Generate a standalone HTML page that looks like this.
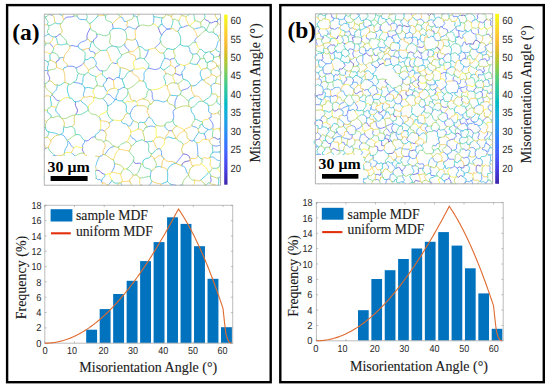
<!DOCTYPE html>
    <html><head><meta charset="utf-8"><style>
    html,body{margin:0;padding:0;background:#fff;width:550px;height:388px;overflow:hidden}
    svg{display:block}
    </style></head><body>
    <svg width="550" height="388" viewBox="0 0 550 388">
    <defs><linearGradient id="par" x1="0" y1="1" x2="0" y2="0"><stop offset="0.000" stop-color="#3e26a8"/><stop offset="0.048" stop-color="#4332cb"/><stop offset="0.095" stop-color="#4741e5"/><stop offset="0.143" stop-color="#4852f4"/><stop offset="0.190" stop-color="#4563fd"/><stop offset="0.238" stop-color="#3875fe"/><stop offset="0.286" stop-color="#2e87f7"/><stop offset="0.333" stop-color="#2797eb"/><stop offset="0.381" stop-color="#20a5e3"/><stop offset="0.429" stop-color="#12b1d6"/><stop offset="0.476" stop-color="#02bac3"/><stop offset="0.524" stop-color="#24c1ae"/><stop offset="0.571" stop-color="#37c897"/><stop offset="0.619" stop-color="#57cc7a"/><stop offset="0.667" stop-color="#81cc59"/><stop offset="0.714" stop-color="#abc739"/><stop offset="0.762" stop-color="#d1bf27"/><stop offset="0.810" stop-color="#f0ba36"/><stop offset="0.857" stop-color="#fec338"/><stop offset="0.905" stop-color="#fad62d"/><stop offset="0.952" stop-color="#f5e924"/><stop offset="1.000" stop-color="#f9fb15"/><stop offset="1" stop-color="#f9fb15"/></linearGradient></defs>
    <rect width="550" height="388" fill="#fff"/>
    <rect x="7.10" y="5.1" width="263.60" height="377.1" fill="none" stroke="#000" stroke-width="2.4"/>
<text x="12.30" y="39.80" font-family="Liberation Serif" font-weight="bold" font-size="23.5" fill="#000">(a)</text>
<g id="mapa"><g fill="none" stroke-width="0.95" stroke-linejoin="round" stroke-linecap="round"><path d="M86.7 162.4L85.8 164.4L83.7 165.3L82.5 167.0M69.6 172.9L67.6 173.2L66.2 174.5L64.8 175.9L63.1 176.7M181.5 165.7L182.4 163.9L183.5 162.6L184.9 161.8L186.6 161.3L188.3 161.0L190.0 160.5M220.5 52.8L219.7 54.6L219.2 56.3M58.9 174.6L58.9 172.6L60.0 170.7L59.8 168.6M220.5 127.7L220.3 127.7" stroke="#7463c1"/><path d="M106.7 78.9L108.7 77.8L110.4 78.2L112.0 79.4L113.6 80.2M161.6 35.1L160.7 33.6L159.9 32.1L159.3 30.5L158.7 28.8L158.0 27.2M75.6 114.5L76.9 112.6L77.5 110.8L77.2 109.0L76.3 107.3L75.5 105.5L75.3 103.7L75.5 101.9M55.0 155.5L55.8 156.0L56.7 156.2M96.1 170.3L97.9 170.3L99.4 170.9L100.7 172.0L102.0 173.2L103.5 174.0L105.1 174.4M183.2 153.9L185.1 154.2L186.9 154.7L188.4 155.5L189.5 157.0L190.3 158.9M70.9 182.5L72.9 183.6L75.1 183.9M52.5 52.5L51.6 52.7L51.0 53.4M219.6 138.7L217.8 139.4L216.3 138.5L214.7 137.5L213.0 137.7" stroke="#786cd9"/><path d="M87.2 39.0L87.0 37.2L87.0 35.4L87.4 33.8L88.1 32.2L88.9 30.7L89.7 29.1L90.5 27.6M48.4 70.6L47.7 72.3L47.9 74.1L48.9 75.8L49.7 77.5L49.6 79.3L48.6 81.1M139.0 26.1L137.1 27.2L136.1 29.1M206.5 30.2L205.6 30.3M82.7 147.6L82.3 149.7L83.2 151.5L84.1 153.3M116.4 99.2L115.2 99.5M133.4 161.1L134.5 162.9L136.1 163.5L138.1 163.2L139.8 163.2L141.3 164.2M147.4 142.2L145.8 141.7L144.4 140.8M102.4 183.0L101.8 182.0L101.6 181.0M204.5 18.6L205.6 19.9L207.2 20.6L208.8 21.3L209.8 22.7M209.8 22.7L211.7 22.9L213.4 22.1L215.2 21.3L217.1 21.6M60.3 34.0L58.5 34.7L57.2 36.3L55.4 36.9M168.8 130.7L170.6 130.7L172.3 130.7M181.9 74.4L179.9 75.3L178.1 74.7L176.3 73.7L174.4 73.6M56.0 62.9L56.9 61.1L58.8 60.1L59.3 58.1M48.5 14.6L50.3 14.7L52.0 15.2" stroke="#7a76ec"/><path d="M74.3 15.9L72.8 16.5L71.3 16.9L69.6 17.0L67.9 17.0L66.3 17.4L64.9 18.3L63.7 19.7M96.7 34.3L97.0 36.2L96.3 37.7L94.8 38.7L93.6 40.0L93.2 41.6M76.1 68.1L77.8 67.2L79.4 66.3L81.1 65.4L82.6 64.2L83.9 62.9M52.1 95.0L53.3 96.1L54.3 97.4L55.3 98.8L56.5 99.9L58.0 100.6L59.8 101.0M84.7 140.5L86.8 140.9L88.5 140.4L90.0 139.0L91.5 137.6L93.2 136.9L95.1 136.9M44.3 149.8L45.4 149.0L46.2 147.9M220.5 96.5L220.1 96.4M53.6 47.8L52.3 46.3L51.1 44.6L49.6 43.3M210.0 182.8L211.1 181.2L211.0 179.5L210.5 177.7L211.0 176.1M93.2 41.6L92.5 41.8L91.7 41.8" stroke="#7b83f7"/><path d="M70.0 46.0L72.0 45.5L74.0 45.9L75.9 46.4L77.9 46.2M113.0 28.7L113.2 27.0L112.5 25.4L112.5 23.8M67.3 66.1L69.2 66.2L71.0 66.2L72.9 66.3L74.6 67.0L76.1 68.1M95.6 65.6L96.7 66.9L97.8 68.4L98.9 69.9L100.4 70.7L102.4 71.0M112.8 62.6L115.0 63.5L117.3 63.3M130.4 71.2L131.1 70.9L131.9 70.9M170.5 28.8L168.5 29.1L166.6 29.6L165.1 30.7L163.9 32.1L162.7 33.6L161.6 35.1M188.4 25.5L186.7 25.8L185.0 26.4L183.4 27.1L181.8 27.4M148.2 68.1L150.0 68.4L151.7 68.9L153.5 69.3L155.3 69.5L157.0 69.3L158.7 68.6L160.4 67.6M150.6 89.9L151.5 91.3L152.1 92.8L152.3 94.5L152.2 96.2L152.4 97.8L153.0 99.3L154.1 100.7M203.0 101.4L203.6 101.4M176.2 163.1L177.2 161.8L178.2 160.5L179.2 159.2L180.3 157.9L181.3 156.6L182.3 155.2L183.2 153.9M171.3 184.4L173.6 184.8L175.9 185.2M209.0 118.2L210.1 119.7L211.3 121.3L212.3 122.8L213.0 124.5L213.0 126.4L212.7 128.5M219.2 128.6L220.3 127.7M190.7 85.6L189.4 86.9L188.0 88.1L186.4 88.9L184.7 89.5L183.0 90.0L181.3 90.6M56.7 156.2L56.5 158.1L56.5 159.9L56.5 161.7L56.5 163.6L56.3 165.4M217.1 21.6L217.4 20.7L217.6 19.8M124.8 43.7L124.8 45.7L125.6 47.3L127.2 48.5L128.4 49.8L129.1 51.4M127.9 26.9L126.2 28.6L124.6 30.3M217.8 23.2L217.5 22.4L217.1 21.6M181.0 14.2L181.4 15.0L182.0 15.6M208.6 172.2L208.4 172.2M170.0 60.3L171.1 58.9L172.8 58.7L174.3 58.2M205.8 139.6L205.7 137.5L205.0 135.7L204.2 133.9M180.1 64.5L178.4 65.7L176.3 66.4L175.0 68.2M104.5 131.1L102.5 130.1L100.2 129.9" stroke="#798ffd"/><path d="M77.9 46.2L78.8 44.5L79.8 43.1L81.3 42.2L82.9 41.6L84.5 41.0L86.0 40.1L87.2 39.0M81.8 84.3L80.3 83.6L78.6 83.1L77.0 82.9L75.3 82.6L73.7 82.3M155.1 47.9L156.1 46.5L157.4 45.4L158.8 44.3L159.9 43.0L160.7 41.4M195.9 42.6L194.5 40.2L196.1 38.7L197.4 37.0M148.6 49.8L148.1 51.4L147.5 53.0L146.9 54.5L146.2 56.0L145.3 57.4L144.3 58.7M99.5 156.6L101.5 155.8L103.2 154.4M173.0 119.7L173.6 118.2L173.8 116.6L173.5 114.8L173.1 113.0L173.2 111.4L174.1 109.9L175.7 108.6M209.0 118.2L211.2 117.4L210.9 115.2L211.6 113.6M193.8 140.5L191.8 141.1L189.9 140.2M220.3 127.7L220.5 127.3M157.7 148.9L159.0 148.7L160.3 149.2M59.8 168.6L61.5 168.1L63.3 168.1L65.0 168.5L66.7 168.9L68.4 168.8M45.7 179.9L45.0 179.4L44.3 178.7M80.9 167.3L79.5 165.8L77.9 165.0L75.9 164.7L74.1 164.2L72.5 163.2M162.2 24.4L163.5 25.9L164.9 27.4L166.4 28.5L168.3 29.0L170.5 28.8M175.1 107.5L174.9 105.8L174.9 104.0L175.0 102.4L175.4 100.7L176.0 99.1L176.7 97.6L177.5 96.0M107.2 94.0L108.9 94.4L110.3 95.2L111.4 96.4L112.5 97.7L113.8 98.7L115.2 99.5M219.6 138.7L220.3 140.4L219.6 142.2L220.5 143.8M122.2 79.1L120.5 78.6L119.0 77.6M200.1 59.1L199.1 60.8L197.8 62.5L197.0 64.4M164.9 58.2L166.7 58.7L168.5 59.2L170.0 60.3M67.3 140.3L68.6 141.4L69.6 142.7L70.3 144.2L71.1 145.7L72.3 146.8L73.8 147.6M95.2 54.2L94.5 52.5L92.9 51.7L90.9 51.4L89.6 50.4L89.2 48.4M212.4 145.3L214.0 145.8L215.7 146.0L217.3 146.0L218.9 145.6L220.5 145.0" stroke="#709cff"/><path d="M113.6 80.2L115.1 78.8L116.7 77.5L119.0 77.6M134.9 38.9L136.3 40.1L137.1 41.6L137.6 43.3L138.0 45.0L138.7 46.6M148.2 68.1L147.3 69.0L146.5 69.9M84.7 140.5L84.5 142.4L83.3 144.0L82.4 145.6L82.7 147.6M111.5 172.3L112.5 170.7L113.4 169.1L114.1 167.4L114.5 165.5L114.7 163.6M137.3 105.5L135.3 106.1L133.6 107.1L132.5 108.5L131.6 110.3L130.9 112.0L130.0 113.7M160.3 149.2L161.2 150.6L161.5 152.2L161.4 154.0L161.7 155.6L162.6 157.0M197.9 155.9L197.8 154.3L197.8 152.6L197.7 150.9L197.6 149.2L197.5 147.6L197.3 145.9L197.0 144.3L196.7 142.6M180.3 185.2L181.4 184.9L182.4 184.3M80.5 178.8L79.5 177.6L78.1 176.5L77.0 175.3L76.7 173.5M48.1 70.4L46.2 70.5L44.3 70.6M48.3 25.4L47.6 24.9L46.9 24.6M155.3 127.2L153.7 126.5L152.0 126.1L150.3 126.1L148.6 126.5L146.9 127.0M88.6 182.1L88.4 183.5L88.9 184.8M60.8 185.2L60.8 184.7M114.4 146.3L112.5 146.9L110.7 147.6L109.3 148.7L108.0 150.0L106.9 151.5L105.9 153.1L105.0 154.7M88.6 185.2L88.9 184.8M197.8 128.7L196.5 127.5L194.9 126.9L193.2 126.5L191.8 125.6M117.9 89.8L119.6 89.4L121.2 88.5L122.8 87.6L124.6 87.4M130.5 134.3L130.9 136.4L132.1 137.9L133.9 138.8L135.5 140.0L136.3 141.7M54.5 177.0L55.9 176.0L57.3 175.2L58.9 174.6M86.6 156.0L86.8 158.2L86.8 160.3L86.7 162.4M55.0 155.5L53.3 155.8L51.8 156.6L50.5 157.8L49.1 158.8L47.5 159.4L45.7 159.4" stroke="#68a9f9"/><path d="M86.3 20.0L84.6 19.6L82.9 19.5L81.0 19.5L79.4 19.1L78.0 17.9L77.0 16.0M59.3 58.1L61.6 57.5L63.8 57.9M75.5 101.9L77.4 101.7L79.1 101.0L80.8 100.5M131.9 70.9L132.9 69.9L133.9 68.8M181.8 27.4L179.5 27.8L179.0 29.9L177.7 31.2M152.9 23.9L153.6 22.2L153.8 20.4L153.8 18.5L154.0 16.8M192.6 54.2L191.0 53.0L190.1 51.5L189.7 49.6L189.2 47.9L188.3 46.3M184.2 65.5L185.0 67.6L184.3 69.3L182.7 70.8L181.8 72.4L181.9 74.4M181.9 74.4L182.4 76.0L182.6 77.8L183.4 79.3M100.2 120.1L100.2 118.3L99.0 117.0M107.7 106.0L107.2 104.2L106.4 102.6L105.2 101.1L104.0 99.8L102.8 98.4M67.3 140.4L66.2 138.9L65.2 137.3L64.0 135.9L62.5 135.0L60.6 134.4M144.8 122.3L146.1 121.2L146.8 119.7L147.6 118.2L149.1 117.3M188.5 174.6L187.5 173.4L186.7 172.0L186.1 170.3L185.6 168.7L184.8 167.3L183.4 166.3L181.5 165.7M151.3 170.6L150.9 172.5L150.5 174.3L150.3 176.3M45.7 159.4L45.4 157.8L44.3 156.7M95.8 170.7L96.1 170.3M218.2 178.2L219.7 177.5L220.5 176.0M44.3 127.5L45.5 127.2M215.5 83.1L213.7 83.5L212.3 84.5L211.0 85.7M103.4 86.1L103.6 84.1L105.0 82.5L106.4 81.0L106.7 78.9M88.9 184.8L89.3 185.2M101.6 181.0L100.0 179.6L97.6 179.7L96.1 178.1M140.8 184.9L142.0 185.2M107.4 91.5L105.9 90.5L105.3 88.9L104.7 87.2L103.4 86.1M171.3 184.4L171.0 185.2M220.5 160.3L218.5 160.5L216.8 159.9L215.3 158.6L213.8 157.3L212.1 156.9L210.0 157.3M177.4 83.8L176.2 83.1L174.8 82.9M120.5 16.8L122.4 17.6L123.3 19.7L124.4 21.5L126.9 21.4M136.1 29.1L134.3 29.0L132.7 28.4L131.2 27.5L129.6 26.9L127.9 26.9M137.1 17.0L135.5 16.1L133.6 16.0M108.7 185.2L108.4 184.6M128.9 52.2L129.1 51.4M135.7 59.6L138.0 58.9L140.0 57.8M71.2 152.6L72.6 153.7L73.9 155.0L75.2 156.2M128.2 126.4L130.3 125.7L131.4 124.1L132.2 122.2L133.4 120.7M212.4 152.8L214.2 152.0L216.0 152.1L217.9 152.2L219.7 151.7M212.7 128.5L211.1 129.0L209.6 129.8L207.9 129.3" stroke="#64b4f1"/><path d="M112.2 45.8L114.1 46.3L116.1 46.7M93.6 57.7L94.4 59.2L95.3 60.6L96.2 62.1L96.3 63.8L95.6 65.6M67.3 66.1L66.0 67.3L64.0 67.9L63.1 69.8M57.1 85.0L57.1 86.9L56.8 88.6L56.0 90.2L54.9 91.5L53.6 92.7L52.2 93.8M83.9 96.9L83.3 95.1L83.5 93.3L84.3 91.6L84.8 89.8L84.7 88.1M215.5 48.7L216.5 47.1L217.1 45.3L217.4 43.4L218.1 41.7L219.4 40.3M219.4 40.3L219.4 40.2M160.4 67.6L161.0 66.0L161.6 64.3L162.2 62.7L162.9 61.1L163.8 59.6L164.9 58.2M146.5 69.9L145.1 71.2L144.2 72.7L143.9 74.4L144.1 76.1L144.2 77.9L143.9 79.6L143.3 81.1M154.1 100.7L155.7 100.3L157.3 100.3L159.0 100.7L160.6 101.3L162.3 101.9L163.9 101.9L165.6 101.3L167.2 100.3M191.9 85.8L193.9 85.8L195.7 85.3L197.1 84.3L198.3 83.0L199.4 81.6L200.8 80.5L202.2 79.6M128.2 126.4L127.3 124.6L125.6 123.8L123.4 123.5L121.9 122.4L121.3 120.3M113.1 120.3L111.6 121.0L110.3 121.9L109.1 123.1M56.6 106.9L55.7 109.1L55.8 111.0L56.9 112.5L58.5 113.9L59.6 115.4L60.2 117.1M115.2 99.5L114.3 100.9L113.2 102.2L112.0 103.4L110.7 104.4L109.2 105.2L107.7 106.0M64.5 153.4L64.5 151.7L64.9 150.1L65.6 148.5L66.6 147.0L67.4 145.5L67.8 143.9L67.7 142.2L67.3 140.4M99.5 156.6L98.7 158.0L98.0 159.4L97.4 160.9L96.8 162.4L96.4 163.9L95.8 165.5L95.2 166.9M211.6 113.6L209.4 112.6L208.5 111.0L208.7 109.0L208.8 107.0L208.3 105.3M130.0 113.7L130.4 115.6L131.0 117.5L132.0 119.2L133.4 120.7M162.6 157.0L163.3 157.8L164.0 158.7M161.6 167.1L159.5 166.4L157.4 166.7L155.4 167.5M152.2 181.3L151.3 182.7L150.4 184.0L149.3 185.2M207.9 129.3L206.1 128.3L204.4 127.4L203.1 126.0L202.2 124.1M204.2 133.9L205.2 132.2L206.9 131.0L207.9 129.3M44.3 36.2L46.0 35.8L47.2 34.4L48.9 34.2M213.6 57.2L213.3 55.1L211.2 54.0L210.5 52.1M88.6 182.1L87.5 179.9L85.4 178.7M165.0 125.0L164.9 127.1L165.9 128.5L167.4 129.6L168.8 130.7M193.8 140.5L194.4 139.0L195.2 137.5L196.1 136.2L197.1 134.9L197.9 133.5L198.8 132.1M122.2 185.2L121.1 184.2L120.8 182.8M217.6 19.8L219.3 19.1L220.5 17.8M53.3 14.2L52.8 14.9L52.0 15.2M116.4 99.2L115.9 97.2L116.5 95.4L117.7 93.6L118.3 91.8L117.9 89.8M48.9 34.2L50.2 35.4L51.6 36.2L53.2 36.9M53.2 36.9L54.3 36.9L55.4 36.9M216.9 66.0L218.0 66.1M196.8 53.7L194.7 54.0L192.6 54.2M108.4 184.6L109.9 183.4L111.1 181.9L112.1 180.3M194.1 29.3L195.8 28.5L197.7 28.1L199.6 27.7L201.3 26.8" stroke="#5ebeea"/><path d="M124.6 30.3L123.0 29.5L121.4 28.8L119.8 28.4L118.1 28.3L116.4 28.4L114.7 28.5L113.0 28.7M83.9 62.9L84.2 61.2L85.1 59.7M82.3 50.1L80.5 49.1L79.0 47.9L77.9 46.2M119.0 77.6L119.4 76.0L119.7 74.4L120.0 72.7L120.1 71.0L120.2 69.4L120.2 67.7M102.4 71.0L102.7 72.4L102.2 73.7M84.7 88.1L83.6 85.9L81.8 84.3M84.6 74.7L83.5 76.2L83.0 77.7L82.9 79.4L82.9 81.2L82.6 82.8L81.8 84.3M84.7 88.1L86.6 87.6L88.5 87.5L90.3 87.8L92.1 88.2L94.0 88.7M199.6 49.3L201.6 49.5L203.1 51.0L204.6 52.4L206.8 52.4M218.2 36.8L217.1 34.9L214.9 34.1L213.6 32.4M149.3 89.5L150.6 89.9M202.2 79.6L201.6 78.0L200.9 76.3L200.3 74.7L200.2 73.0L200.7 71.3L201.7 69.6M211.5 93.6L211.7 91.6L211.5 89.6L211.1 87.7L211.0 85.7M204.1 80.1L203.1 80.0L202.2 79.6M95.1 136.9L95.4 135.0L96.6 133.7L98.2 132.7L99.5 131.5L100.2 129.9M48.8 131.9L50.5 132.3L52.2 132.6L53.9 132.9L55.6 133.3L57.2 133.9L58.8 134.8M60.6 134.4L62.4 133.3L63.3 131.9L63.5 130.1L63.6 128.3L64.0 126.6M88.1 108.7L88.2 109.5L88.2 110.3M122.6 101.0L121.0 100.8L119.3 100.8L117.7 100.4L116.4 99.2M149.1 117.3L150.8 118.2L152.1 119.5L153.0 121.1L153.8 122.8L155.0 124.3L156.5 125.4M194.9 119.2L194.8 117.4L194.3 115.7L193.4 114.2L192.2 112.8L191.3 111.2L191.0 109.5L191.1 107.7M175.6 138.3L173.8 138.5L171.9 138.1L170.0 137.3L168.2 136.9L166.4 137.7L164.8 139.5M175.8 163.2L173.8 163.8L172.0 164.5L170.5 165.6L169.3 167.0L168.2 168.6L167.3 170.4M167.3 170.4L167.6 172.2L167.7 174.0L167.7 175.9L167.6 177.7L167.5 179.5L167.3 181.3M161.2 184.3L162.6 183.4L164.3 182.9L166.0 182.4L167.3 181.3M215.5 48.7L216.4 50.2L217.7 51.1L219.2 51.8L220.5 52.7M63.1 176.7L63.5 178.4L63.3 180.2L63.0 182.0L63.1 183.8M48.1 70.4L47.5 68.7L47.6 66.9L48.2 65.2L48.4 63.5L47.8 61.8M47.8 61.8L46.0 60.9L44.3 59.9M208.2 62.3L210.0 61.1L212.2 61.1M170.2 94.9L172.0 95.4L173.8 95.5L175.7 95.6L177.5 96.0M85.4 178.7L83.8 179.0L82.2 179.2L80.5 178.8M162.3 17.8L161.6 19.5L161.5 21.1L161.7 22.8L162.2 24.4M93.6 57.7L91.7 57.3L90.0 57.8L88.5 59.0L86.9 59.8L85.1 59.7M62.7 16.2L61.1 15.0L59.3 14.2M55.6 22.8L57.2 23.7L58.9 23.8L60.6 23.8M80.8 100.5L81.9 102.0L83.3 103.2L84.9 104.3L86.3 105.4L87.4 106.9L88.1 108.7M105.1 174.4L104.8 176.3L103.5 177.8L102.1 179.1L101.6 181.0" stroke="#54c7e2"/><path d="M98.2 15.9L97.0 17.0L95.9 18.2L94.8 19.4L93.7 20.6L92.5 21.7L91.2 22.7L89.9 23.6M102.2 73.7L103.0 75.3L104.2 76.5L105.6 77.6L106.7 78.9M69.6 98.0L69.0 96.3L68.5 94.6L67.9 92.9L67.5 91.2L67.3 89.4L67.4 87.7L67.9 85.9L68.6 84.1M69.6 98.0L71.6 98.1L72.8 99.5L73.9 101.2L75.5 101.9M122.2 79.1L122.6 80.8L123.2 82.4L123.8 84.0L124.3 85.7L124.6 87.4M138.7 46.6L140.5 46.6L142.1 47.3L143.5 48.8L144.9 50.1L146.6 50.4L148.6 49.8M167.2 48.9L169.0 48.6L170.8 49.2L172.6 49.6L174.5 49.1M180.3 44.4L181.7 45.3L183.3 45.9L184.9 46.2L186.6 46.2L188.3 46.3M154.0 16.8L153.4 15.4L152.6 14.2M163.7 70.1L162.0 68.9L160.4 67.6M143.3 81.1L144.8 82.1L145.8 83.6L146.1 85.5L146.5 87.3L147.6 88.6L149.3 89.5M134.6 100.7L135.6 101.1L136.6 101.7M197.0 64.4L195.1 64.3L193.3 64.2L191.5 63.7L189.8 62.9M183.4 79.3L185.1 79.8L186.7 80.4L188.1 81.2L189.2 82.4L190.0 83.9L190.7 85.6M45.5 127.2L45.9 129.2L46.7 131.0L48.8 131.9M127.7 113.4L126.6 111.9L126.1 110.1L126.3 108.2L126.5 106.3L125.9 104.6L124.7 103.1M208.3 105.3L207.2 103.4L205.1 102.8L203.6 101.4M138.4 123.5L139.9 122.3L141.5 122.3L143.2 122.7L144.8 122.3M142.7 163.9L142.9 161.7L143.6 160.0L144.9 159.1L146.7 158.5L148.5 158.0L149.9 157.1L151.0 155.9M196.7 142.6L195.1 141.7L193.8 140.5M167.3 181.3L168.5 182.5L169.7 183.7L171.3 184.4M200.6 180.3L201.7 179.1L202.9 178.1L204.2 177.0L205.4 176.0L206.6 174.9L207.6 173.6L208.4 172.2M188.7 101.5L189.4 99.4L191.1 98.4L193.1 97.6L194.5 96.2M219.7 151.7L220.1 153.1L220.5 154.6M51.3 106.4L51.3 104.8L51.2 103.1L50.9 101.5L50.7 99.9L50.5 98.2L50.5 96.6M216.8 100.9L217.1 102.6L218.3 103.7L220.1 104.6L220.9 106.0L220.5 108.0M44.3 16.7L45.6 17.0M51.1 117.3L51.1 115.5L50.1 114.2L48.4 113.2L47.4 111.8L47.4 110.0M217.9 167.8L218.8 166.7L219.9 165.8M133.6 16.0L133.3 15.1L133.1 14.2M218.2 178.2L218.8 180.0L218.8 181.7L218.6 183.4L218.3 185.2M46.0 185.2L46.8 184.6M51.0 53.4L49.8 55.0L49.9 56.8L50.2 58.6L49.9 60.3M105.8 140.5L104.5 141.1L103.4 141.9M89.2 48.4L90.3 46.9L90.6 45.2L90.9 43.4L91.7 41.8M220.5 137.4L220.2 138.1L219.6 138.7M52.1 95.0L51.5 95.9L50.5 96.6" stroke="#49ced4"/><path d="M109.7 33.5L109.8 31.3L111.2 29.9L113.0 28.7M100.4 50.4L102.5 50.5L104.5 50.2L106.6 50.3M106.6 50.3L107.4 48.4L108.8 47.3L110.6 46.6L112.2 45.8M66.9 43.8L65.1 44.1L63.3 44.6L61.5 44.9L59.7 44.8L57.8 44.1M117.3 63.3L117.0 61.0L117.9 59.3L119.7 58.1L121.2 56.7L121.7 54.8M121.7 54.8L120.5 53.7L119.5 52.3L118.9 50.7L118.3 49.2L117.3 47.8L116.1 46.7M57.1 85.0L59.0 85.4L60.6 85.0L62.0 84.0L63.4 83.0L65.0 82.4M73.7 82.3L75.3 81.3L76.4 80.0L76.9 78.3L77.3 76.6L77.7 74.9L78.5 73.4M96.3 76.6L94.5 76.2L92.8 75.6L91.1 74.9L89.7 73.8L88.4 72.4M130.4 71.2L128.8 71.8L127.5 72.8L126.5 74.2L125.8 75.8L124.9 77.2L123.7 78.3L122.2 79.1M160.7 41.4L159.9 39.1L160.8 37.1L161.6 35.1M174.5 49.1L176.1 48.1L177.4 46.8L178.7 45.4L180.3 44.4M180.3 44.4L180.5 42.6L180.7 40.9L180.7 39.2L180.6 37.5L180.1 35.9L179.5 34.3L178.7 32.8L177.7 31.2M206.8 52.4L208.6 51.7L210.5 52.1M164.9 58.2L164.7 56.5L164.1 54.7L163.7 53.0M174.3 58.2L175.5 59.4L176.3 61.1L176.9 62.8L178.1 63.9L180.1 64.5M165.3 84.7L165.7 82.9L165.3 81.1L164.4 79.2L163.8 77.4L164.3 75.6L165.9 73.9M203.6 101.4L205.0 100.2L206.6 99.1L208.2 98.2L209.7 97.0L210.7 95.5L211.5 93.6M75.5 134.7L77.8 134.5L79.7 134.9L81.0 136.3L82.0 137.9L83.2 139.4L84.7 140.5M58.8 134.8L59.8 134.8L60.6 134.4M124.7 103.1L123.3 102.4L122.6 101.0M113.4 159.9L114.1 161.8L114.7 163.6M194.9 119.2L196.8 119.6L198.6 120.5L200.4 121.4L202.3 121.8M175.8 163.2L176.2 163.1M210.0 157.3L210.5 155.6L211.3 154.1L212.4 152.8M212.4 152.8L212.9 150.9L212.7 149.1L212.3 147.2L212.4 145.3M44.6 162.8L45.2 161.1L45.7 159.4M103.8 14.2L103.8 15.3M198.8 132.1L200.4 133.3L202.3 133.3L204.2 133.9M76.7 173.5L74.9 174.0L73.2 173.7L71.4 173.2L69.7 173.0M44.3 83.4L45.2 83.7M147.4 142.2L149.0 141.3L150.9 141.5L152.6 141.0M112.1 180.3L113.4 182.3L115.2 183.1L117.3 183.1L119.3 183.1M204.3 14.2L205.0 16.3L204.5 18.6M55.4 36.9L56.5 38.6L57.0 40.4L57.4 42.3L57.8 44.1M178.7 20.5L179.0 22.5L179.6 24.2L180.6 25.9L181.8 27.4M173.0 19.6L172.9 21.5L172.6 23.4L172.0 25.2L171.3 27.0L170.7 28.8M170.2 65.5L168.5 66.6L167.0 67.8L165.4 69.0L163.7 70.1M63.1 183.8L61.9 184.1L60.8 184.7M96.1 178.1L96.1 176.2L95.6 174.4L95.3 172.6L95.8 170.7M167.2 48.9L165.9 50.2L164.8 51.6L163.7 53.0M157.7 148.9L156.2 149.6L155.0 150.8L154.1 152.2L152.9 153.3L151.3 153.8M154.0 16.8L155.7 16.9L157.3 17.2L159.0 17.6L160.6 17.8L162.3 17.8M201.3 26.8L203.5 27.1L205.0 28.1L205.6 30.3M158.0 27.2L159.7 26.8L160.3 24.6L162.2 24.4" stroke="#61d3c5"/><path d="M105.6 15.9L104.7 15.7L103.8 15.3M93.2 41.6L93.7 43.3L94.4 44.8L95.3 46.2L96.4 47.4L97.7 48.4L99.0 49.4L100.4 50.4M116.1 46.7L118.2 47.1L120.1 47.0L121.8 46.2L123.3 45.0L124.8 43.7M85.1 59.7L84.9 58.1L85.0 56.3L85.2 54.5L85.0 52.8L84.0 51.3L82.3 50.1M78.5 73.4L77.1 71.9L76.8 69.9L76.1 68.1M88.4 72.4L86.3 73.3L84.6 74.7M189.8 25.8L188.4 25.5M213.6 32.4L211.8 32.0L209.7 32.3L207.9 32.0L206.5 30.2M137.1 17.0L137.5 18.8L137.9 20.7L138.4 22.5L138.7 24.3L139.0 26.1M144.3 58.7L145.1 60.3L146.3 61.6L147.7 62.8L148.8 64.2L148.9 65.9L148.2 68.1M127.3 89.1L128.0 90.8L128.0 92.7M88.2 110.3L86.7 111.2L85.3 112.1L83.8 113.0L82.4 113.8L80.8 114.4L79.2 114.7L77.4 114.7L75.6 114.5M72.3 126.6L73.8 127.9L74.7 129.5L75.0 131.2L75.2 133.0L75.5 134.7M106.8 111.3L107.5 109.6L107.7 107.8L107.7 106.0M106.8 111.3L107.5 113.1L108.1 114.8L108.9 116.5L110.0 118.0L111.4 119.3L113.1 120.3M48.4 147.7L49.0 149.4L49.9 150.9L51.0 152.2L52.3 153.3L53.7 154.4L55.0 155.5M175.7 108.6L175.1 107.5M173.0 119.7L173.2 121.8L173.8 123.6L175.0 125.1L176.9 126.1M203.0 101.4L201.0 101.2L199.3 101.5L197.8 102.3L196.6 103.7L195.5 105.1L194.2 106.4L192.7 107.2L191.1 107.7M144.4 140.8L142.7 140.0L141.1 139.9L139.5 140.5L137.9 141.2L136.3 141.7M151.3 153.8L149.6 152.5L148.7 151.0L148.5 149.2L148.7 147.3L148.8 145.4L148.3 143.7L147.4 142.2M197.9 155.9L199.3 157.0L200.5 158.4L202.2 158.9M150.3 176.3L150.4 178.2L151.1 179.8L152.2 181.3M181.3 90.6L180.9 92.6L180.2 94.5M220.5 149.9L220.3 150.8L219.7 151.7M44.3 46.5L45.7 45.2L46.0 43.4M95.2 166.9L94.2 165.5L92.8 164.7L91.0 164.6L89.2 164.5L87.8 163.8L86.7 162.4M202.2 124.1L200.0 124.9L199.8 127.6L197.8 128.7M56.3 165.4L57.5 167.6L59.8 168.6M68.4 168.8L68.6 166.8L70.4 165.6L71.0 163.8M217.9 167.8L216.1 168.4L214.2 168.2L212.4 168.3M208.6 172.2L210.2 173.9L211.0 176.1M50.8 168.2L49.5 167.2L48.3 166.1L47.1 164.9L45.9 163.8L44.6 162.8M45.2 83.7L47.1 82.7L48.6 81.1M66.6 184.6L67.8 183.4L69.5 183.3L70.9 182.5M72.3 126.6L70.7 126.5L69.0 126.9L67.3 127.6L65.7 127.5L64.0 126.6M194.0 14.2L194.0 15.9L194.3 17.5L194.8 19.1L195.0 20.7M206.8 52.4L205.5 53.7L204.1 54.9L203.4 56.4L204.0 58.5M204.0 58.5L205.4 59.8L205.8 62.2L208.2 62.3M212.2 61.1L213.4 59.4L213.6 57.2M219.9 165.8L219.9 163.6L220.5 161.5M56.1 182.8L54.9 183.9L53.4 184.5L52.0 185.2M46.8 184.6L47.2 182.9L46.4 181.4L45.7 179.9M210.0 182.8L208.2 183.2L206.7 184.4L204.9 184.9M86.5 14.2L87.2 16.2L87.0 18.1L86.3 20.0M98.2 15.9L97.8 15.0L97.2 14.2M66.7 185.2L66.6 184.6M55.6 22.8L53.8 23.6L52.1 24.6L50.3 25.4L48.3 25.4M211.5 74.1L210.9 72.3L210.9 70.4M210.9 70.4L209.3 70.0L208.3 68.5L206.8 67.9M127.7 113.4L128.8 113.7L130.0 113.7M200.1 59.1L199.7 56.9L198.3 55.3L196.8 53.7M56.3 165.4L54.5 166.5L52.7 167.4L50.8 168.2M151.3 170.6L150.0 169.4L148.3 168.6L146.3 168.2L144.6 167.5L143.4 166.1L142.7 163.9M46.9 24.6L48.2 22.4L47.4 20.6L46.0 18.9L45.6 17.0M80.9 167.3L81.7 166.9L82.5 167.0M122.6 101.0L123.4 99.6L124.5 98.3L125.7 97.1L126.9 95.9L127.6 94.4L128.0 92.7M120.5 16.8L120.3 16.8M144.3 58.7L142.2 58.3L140.0 57.8M46.6 137.2L47.8 135.6L48.6 133.9L48.8 131.9M138.4 123.5L138.6 125.4L138.6 127.3L137.8 129.1" stroke="#6fd7b4"/><path d="M77.0 16.0L75.7 16.0L74.3 15.9M63.7 19.7L62.8 21.2L62.1 22.8L60.6 23.8M60.3 34.0L61.2 35.4L62.3 36.7L63.6 37.8L64.9 39.0L66.0 40.3L66.6 42.0L66.9 43.8M66.9 43.8L68.5 44.7L70.0 46.0M89.9 23.6L88.2 22.9L87.5 21.2L86.3 20.0M90.5 27.6L91.0 29.6L92.5 30.7L94.6 31.2L96.1 32.3L96.7 34.3M96.7 34.3L98.3 34.2L99.9 34.4L101.6 34.9L103.3 35.5L104.9 35.8L106.5 35.6L108.1 34.8L109.7 33.5M112.5 23.8L111.4 22.4L109.8 21.5L107.8 20.9L106.2 20.0L105.5 18.3L105.6 15.9M127.0 39.6L126.8 38.0L126.6 36.4L126.5 34.8L126.1 33.3L125.4 31.8L124.6 30.3M53.6 47.8L53.6 49.4L52.8 50.9L52.5 52.5M52.5 52.5L54.5 52.9L56.2 53.6L57.4 54.9L58.4 56.5L59.3 58.1M102.4 71.0L104.4 70.9L106.1 70.4L107.4 69.3L108.4 67.8L109.2 66.2L110.2 64.7L111.4 63.6L112.8 62.6M68.6 84.1L70.6 84.4L72.1 83.3L73.7 82.3M96.7 85.8L97.3 83.9L96.9 82.1L95.8 80.3L95.5 78.5L96.3 76.6M124.6 87.4L126.0 88.2L127.3 89.1M188.3 46.3L189.9 45.6L191.1 44.4L192.3 42.9L193.8 42.3L195.9 42.6M219.4 40.2L218.9 38.5L218.2 36.8M189.8 62.9L190.6 61.3L191.5 59.7L192.4 58.0L192.8 56.2L192.6 54.2M142.9 98.8L144.8 98.1L146.1 97.1L146.7 95.5L146.9 93.7L147.3 92.0L148.1 90.6L149.3 89.5M118.3 147.2L119.3 145.9L120.5 144.8L121.9 143.9L123.4 143.2L124.9 142.5L126.3 141.7M59.8 101.0L58.7 102.3L57.9 103.8L57.3 105.4L56.6 106.9M126.5 168.9L128.0 167.9L129.3 166.7L130.4 165.3L131.4 163.9L132.4 162.5L133.4 161.1M133.4 161.1L133.9 158.9L133.7 157.0L132.7 155.5L131.2 154.1L130.0 152.6L129.2 151.0M165.0 125.0L166.0 123.0L167.8 122.2L170.0 122.2L171.9 121.5L173.0 119.7M150.2 104.4L148.5 105.4L148.1 107.1L148.0 109.0M136.3 141.7L135.2 142.9L134.0 144.1L132.7 145.2L131.2 146.0M183.3 144.7L182.4 143.0L181.0 141.9L179.2 141.2L177.7 140.2L176.7 138.7M47.4 110.0L48.2 108.3L49.9 107.6L51.3 106.4M133.3 175.3L132.4 173.5L131.3 172.0L129.9 170.8L128.3 169.8L126.5 168.9M135.8 174.9L137.1 173.6L138.2 172.3L139.0 170.7L139.6 169.1L140.1 167.4L140.7 165.8L141.3 164.2M71.0 163.8L70.5 162.0L69.7 160.5L68.2 159.4L66.6 158.5L65.2 157.3L64.3 155.8L63.9 154.0M48.9 34.2L47.5 32.5L47.5 30.7L48.6 28.9L49.0 27.1L48.3 25.4M146.9 127.0L145.0 127.9L144.2 129.9L142.8 131.3M217.6 97.4L216.8 99.1L216.8 100.9M45.6 17.0L47.3 16.2L48.5 14.6M182.4 184.3L183.4 185.2M150.3 176.3L148.6 176.5L146.8 176.8L145.1 177.3L143.4 177.7L141.6 177.9L139.8 177.8M102.8 98.4L104.6 97.3L105.7 95.4L107.2 94.0M215.5 83.1L215.9 81.1L216.1 79.1L216.5 77.2M119.2 149.1L118.5 148.3L118.3 147.2M174.4 73.6L173.5 74.5M209.8 22.7L209.1 24.2L208.5 25.7L207.8 27.2L207.2 28.7L206.5 30.2M186.3 16.6L187.9 15.2L189.8 14.2M49.6 43.3L47.8 43.2L46.0 43.4M206.8 67.9L207.4 66.0L207.1 64.0L208.2 62.3M219.2 56.3L217.3 56.6L215.5 57.2L213.6 57.2M84.6 74.7L82.5 74.4L80.5 74.1L78.5 73.4M218.0 66.1L218.5 67.9L219.6 69.5L220.8 71.1L221.1 73.0L220.4 75.1M220.4 75.1L220.5 75.2M54.5 177.0L53.5 176.5M47.8 61.8L49.1 61.4L49.9 60.3M117.6 14.2L119.2 15.3L120.3 16.8M213.0 128.7L213.1 130.5L212.8 132.3L212.5 134.1L212.5 135.9L213.0 137.7M44.3 178.6L44.3 176.6L44.9 174.7L45.0 172.7" stroke="#86da9f"/><path d="M112.2 45.8L110.6 44.3L109.7 42.7L109.7 40.9L110.1 38.9L110.5 37.0L110.3 35.2L109.7 33.5M56.6 67.2L55.3 68.7L53.7 69.4L51.8 69.6L50.0 69.9L48.4 70.6M94.0 88.7L95.1 87.0L96.7 85.8M128.9 52.2L127.0 52.6L125.2 53.3L123.5 54.2L121.7 54.8M127.3 89.1L128.8 88.5L130.3 87.8L131.8 87.0L133.1 86.0L134.4 85.0L135.6 84.0L136.8 82.9L138.1 81.8L139.3 80.7M152.9 23.9L151.3 25.1L149.6 25.8L147.9 25.9L146.0 25.5L144.2 25.1L142.4 25.0L140.6 25.4L139.0 26.1M160.7 41.4L161.2 43.1L162.0 44.7L163.1 45.9L164.4 46.9L165.8 47.9L167.2 48.9M194.1 29.3L192.8 27.9L191.1 27.0L189.8 25.8M205.6 30.3L204.1 31.3L202.7 32.4L201.5 33.6L200.2 34.9L198.9 36.0L197.4 37.0M99.0 117.0L97.6 115.8L96.0 114.9L94.2 114.4L92.3 114.0L90.6 113.2L89.3 112.0L88.2 110.3M75.6 114.5L75.0 115.1M105.8 140.5L107.7 140.8L109.2 141.6L110.4 142.9L111.5 144.4L112.8 145.5L114.4 146.3M103.4 141.9L102.4 140.5L100.9 139.9L99.0 139.9L97.2 139.7L95.9 138.7L95.1 136.9M61.9 118.3L61.0 117.8L60.2 117.1M60.2 117.1L58.3 116.1L56.5 116.2L54.7 117.1L52.9 117.7L51.1 117.3M51.1 117.3L49.5 118.6L47.8 119.9L46.5 121.5M46.5 121.5L45.9 123.3L45.3 125.2L45.5 127.2M61.9 118.3L63.7 118.6L65.4 118.5L67.0 118.0L68.6 117.2L70.1 116.3L71.6 115.6L73.3 115.2L75.0 115.1M102.8 98.4L101.1 98.8L99.4 98.8L97.8 98.4L96.2 97.8L94.6 97.2M191.8 125.6L192.2 123.8L193.1 122.3L194.2 120.8L194.9 119.2M164.8 139.5L164.6 139.6M182.4 184.3L182.9 182.5L183.6 180.7L184.5 179.1L185.7 177.6L187.1 176.4L188.6 175.2M220.5 115.6L219.2 114.4L218.2 112.9M188.6 175.2L189.4 176.8L190.2 178.3L191.4 179.5L193.0 180.1L194.9 180.2M180.2 94.5L181.8 95.4L183.3 96.4L184.8 97.5L186.2 98.8L187.4 100.1L188.7 101.5M44.3 109.3L45.3 110.1M123.9 169.3L122.4 170.5L121.5 172.2L120.7 173.9M105.6 15.9L106.7 14.9L108.1 14.2M86.6 174.9L88.3 174.6L89.9 173.9L91.2 172.8L92.5 171.6L94.1 170.9L95.8 170.7M212.4 168.3L211.3 169.7L210.5 171.5L208.6 172.2M120.8 182.8L121.5 181.9M45.2 83.7L44.9 84.9L45.2 86.0M96.7 85.8L98.4 85.7L100.0 86.0L101.7 86.4L103.4 86.1M45.3 110.1L44.8 110.7L44.3 111.4M67.3 140.3L68.7 139.5L70.1 138.6L71.4 137.5L72.7 136.5L74.1 135.6L75.5 134.7M218.2 112.9L218.9 111.0L220.5 109.9M216.8 100.9L215.4 102.5L214.0 103.9L212.5 105.0L210.5 105.4L208.3 105.3M195.0 20.7L197.0 21.1L198.8 21.9L200.7 22.4M200.7 22.4L201.8 20.9L203.2 19.8L204.5 18.6M74.3 15.9L73.9 15.1L73.7 14.2M177.5 96.0L178.9 95.3L180.2 94.5M126.9 21.4L128.4 20.5L130.1 19.9L131.8 19.3L133.0 18.0L133.6 16.0M178.7 20.5L176.8 20.3L175.0 19.0L173.0 19.6M177.4 83.8L179.1 83.0L180.7 82.0L182.1 80.7L183.4 79.3M173.5 74.5L171.5 75.4L169.7 74.6L167.8 73.6L165.9 73.9M213.6 32.4L213.3 30.4L213.8 28.8L215.1 27.5L216.6 26.4L217.5 24.9L217.8 23.2M88.5 70.9L89.6 69.4L91.1 68.4L92.8 67.8L94.4 66.9L95.6 65.6M204.0 58.5L202.0 58.5L200.1 59.1M202.2 158.9L201.9 160.5L202.3 162.4L200.9 163.7M188.9 106.2L188.7 103.9L188.7 101.5M154.1 158.4L154.7 160.2L155.6 161.9L156.4 163.7L156.3 165.5L155.4 167.5M140.0 57.8L140.0 56.0L140.0 54.1L140.0 52.3L139.8 50.4L139.3 48.7L138.5 46.9M77.0 16.0L77.4 15.0L78.1 14.2M75.2 156.2L76.8 155.2L78.4 154.1L80.2 153.4L82.1 153.1L84.1 153.3M45.2 86.0L44.3 86.9M48.4 147.7L47.3 147.7L46.2 147.9M202.2 124.1L202.7 123.0L202.3 121.8" stroke="#a4da87"/><path d="M100.4 50.4L99.3 51.7L98.1 52.7L96.7 53.5L95.2 54.2M95.2 54.2L95.1 56.3L93.6 57.7M65.0 82.4L66.8 83.1L68.6 84.1M52.2 93.8L52.1 95.0M210.5 52.1L212.2 51.0L214.2 50.3L215.5 48.7M139.8 14.2L138.5 15.6L137.1 17.0M174.5 49.1L173.5 50.9L173.8 52.8L174.9 54.6L175.2 56.4L174.3 58.2M167.2 100.3L167.9 98.4L169.1 96.7L170.2 94.9M190.7 85.6L191.9 85.8M114.4 146.3L116.2 147.1L118.3 147.2M94.6 97.2L93.9 97.7M114.7 163.6L116.5 164.1L118.4 164.5L120.1 165.1L121.7 166.0L122.9 167.4L123.9 169.3M105.0 154.7L104.1 154.6L103.2 154.4M156.5 125.4L158.2 125.7L159.9 126.0L161.7 126.2L163.4 125.8L165.0 125.0M175.1 107.5L174.0 106.0L172.5 105.0L170.7 104.4L169.0 103.6L167.9 102.2L167.2 100.3M154.1 100.7L152.8 102.0L152.0 103.6L150.2 104.4M188.9 106.2L187.2 106.0L185.4 105.9L183.7 106.0L182.1 106.3L180.5 106.8L178.9 107.4L177.3 108.0L175.7 108.6M133.4 120.7L135.1 121.6L137.0 122.2L138.4 123.5M151.0 155.9L151.0 154.8L151.3 153.8M212.4 145.3L211.1 144.0L210.1 142.6L209.5 140.8M155.4 167.5L154.1 168.6L153.1 170.1L151.3 170.6M193.6 166.0L191.9 167.0L190.6 168.1L189.9 169.6L189.4 171.3L189.0 173.0L188.5 174.6M133.3 175.3L134.6 175.3L135.8 174.9M211.0 176.1L212.8 176.6L214.6 177.2L216.3 177.8L218.2 178.2M45.0 172.7L46.7 171.8L48.0 170.2L50.2 170.4M48.4 70.6L48.1 70.4M142.8 131.3L143.1 133.2L143.7 135.1L144.2 136.9L144.5 138.8L144.4 140.8M211.5 93.6L213.3 94.0L215.4 94.1L216.9 95.1L217.6 97.4M45.2 86.0L45.8 87.7L46.8 89.2L48.1 90.4L49.6 91.5L50.9 92.6L52.2 93.8M140.4 185.2L140.8 184.9M139.8 177.8L138.4 176.9L137.5 175.4L135.8 174.9M96.1 178.1L94.5 178.7L93.0 179.5L91.6 180.6L90.1 181.5L88.6 182.1M174.8 82.9L173.0 82.7L171.3 82.9L169.8 83.5L168.5 84.6L167.3 85.9M60.8 184.7L59.3 184.1L58.0 182.6L56.1 182.8M186.3 16.6L184.2 16.0L182.0 15.6M184.3 129.8L184.3 130.8M131.2 146.0L130.3 144.5L129.4 143.1L128.1 142.2L126.3 141.7M119.3 183.1L118.2 184.0L117.3 185.2M171.2 16.3L169.6 15.7L168.0 15.1L166.4 14.5M166.4 14.5L165.2 15.9L164.3 17.6L162.3 17.8M166.3 14.2L166.4 14.5M204.9 184.9L203.9 183.0L202.3 181.5L200.6 180.3M220.5 166.0L219.9 165.8M155.3 127.2L155.8 126.2L156.5 125.4M144.8 122.3L144.8 124.2L146.6 125.3L146.9 127.0M56.1 182.8L55.9 180.8L54.1 179.2L54.5 177.0M53.5 176.5L52.1 177.6L50.3 177.8L48.4 177.5L46.8 178.2L45.7 179.9M201.3 26.8L200.8 24.6L200.7 22.4M196.8 53.7L197.8 52.3L198.6 50.7L199.6 49.3M44.3 138.1L45.5 137.7L46.6 137.2" stroke="#c3d670"/><path d="M60.6 23.8L60.2 25.5L60.6 27.2L61.6 28.9L62.2 30.7L61.8 32.3L60.3 34.0M90.5 27.6L90.3 25.6L89.9 23.6M48.6 81.1L50.8 80.9L52.3 81.9L53.5 83.8L55.1 84.9L57.1 85.0M120.2 67.7L122.0 67.9L123.8 68.2L125.5 68.7L127.2 69.5L128.8 70.3L130.4 71.2M177.7 31.2L175.8 31.1L174.3 29.7L172.8 28.4L170.7 28.8M163.7 53.0L161.7 53.1L159.9 52.8L158.6 51.8L157.4 50.5L156.3 49.1L155.1 47.9M143.3 81.1L141.3 80.9L139.3 80.7M128.0 92.7L129.3 93.9L130.0 95.5L130.2 97.5L130.8 99.3L132.3 100.3L134.6 100.7M167.3 85.9L166.2 85.5L165.3 84.7M211.0 85.7L209.6 84.6L208.0 83.8L206.3 83.0L205.0 81.8L204.1 80.1M75.0 115.1L74.4 116.7L74.2 118.4L74.2 120.1L74.4 121.9L74.3 123.6L73.5 125.2L72.3 126.6M104.5 131.1L105.9 132.9L106.3 134.7L105.9 136.7L105.6 138.6L105.8 140.5M86.6 156.0L88.2 156.9L89.8 157.4L91.4 157.4L93.1 157.0L94.7 156.5L96.3 156.2L97.9 156.3L99.5 156.6M64.0 126.6L64.3 124.8L64.3 123.0L63.8 121.4L62.9 119.8L61.9 118.3M121.3 120.3L123.0 119.3L124.0 117.7L124.6 115.7L125.8 114.2L127.7 113.4M58.8 134.8L57.2 135.3L55.6 135.9L54.3 136.8L53.1 138.0L52.0 139.2L50.9 140.4M56.7 156.2L58.4 155.4L60.4 155.5L62.3 155.3L63.9 154.0M113.4 159.9L111.9 159.3L110.4 158.5L109.1 157.5L107.8 156.5L106.4 155.5L105.0 154.7M95.2 166.9L96.0 168.6L96.1 170.3M148.0 109.0L146.8 107.5L145.5 106.4L144.0 105.8L142.3 105.7L140.6 105.8L139.0 105.7L137.3 105.5M131.2 146.0L130.8 147.7L130.0 149.4L129.2 151.0M183.2 153.9L182.1 152.0L181.6 150.2L181.9 148.3L182.6 146.5L183.3 144.7M188.6 175.2L188.5 174.6M181.5 165.7L179.7 164.9L177.8 164.3L176.2 163.1M46.0 43.4L45.3 41.8L44.3 40.3M164.6 139.6L163.3 138.4L161.8 137.5L160.3 137.0L158.6 137.0L156.8 137.3M220.5 41.6L220.1 40.8L219.4 40.3M44.3 172.1L45.0 172.7M69.7 173.0L69.6 172.9M220.5 84.8L218.9 84.0L217.1 83.6L215.5 83.1M129.7 181.2L130.8 183.1L131.6 185.2M217.6 19.8L216.6 18.0L215.4 16.3L215.2 14.2M48.5 14.6L48.4 14.2M190.0 160.5L189.8 159.6L190.3 158.9M181.3 90.6L179.5 89.4L179.0 87.4L178.7 85.3L177.4 83.8M107.4 91.5L108.9 90.0L110.6 89.0L112.5 88.5L114.4 88.0M172.3 130.7L173.1 129.2L174.1 128.0L175.4 126.9L176.9 126.1M72.5 163.2L71.8 163.6L71.0 163.8M184.3 130.8L185.9 132.0L186.8 133.6L186.9 135.6L187.2 137.6L188.2 139.1L189.9 140.2M134.9 38.9L133.1 40.1L131.1 40.1L129.0 39.6L127.0 39.6M138.5 46.9L138.7 46.6M215.9 185.2L213.9 184.5L211.7 184.2L210.0 182.8M49.9 60.3L51.6 60.6L53.1 61.3L54.6 62.1L56.0 62.9M142.9 98.8L144.7 99.4L146.6 100.0L148.3 100.7L149.5 102.2L150.2 104.4M172.3 130.7L172.9 132.3L173.7 133.7L174.6 135.1L175.2 136.7L175.6 138.3M219.2 56.3L219.5 58.1L220.5 59.6M91.7 41.8L89.8 41.5L88.9 39.7L87.2 39.0M174.4 73.6L175.5 71.9L175.7 70.1L175.0 68.2M171.2 16.3L172.2 14.9L173.8 14.2M52.0 15.2L53.6 16.3L54.3 17.9L54.4 19.7L54.7 21.4L55.6 22.8M201.7 69.6L203.3 68.8L205.2 68.7L206.8 67.9M212.2 61.1L213.9 61.8L215.4 62.7L216.4 64.1L216.9 66.0M50.2 170.4L50.8 172.0L51.7 173.5L52.7 175.0L53.5 176.5M216.5 77.2L218.5 76.2L220.4 75.1M56.0 62.9L56.5 65.0L56.6 67.2M219.2 128.6L219.8 130.5L220.5 132.4" stroke="#ded164"/><path d="M124.8 43.7L125.5 41.4L127.0 39.6M63.8 57.9L64.3 56.2L64.9 54.7L65.9 53.3L67.1 52.0L68.2 50.8L69.1 49.3L69.7 47.7L70.0 46.0M63.8 57.9L63.3 60.1L64.2 61.6L65.9 62.8L67.2 64.2L67.3 66.1M65.0 82.4L64.9 80.5L64.9 78.7L64.9 76.9L64.8 75.1L64.4 73.3L63.9 71.5L63.1 69.8M135.7 59.6L135.6 57.4L134.8 55.8L133.2 55.0L131.4 54.4L129.9 53.5L128.9 52.2M139.3 80.7L139.0 78.7L138.2 77.1L136.8 76.0L135.1 75.1L133.5 74.1L132.5 72.7L131.9 70.9M165.9 73.9L165.0 71.8L163.7 70.1M191.9 85.8L191.4 87.8L191.4 89.6L191.9 91.3L192.9 92.9L193.7 94.5L194.5 96.2M194.5 96.2L196.5 96.0L198.3 96.4L199.6 97.4L200.7 98.9L201.8 100.2L203.0 101.4M109.1 123.1L109.6 125.5L109.0 127.3L107.3 128.5L105.7 129.7L104.5 131.1M103.2 154.4L103.0 152.6L103.2 150.8L104.0 149.1L104.9 147.3L105.3 145.5L104.7 143.7L103.4 141.9M50.9 140.4L50.7 142.4L49.7 144.1L48.7 145.8L48.4 147.7M148.0 109.0L147.2 110.8L147.3 112.4L148.2 114.0L148.9 115.6L149.1 117.3M191.1 107.7L190.1 106.8L188.9 106.2M164.0 158.7L165.4 160.1L167.0 161.1L168.7 161.5L170.6 161.5L172.5 161.7L174.2 162.3L175.8 163.2M176.7 138.7L175.6 138.3M209.6 157.7L210.0 157.3M218.2 112.9L216.6 113.2L215.0 113.8L213.3 114.0L211.6 113.6M212.7 128.5L213.0 128.7M152.2 181.3L153.9 182.1L155.7 182.8L157.5 183.3L159.4 183.7L161.2 184.3M194.9 180.2L196.8 180.4L198.7 181.1L200.6 180.3M44.3 163.0L44.6 162.8M161.2 185.2L161.2 184.3M50.5 96.6L48.5 95.9L46.4 95.8L44.3 96.4M129.7 181.2L129.9 179.3L131.2 178.0L132.7 176.9L133.3 175.3M152.6 141.0L154.1 142.3L154.9 144.0L155.4 145.9L156.3 147.6L157.7 148.9M100.2 120.1L101.9 120.9L103.8 121.2L105.7 121.3L107.5 121.9L109.1 123.1M197.8 128.7L198.5 130.3L198.8 132.1M50.2 170.4L50.3 169.2L50.8 168.2M63.1 183.8L64.9 184.1L66.6 184.6M46.2 147.9L45.1 146.3L44.3 144.5M46.5 121.5L45.2 121.0L44.3 120.0M216.5 77.2L215.0 75.9L213.1 75.2L211.5 74.1M211.5 74.1L210.5 76.0L209.1 77.2L207.2 77.9L205.5 78.8L204.1 80.1M220.5 34.2L219.2 35.4L218.2 36.8M75.1 183.9L75.3 185.2M173.0 19.6L171.9 18.1L171.2 16.3M126.9 21.4L127.5 23.2L126.6 25.2L127.9 26.9M108.4 184.6L106.3 184.7L104.5 183.1L102.4 183.0M82.3 50.1L84.0 49.5L85.7 49.0L87.4 48.6L89.2 48.4M86.6 174.9L86.4 176.9L85.4 178.7M220.5 24.9L219.1 24.2L217.8 23.2M93.9 97.7L92.3 96.7L90.6 96.3L88.9 96.6L87.2 97.1L85.5 97.2L83.9 96.9M193.6 166.0L191.9 165.2L191.3 163.6L191.0 161.8L190.0 160.5M161.6 167.1L161.9 165.3L162.0 163.6L162.2 161.8L162.9 160.2L164.0 158.7M46.8 184.6L47.9 185.2M216.9 66.0L215.7 67.5L214.0 68.4L212.3 69.1L210.9 70.4M120.3 16.8L118.9 17.8L117.5 18.9L116.1 20.0L114.9 21.2L113.6 22.5L112.5 23.8" stroke="#f4cd6e"/><path d="M103.8 15.3L101.9 15.4L100.0 15.0L98.2 15.9M57.8 44.1L55.9 44.8L54.4 45.9L53.6 47.8M112.8 62.6L111.7 61.3L110.7 59.9L109.9 58.3L109.4 56.6L108.9 54.9L108.3 53.3L107.5 51.7L106.6 50.3M63.1 69.8L61.5 69.1L59.8 68.6L58.2 68.0L56.6 67.2M136.1 29.1L135.3 30.7L135.1 32.3L135.4 34.0L135.7 35.7L135.6 37.3L134.9 38.9M170.7 28.8L170.5 28.8M197.4 37.0L196.9 35.4L196.3 33.8L195.6 32.3L194.9 30.8L194.1 29.3M136.6 101.7L137.9 100.4L139.5 99.7L141.3 99.3L142.9 98.8M170.2 94.9L169.6 93.1L168.8 91.4L168.0 89.7L167.5 87.9L167.3 85.9M130.8 132.0L130.6 129.8L129.1 128.2L128.2 126.4M84.1 153.3L85.0 155.0L86.6 156.0M129.2 151.0L127.5 150.7L125.9 150.4L124.2 150.0L122.5 149.7L120.9 149.4L119.2 149.1M110.0 173.7L110.7 172.9L111.5 172.3M184.3 129.8L185.6 128.7L187.3 128.1L189.0 127.6L190.5 126.9L191.8 125.6M189.9 140.2L188.8 141.3L187.6 142.4L186.2 143.2L184.8 144.0L183.3 144.7M190.3 158.9L191.9 158.5L193.7 158.5L195.4 158.5L196.9 157.7L197.9 155.9M209.5 140.8L207.9 139.3L205.8 139.6M202.2 158.9L203.9 157.6L205.8 157.9L207.8 158.4L209.6 157.7M167.3 170.4L166.3 168.8L164.9 168.0L163.2 167.6L161.6 167.1M121.5 181.9L123.1 181.6L124.7 181.4L126.4 181.3L128.0 181.2L129.7 181.2M46.9 24.6L45.6 24.8L44.3 25.2M220.1 96.4L220.5 95.7M62.7 16.2L63.0 18.0L63.7 19.7M114.4 88.0L114.1 86.1L113.7 84.2L113.5 82.2L113.6 80.2M219.4 40.2L220.5 40.1M76.7 173.5L77.7 171.9L79.3 170.7L80.7 169.4L80.9 167.3M129.1 51.4L131.2 51.8L133.0 51.6L134.5 50.6L135.8 49.3L137.1 48.0L138.5 46.9M176.7 138.7L177.3 136.7L178.2 135.0L179.3 133.6L180.8 132.5L182.5 131.7L184.3 130.8M83.9 62.9L84.4 64.8L85.5 66.2L87.0 67.5L88.1 69.0L88.5 70.9M175.0 68.2L173.5 67.2L172.1 65.8L170.2 65.5M142.8 131.3L141.5 129.7L139.9 129.0L137.8 129.1M164.8 139.5L165.1 137.8L165.9 136.4L166.9 135.1L167.9 133.8L168.6 132.4L168.8 130.7M162.6 157.0L160.6 155.6L158.9 155.6L157.3 156.8L155.8 158.0L154.1 158.4M71.2 152.6L72.2 151.0L73.1 149.3L73.8 147.6M213.0 137.7L210.7 138.6L209.5 140.8M151.0 155.9L152.9 156.8L154.1 158.4M75.2 156.2L73.6 157.6L73.3 159.5L73.4 161.5L72.5 163.2M170.2 65.5L170.9 63.7L170.7 62.0L170.0 60.3M46.6 137.2L48.3 137.9L49.5 139.3L50.9 140.4" stroke="#fed470"/><path d="M120.2 67.7L119.0 66.3L117.9 65.0L117.3 63.3M80.8 100.5L82.0 98.4L83.9 96.9M148.6 49.8L150.1 49.1L151.8 48.7L153.5 48.4L155.1 47.9M184.2 65.5L186.2 65.0L188.1 64.0L189.8 62.9M130.5 134.3L131.0 133.2L130.8 132.0M119.2 149.1L118.0 150.4L116.9 151.8L115.9 153.3L115.2 154.9L114.6 156.6L114.0 158.3L113.4 159.9M176.9 126.1L178.3 126.9L179.8 127.7L181.3 128.3L182.8 129.0L184.3 129.8M202.3 121.8L203.5 120.1L205.5 119.6L207.5 119.4L209.0 118.2M205.8 139.6L203.7 139.2L201.9 140.1L200.5 141.7L198.8 142.7L196.7 142.6M213.0 128.7L215.1 129.3L217.1 128.5L219.2 128.6M200.9 163.7L199.3 165.1L197.3 165.1L195.3 164.9L193.6 166.0M120.7 173.9L120.7 175.5L121.3 177.1L122.1 178.6L122.3 180.2L121.5 181.9M156.8 137.3L155.1 138.1L154.3 140.1L152.6 141.0M217.6 97.4L218.8 96.8L220.1 96.4M119.3 183.1L120.8 182.8M120.7 173.9L118.9 173.6L117.0 173.1L115.2 172.6L113.4 172.3L111.5 172.3M140.8 184.9L139.7 183.3L139.6 181.5L139.9 179.6L139.8 177.8M102.2 73.7L100.5 74.0L99.1 74.9L97.8 75.9L96.3 76.6M101.4 185.2L102.3 184.3L102.4 183.0M193.2 185.2L194.3 183.7L194.7 182.0L194.9 180.2M63.4 14.2L63.0 15.2L62.7 16.2M209.6 157.7L210.3 159.4L210.5 161.2L210.2 163.2L210.2 165.1L211.0 166.8L212.4 168.3M182.0 15.6L180.3 16.9L179.9 18.9L178.7 20.5M188.4 25.5L188.3 23.7L187.5 22.0L186.4 20.4L185.9 18.6L186.3 16.6M121.8 14.2L121.4 15.7L120.5 16.8M173.5 74.5L172.8 76.3L173.0 78.0L173.9 79.6L174.6 81.2L174.8 82.9M204.9 184.9L204.9 185.2M56.6 106.9L54.8 106.9L53.1 106.8L51.3 106.4M44.3 52.2L46.1 51.9L47.7 52.7L49.2 53.6L51.0 53.4M218.0 66.1L219.7 65.6L220.5 64.0M88.4 72.4L88.2 71.6L88.5 70.9M49.6 43.3L50.9 42.0L52.0 40.5L52.6 38.7L53.2 36.9M58.9 174.6L61.0 175.7L63.1 176.7" stroke="#fbe168"/><path d="M59.8 101.0L61.3 100.1L62.8 99.1L64.3 98.2L65.9 97.7L67.7 97.7L69.6 98.0M133.9 68.8L134.2 67.0L133.8 65.0L133.2 62.9L133.8 61.1L135.7 59.6M158.0 27.2L156.4 26.0L155.1 24.3L152.9 23.9M195.9 42.6L196.7 44.4L197.4 46.2L198.3 47.9L199.6 49.3M180.1 64.5L182.2 65.0L184.2 65.5M150.6 89.9L152.4 89.8L154.2 89.7L155.9 89.5L157.6 89.1L159.3 88.5L160.8 87.8L162.4 86.9L163.8 85.8L165.3 84.7M201.7 69.6L200.4 68.3L199.7 66.6L198.8 65.1L197.0 64.4M100.2 129.9L100.6 128.2L100.9 126.6L100.8 125.0L100.5 123.3L100.3 121.7L100.2 120.1M126.3 141.7L127.7 140.5L128.6 139.1L129.1 137.4L129.7 135.8L130.5 134.3M121.3 120.3L119.7 120.7L118.0 120.6L116.4 120.3L114.7 120.1L113.1 120.3M93.9 97.7L93.8 99.7L93.3 101.4L92.0 102.8L90.4 104.0L89.1 105.2L88.3 106.9L88.1 108.7M63.9 154.0L64.5 153.4M123.9 169.3L125.2 168.9L126.5 168.9M164.6 139.6L164.7 141.6L164.4 143.3L163.6 144.9L162.5 146.3L161.3 147.7L160.3 149.2M45.3 110.1L46.4 110.6L47.4 110.0M82.5 167.0L82.7 168.9L83.3 170.6L84.3 172.0L85.5 173.4L86.6 174.9M75.1 183.9L75.6 181.7L77.5 181.1L79.7 180.6L80.5 178.8M67.3 140.4L67.3 140.3M107.2 94.0L107.3 92.7L107.4 91.5M94.0 88.7L93.1 90.5L93.1 92.2L93.9 93.9L94.5 95.5L94.6 97.2M68.4 168.8L69.4 170.8L69.6 172.9M117.9 89.8L116.4 88.5L114.4 88.0M136.6 101.7L137.5 103.5L137.3 105.5M137.8 129.1L136.2 130.0L134.4 130.8L132.6 131.5L130.8 132.0M134.6 100.7L133.1 101.7L131.4 102.0L129.5 101.6L127.7 101.2L126.1 101.7L124.7 103.1M146.5 69.9L144.8 68.6L143.1 67.9L141.2 68.0L139.4 68.6L137.5 69.1L135.7 69.2L133.9 68.8M64.5 153.4L66.1 152.5L67.8 152.4L69.5 152.7L71.2 152.6M195.0 20.7L193.9 22.1L192.4 23.3L191.0 24.4L189.8 25.8" stroke="#f8ef62"/><path d="M99.0 117.0L99.8 115.4L100.9 114.2L102.4 113.5L104.0 112.9L105.5 112.2L106.8 111.3M105.1 174.4L106.8 174.6L108.4 173.7L110.0 173.7M141.3 164.2L142.7 163.9M208.4 172.2L207.8 170.6L207.0 169.1L206.1 167.8L205.0 166.6L203.7 165.5L202.4 164.6L200.9 163.7M220.5 174.4L220.5 172.5L219.3 171.0L218.1 169.6L217.9 167.8M69.7 173.0L69.3 175.0L69.4 176.9L70.0 178.8L70.6 180.6L70.9 182.5M156.8 137.3L156.3 135.6L156.1 133.9L156.2 132.2L156.3 130.5L156.0 128.8L155.3 127.2M110.0 173.7L109.7 175.6L110.4 177.2L111.4 178.7L112.1 180.3M73.8 147.6L75.6 146.8L77.4 146.7L79.1 147.3L80.9 147.7L82.7 147.6" stroke="#fbfc56"/></g><rect x="44.3" y="156" width="51" height="29.2" fill="#fff"/></g>
<rect x="44.30" y="14.20" width="176.20" height="171.00" fill="none" stroke="#b4b4b4" stroke-width="1"/>
<text x="47.50" y="171.60" font-family="Liberation Serif" font-weight="bold" font-size="14" fill="#000" textLength="42.20" lengthAdjust="spacingAndGlyphs">30 μm</text>
<rect x="50.60" y="176.00" width="37.00" height="5.00" fill="#000"/>
<rect x="224.20" y="14.60" width="3.30" height="170.10" fill="url(#par)"/>
<text x="230.50" y="171.65" font-family="Liberation Sans" font-size="10.4" text-rendering="geometricPrecision" fill="#262626" textLength="10.5" lengthAdjust="spacingAndGlyphs">20</text>
<text x="230.50" y="153.20" font-family="Liberation Sans" font-size="10.4" text-rendering="geometricPrecision" fill="#262626" textLength="10.5" lengthAdjust="spacingAndGlyphs">25</text>
<text x="230.50" y="134.75" font-family="Liberation Sans" font-size="10.4" text-rendering="geometricPrecision" fill="#262626" textLength="10.5" lengthAdjust="spacingAndGlyphs">30</text>
<text x="230.50" y="116.30" font-family="Liberation Sans" font-size="10.4" text-rendering="geometricPrecision" fill="#262626" textLength="10.5" lengthAdjust="spacingAndGlyphs">35</text>
<text x="230.50" y="97.85" font-family="Liberation Sans" font-size="10.4" text-rendering="geometricPrecision" fill="#262626" textLength="10.5" lengthAdjust="spacingAndGlyphs">40</text>
<text x="230.50" y="79.40" font-family="Liberation Sans" font-size="10.4" text-rendering="geometricPrecision" fill="#262626" textLength="10.5" lengthAdjust="spacingAndGlyphs">45</text>
<text x="230.50" y="60.95" font-family="Liberation Sans" font-size="10.4" text-rendering="geometricPrecision" fill="#262626" textLength="10.5" lengthAdjust="spacingAndGlyphs">50</text>
<text x="230.50" y="42.50" font-family="Liberation Sans" font-size="10.4" text-rendering="geometricPrecision" fill="#262626" textLength="10.5" lengthAdjust="spacingAndGlyphs">55</text>
<text x="230.50" y="24.05" font-family="Liberation Sans" font-size="10.4" text-rendering="geometricPrecision" fill="#262626" textLength="10.5" lengthAdjust="spacingAndGlyphs">60</text>
<text transform="translate(260.00,162.50) rotate(-90)" font-family="Liberation Serif" font-size="14" fill="#1a1a1a" stroke="#1a1a1a" stroke-width="0.12" textLength="139.20" lengthAdjust="spacingAndGlyphs">Misorientation Angle (°)</text>
<rect x="86.20" y="329.70" width="10.90" height="13.50" fill="#0072be"/>
<rect x="99.68" y="309.10" width="10.90" height="34.10" fill="#0072be"/>
<rect x="113.16" y="294.00" width="10.90" height="49.20" fill="#0072be"/>
<rect x="126.64" y="280.80" width="10.90" height="62.40" fill="#0072be"/>
<rect x="140.12" y="261.10" width="10.90" height="82.10" fill="#0072be"/>
<rect x="153.60" y="242.10" width="10.90" height="101.10" fill="#0072be"/>
<rect x="167.08" y="217.30" width="10.90" height="125.90" fill="#0072be"/>
<rect x="180.56" y="223.90" width="10.90" height="119.30" fill="#0072be"/>
<rect x="194.04" y="246.20" width="10.90" height="97.00" fill="#0072be"/>
<rect x="207.52" y="278.80" width="10.90" height="64.40" fill="#0072be"/>
<rect x="221.00" y="327.20" width="10.90" height="16.00" fill="#0072be"/>
<rect x="44.80" y="205.30" width="187.90" height="137.90" fill="none" stroke="#bdbdbd" stroke-width="1"/>
<path d="M44.80 343.20h1.8M232.70 343.20h-1.8" stroke="#808080" stroke-width="0.5"/>
<text x="41.40" y="346.80" text-anchor="end" font-family="Liberation Sans" font-size="10.1" text-rendering="geometricPrecision" fill="#262626" textLength="5.2" lengthAdjust="spacingAndGlyphs">0</text>
<path d="M44.80 327.88h1.8M232.70 327.88h-1.8" stroke="#808080" stroke-width="0.5"/>
<text x="41.40" y="331.48" text-anchor="end" font-family="Liberation Sans" font-size="10.1" text-rendering="geometricPrecision" fill="#262626" textLength="5.2" lengthAdjust="spacingAndGlyphs">2</text>
<path d="M44.80 312.56h1.8M232.70 312.56h-1.8" stroke="#808080" stroke-width="0.5"/>
<text x="41.40" y="316.16" text-anchor="end" font-family="Liberation Sans" font-size="10.1" text-rendering="geometricPrecision" fill="#262626" textLength="5.2" lengthAdjust="spacingAndGlyphs">4</text>
<path d="M44.80 297.23h1.8M232.70 297.23h-1.8" stroke="#808080" stroke-width="0.5"/>
<text x="41.40" y="300.83" text-anchor="end" font-family="Liberation Sans" font-size="10.1" text-rendering="geometricPrecision" fill="#262626" textLength="5.2" lengthAdjust="spacingAndGlyphs">6</text>
<path d="M44.80 281.91h1.8M232.70 281.91h-1.8" stroke="#808080" stroke-width="0.5"/>
<text x="41.40" y="285.51" text-anchor="end" font-family="Liberation Sans" font-size="10.1" text-rendering="geometricPrecision" fill="#262626" textLength="5.2" lengthAdjust="spacingAndGlyphs">8</text>
<path d="M44.80 266.59h1.8M232.70 266.59h-1.8" stroke="#808080" stroke-width="0.5"/>
<text x="41.40" y="270.19" text-anchor="end" font-family="Liberation Sans" font-size="10.1" text-rendering="geometricPrecision" fill="#262626" textLength="10.0" lengthAdjust="spacingAndGlyphs">10</text>
<path d="M44.80 251.27h1.8M232.70 251.27h-1.8" stroke="#808080" stroke-width="0.5"/>
<text x="41.40" y="254.87" text-anchor="end" font-family="Liberation Sans" font-size="10.1" text-rendering="geometricPrecision" fill="#262626" textLength="10.0" lengthAdjust="spacingAndGlyphs">12</text>
<path d="M44.80 235.94h1.8M232.70 235.94h-1.8" stroke="#808080" stroke-width="0.5"/>
<text x="41.40" y="239.54" text-anchor="end" font-family="Liberation Sans" font-size="10.1" text-rendering="geometricPrecision" fill="#262626" textLength="10.0" lengthAdjust="spacingAndGlyphs">14</text>
<path d="M44.80 220.62h1.8M232.70 220.62h-1.8" stroke="#808080" stroke-width="0.5"/>
<text x="41.40" y="224.22" text-anchor="end" font-family="Liberation Sans" font-size="10.1" text-rendering="geometricPrecision" fill="#262626" textLength="10.0" lengthAdjust="spacingAndGlyphs">16</text>
<path d="M44.80 205.30h1.8M232.70 205.30h-1.8" stroke="#808080" stroke-width="0.5"/>
<text x="41.40" y="208.90" text-anchor="end" font-family="Liberation Sans" font-size="10.1" text-rendering="geometricPrecision" fill="#262626" textLength="10.0" lengthAdjust="spacingAndGlyphs">18</text>
<path d="M44.80 343.20v-1.8M44.80 205.30v1.8" stroke="#808080" stroke-width="0.5"/>
<text x="45.10" y="353.50" text-anchor="middle" font-family="Liberation Sans" font-size="10.1" text-rendering="geometricPrecision" fill="#262626" textLength="5.2" lengthAdjust="spacingAndGlyphs">0</text>
<path d="M74.50 343.20v-1.8M74.50 205.30v1.8" stroke="#808080" stroke-width="0.5"/>
<text x="72.00" y="353.50" text-anchor="middle" font-family="Liberation Sans" font-size="10.1" text-rendering="geometricPrecision" fill="#262626" textLength="10.0" lengthAdjust="spacingAndGlyphs">10</text>
<path d="M104.20 343.20v-1.8M104.20 205.30v1.8" stroke="#808080" stroke-width="0.5"/>
<text x="103.60" y="353.50" text-anchor="middle" font-family="Liberation Sans" font-size="10.1" text-rendering="geometricPrecision" fill="#262626" textLength="10.0" lengthAdjust="spacingAndGlyphs">20</text>
<path d="M133.89 343.20v-1.8M133.89 205.30v1.8" stroke="#808080" stroke-width="0.5"/>
<text x="133.10" y="353.50" text-anchor="middle" font-family="Liberation Sans" font-size="10.1" text-rendering="geometricPrecision" fill="#262626" textLength="10.0" lengthAdjust="spacingAndGlyphs">30</text>
<path d="M163.59 343.20v-1.8M163.59 205.30v1.8" stroke="#808080" stroke-width="0.5"/>
<text x="163.20" y="353.50" text-anchor="middle" font-family="Liberation Sans" font-size="10.1" text-rendering="geometricPrecision" fill="#262626" textLength="10.0" lengthAdjust="spacingAndGlyphs">40</text>
<path d="M193.29 343.20v-1.8M193.29 205.30v1.8" stroke="#808080" stroke-width="0.5"/>
<text x="193.10" y="353.50" text-anchor="middle" font-family="Liberation Sans" font-size="10.1" text-rendering="geometricPrecision" fill="#262626" textLength="10.0" lengthAdjust="spacingAndGlyphs">50</text>
<path d="M222.99 343.20v-1.8M222.99 205.30v1.8" stroke="#808080" stroke-width="0.5"/>
<text x="222.50" y="353.50" text-anchor="middle" font-family="Liberation Sans" font-size="10.1" text-rendering="geometricPrecision" fill="#262626" textLength="10.0" lengthAdjust="spacingAndGlyphs">60</text>
<polyline points="44.80,343.20 45.54,343.20 46.28,343.18 47.03,343.16 47.77,343.13 48.51,343.09 49.25,343.04 50.00,342.99 50.74,342.92 51.48,342.85 52.22,342.76 52.97,342.67 53.71,342.57 54.45,342.46 55.19,342.35 55.94,342.22 56.68,342.08 57.42,341.94 58.16,341.79 58.91,341.63 59.65,341.46 60.39,341.28 61.13,341.09 61.88,340.89 62.62,340.69 63.36,340.48 64.10,340.25 64.85,340.02 65.59,339.78 66.33,339.54 67.07,339.28 67.82,339.01 68.56,338.74 69.30,338.46 70.04,338.17 70.79,337.87 71.53,337.56 72.27,337.24 73.01,336.92 73.76,336.58 74.50,336.24 75.24,335.89 75.98,335.53 76.73,335.16 77.47,334.78 78.21,334.40 78.95,334.00 79.70,333.60 80.44,333.19 81.18,332.77 81.92,332.34 82.67,331.90 83.41,331.46 84.15,331.00 84.89,330.54 85.63,330.07 86.38,329.59 87.12,329.10 87.86,328.60 88.60,328.10 89.35,327.59 90.09,327.06 90.83,326.53 91.57,326.00 92.32,325.45 93.06,324.89 93.80,324.33 94.54,323.76 95.29,323.18 96.03,322.59 96.77,321.99 97.51,321.39 98.26,320.77 99.00,320.15 99.74,319.52 100.48,318.88 101.23,318.23 101.97,317.58 102.71,316.92 103.45,316.24 104.20,315.56 104.94,314.88 105.68,314.18 106.42,313.48 107.17,312.76 107.91,312.04 108.65,311.31 109.39,310.58 110.14,309.83 110.88,309.08 111.62,308.32 112.36,307.55 113.11,306.77 113.85,305.99 114.59,305.19 115.33,304.39 116.08,303.58 116.82,302.77 117.56,301.94 118.30,301.11 119.05,300.27 119.79,299.42 120.53,298.56 121.27,297.70 122.02,296.82 122.76,295.94 123.50,295.06 124.24,294.16 124.98,293.26 125.73,292.34 126.47,291.42 127.21,290.50 127.95,289.56 128.70,288.62 129.44,287.67 130.18,286.71 130.92,285.75 131.67,284.77 132.41,283.79 133.15,282.80 133.89,281.81 134.64,280.80 135.38,279.79 136.12,278.77 136.86,277.75 137.61,276.72 138.35,275.67 139.09,274.63 139.83,273.57 140.58,272.51 141.32,271.44 142.06,270.36 142.80,269.27 143.55,268.18 144.29,267.08 145.03,265.97 145.77,264.86 146.52,263.74 147.26,262.61 148.00,261.47 148.74,260.33 149.49,259.18 150.23,258.02 150.97,256.86 151.71,255.68 152.46,254.51 153.20,253.32 153.94,252.13 154.68,250.93 155.43,249.72 156.17,248.51 156.91,247.29 157.65,246.06 158.40,244.82 159.14,243.58 159.88,242.34 160.62,241.08 161.37,239.82 162.11,238.55 162.85,237.27 163.59,235.99 164.33,234.70 165.08,233.41 165.82,232.11 166.56,230.80 167.30,229.48 168.05,228.16 168.79,226.83 169.53,225.50 170.27,224.16 171.02,222.81 171.76,221.46 172.50,220.10 173.24,218.73 173.99,217.36 174.73,215.98 175.47,214.59 176.21,213.20 176.96,211.80 177.70,210.40 178.44,208.99 179.18,210.07 179.93,211.17 180.67,212.29 181.41,213.43 182.15,214.59 182.90,215.77 183.64,216.97 184.38,218.19 185.12,219.43 185.87,220.69 186.61,221.97 187.35,223.27 188.09,224.59 188.84,225.93 189.58,227.29 190.32,228.66 191.06,230.06 191.81,231.48 192.55,232.92 193.29,234.37 194.03,235.85 194.78,237.34 195.52,238.86 196.26,240.39 197.00,241.95 197.75,243.52 198.49,245.11 199.23,246.72 199.97,248.36 200.72,250.01 201.46,251.68 202.20,253.36 202.94,255.07 203.68,256.80 204.43,258.55 205.17,260.31 205.91,262.09 206.65,263.90 207.40,265.72 208.14,267.56 208.88,269.42 209.62,271.30 210.37,273.20 211.11,275.11 211.85,277.05 212.59,279.00 213.34,280.98 214.08,282.97 214.82,284.98 215.56,287.01 216.31,289.05 217.05,291.12 217.79,293.20 218.53,295.30 219.28,297.42 220.02,299.56 220.76,301.72 221.50,303.90 222.25,306.09 222.99,308.30 223.73,315.17 224.47,322.08 225.22,328.41 225.96,333.88 226.70,336.41 227.44,339.07 228.19,340.37 228.93,341.81 229.67,342.44 230.41,343.01 231.16,343.16" fill="none" stroke="#e06a2e" stroke-width="1.1"/>
<rect x="50.60" y="209.20" width="21.80" height="12.30" fill="#0072be"/>
<path d="M51.00 233.30H70.80" stroke="#e2300c" stroke-width="2.1"/>
<text x="76.00" y="220.10" font-family="Liberation Serif" font-size="14" fill="#1a1a1a" stroke="#1a1a1a" stroke-width="0.12" textLength="72.00" lengthAdjust="spacingAndGlyphs">sample MDF</text>
<text x="76.00" y="235.60" font-family="Liberation Serif" font-size="14" fill="#1a1a1a" stroke="#1a1a1a" stroke-width="0.12" textLength="76.70" lengthAdjust="spacingAndGlyphs">uniform MDF</text>
<text x="79.30" y="372.40" font-family="Liberation Serif" font-size="14" fill="#1a1a1a" stroke="#1a1a1a" stroke-width="0.12" textLength="138.00" lengthAdjust="spacingAndGlyphs">Misorientation Angle (°)</text>
<text transform="translate(26.20,319.30) rotate(-90)" font-family="Liberation Serif" font-size="14" fill="#1a1a1a" stroke="#1a1a1a" stroke-width="0.12" textLength="83.50" lengthAdjust="spacingAndGlyphs">Frequency (%)</text>
    <rect x="280.30" y="5.1" width="263.50" height="377.1" fill="none" stroke="#000" stroke-width="2.4"/>
<text x="287.40" y="37.90" font-family="Liberation Serif" font-weight="bold" font-size="23.5" fill="#000">(b)</text>
<g id="mapb"><g fill="none" stroke-width="0.95" stroke-linejoin="round" stroke-linecap="round"><path d="M384.8 65.0L383.3 62.9L381.6 64.0L379.8 64.7M470.7 43.9L473.4 44.2L474.1 41.6L475.7 40.4M431.0 183.8L431.3 182.4L429.9 181.9M436.2 47.3L438.5 48.0L439.5 50.2M439.5 50.2L440.3 50.1M331.9 110.5L332.7 109.4M389.9 48.0L389.3 47.2L388.5 47.8M491.5 133.1L492.1 132.8M483.5 110.2L483.2 111.1M327.0 82.4L326.0 81.7M484.3 21.9L485.2 20.2L487.0 19.4M480.4 42.9L478.9 42.1L477.6 40.7L475.7 40.4M357.8 180.2L356.5 179.0L354.8 178.5L353.3 177.4M410.2 150.5L411.9 150.7L413.6 150.1L415.4 150.2M395.9 132.3L394.5 132.5L393.2 131.8M409.9 127.2L409.9 127.2M378.1 111.5L380.3 112.5L381.9 111.6L383.3 109.9M353.2 66.2L353.7 64.0L352.4 62.7L350.7 61.6L349.9 60.0M392.6 142.0L390.4 140.6L388.6 142.4M388.3 153.8L390.4 153.5L392.6 153.3L394.1 151.5M455.4 134.3L457.6 133.1L459.3 133.9L460.9 135.4M402.4 26.6L404.1 25.6L406.0 26.2L407.9 26.8L409.6 25.8M396.5 117.0L394.1 116.2L393.4 113.8M460.3 15.2L462.0 15.5L463.8 15.0L465.3 16.0M332.7 109.4L334.7 111.2L336.5 110.5L338.3 109.0L340.1 108.9M361.2 170.5L360.7 172.6L359.8 174.4M476.4 165.8L478.1 165.0L480.4 166.2L481.9 164.4M408.3 95.7L406.2 94.8L405.9 93.2L406.4 91.2M398.2 94.5L400.8 95.0L401.7 97.0L402.2 99.4M419.3 81.6L417.5 83.8L418.9 86.2M321.9 39.3L323.2 38.4L323.2 36.9M429.4 15.7L431.3 13.6L433.9 14.6M368.6 79.9L367.8 79.6L366.9 79.6M402.0 26.2L400.2 25.0L398.6 25.2L397.1 26.8M322.7 123.0L322.0 120.9L319.9 120.0M464.2 165.5L465.8 165.6L467.4 165.1M329.7 127.7L328.8 128.2L327.9 128.8M384.8 138.1L386.7 138.9L388.8 139.7L388.6 142.4" stroke="#7c6cc4"/><path d="M386.0 79.6L384.8 81.7L386.9 82.7L387.5 84.2M465.3 41.9L466.3 44.7L468.7 43.7L470.7 43.9M338.9 71.2L339.5 68.9L342.1 69.1L343.4 67.6M373.0 155.4L373.0 156.5L373.2 157.6M408.0 117.9L408.9 117.2L409.9 117.6M371.1 55.7L369.3 56.0L367.9 54.5L366.5 53.2L364.5 54.0M364.5 54.0L363.3 54.7M352.9 42.2L353.1 40.2L352.1 37.8L354.9 36.8M429.4 15.7L428.3 15.0L427.9 13.8M402.3 170.9L400.9 170.2L400.0 168.2L398.7 167.1L396.4 168.4M381.1 25.0L380.0 26.9L380.3 28.8L381.3 30.6M418.7 80.9L418.2 78.7L418.6 76.7L420.7 75.4M462.7 101.9L461.5 100.5L462.1 98.6L461.3 97.1M473.9 108.4L474.0 108.4M320.8 13.9L320.8 13.8M330.7 143.5L330.5 145.6L329.6 147.5M331.3 150.1L333.3 148.3L335.2 149.0L337.2 150.4L339.1 150.3M414.0 182.7L415.6 180.2L417.9 181.1L420.1 181.3M417.1 173.5L415.4 174.1L413.7 174.5L411.9 174.3M334.9 38.3L337.2 38.6L337.8 36.2L339.5 35.6M330.6 44.4L332.1 45.3L334.3 44.8L335.4 46.6M417.1 50.5L418.8 51.1L419.9 53.0L422.0 52.9M455.4 134.3L455.2 133.9M364.9 122.9L366.9 122.8L367.9 124.3L368.8 125.9L370.4 126.3M361.3 41.2L361.8 39.4L361.5 37.5M333.8 18.3L331.9 17.4L331.7 15.3L330.7 13.8M408.2 53.0L410.4 51.8L412.4 52.6L414.5 53.5M461.5 168.0L463.8 167.8L464.2 165.5M437.8 53.1L437.4 55.5L437.9 57.6L440.1 59.0M425.5 75.7L426.3 74.9L426.6 73.8M434.3 33.5L434.0 31.2L431.8 30.8M400.1 103.5L401.4 101.6L402.2 99.4M323.9 165.0L322.9 162.3L324.2 160.9L326.4 159.9L327.4 158.2M413.5 91.6L412.6 93.2L412.2 95.0M436.5 88.1L435.7 88.9L434.8 89.3M359.8 174.4L357.9 174.2L356.0 174.2" stroke="#7f74db"/><path d="M379.8 64.7L378.7 66.4L377.3 67.7L375.0 67.0M402.7 82.5L402.9 80.9L402.7 79.2M343.4 67.6L345.2 65.4L343.9 62.9M383.7 149.6L381.8 150.7L379.9 150.9L377.9 150.2M426.3 141.8L426.3 141.8M418.0 153.6L416.2 155.1L416.4 157.4M439.1 143.2L439.2 143.0M354.0 92.2L356.2 93.8L358.1 92.9L360.0 91.4L362.0 91.3M317.0 96.5L315.3 95.9L315.4 97.8M316.0 40.1L315.4 39.6M467.2 129.4L469.4 129.2L471.2 129.9L472.4 131.4L473.5 133.1M349.6 179.2L349.7 177.8L351.2 177.7M457.3 168.2L455.8 167.4L454.5 166.1M459.0 30.6L458.6 32.1L459.0 33.9L459.0 35.6L457.7 36.9M457.7 36.9L459.6 36.8L461.3 38.4L463.3 37.5M405.2 165.7L404.9 167.8L403.4 169.3L402.3 170.9M386.5 179.6L388.1 179.1L389.8 179.1M419.4 96.4L420.6 97.9L422.0 99.2M478.9 13.8L477.1 15.3L477.9 17.9L476.5 19.6M462.7 176.4L460.7 175.4L458.7 177.2L456.6 176.5M461.1 60.6L460.2 60.8L459.6 60.2M477.3 172.1L476.0 170.2L476.3 168.0L476.4 165.8M418.5 174.6L418.3 173.5L417.1 173.5M331.1 73.1L328.8 73.9L326.4 73.9M334.4 132.1L335.9 133.4L336.9 131.6M330.7 143.5L328.6 143.5L327.3 142.0L326.0 140.6M432.8 71.6L432.7 72.4L432.0 72.9M454.0 139.4L451.6 139.3L449.5 140.2M446.9 145.4L448.3 146.4L449.8 147.3L451.0 148.6L451.6 150.4M410.6 143.5L412.2 142.8L413.9 143.6L415.5 143.1M490.2 36.8L491.6 37.4L492.6 38.5M352.3 78.2L353.6 80.1L352.9 82.3M482.5 121.3L483.6 120.0L484.8 118.7L486.1 117.7L487.7 116.9M443.6 98.8L442.2 99.7L440.8 100.5M441.1 105.4L442.7 106.7L444.4 107.4L446.2 107.3L448.1 106.4M424.3 45.3L422.8 47.2L421.0 47.5L419.0 47.0L417.1 46.6M442.0 112.4L441.4 110.8L440.1 109.7M379.1 128.1L380.9 128.4L382.5 128.0L384.1 127.3L385.8 126.8M450.6 67.2L448.7 68.5L446.8 69.6M342.4 42.4L343.8 43.3L345.4 43.8M397.1 33.6L397.0 33.5M377.8 22.8L377.8 22.7M482.7 59.3L485.4 58.7L486.9 61.0M412.4 15.7L411.7 14.8L411.3 13.8M322.5 54.4L322.6 56.5L323.1 58.5L321.6 60.3M384.4 146.0L381.5 145.4L381.8 142.8L381.3 140.7M374.8 146.0L377.1 146.5L377.8 148.1L377.9 150.2M388.6 36.7L388.0 34.6L387.5 32.6M322.9 69.7L322.9 68.7L322.9 67.8M394.8 87.8L394.0 88.6L394.7 89.7M467.3 14.0L467.2 13.8M369.3 139.0L367.9 137.7L366.3 136.7L365.0 135.3L364.6 133.2M339.2 150.5L339.1 150.3M385.1 97.0L386.6 95.8L387.6 94.0L389.6 93.8M466.4 110.9L466.4 109.4L465.6 108.2M357.2 13.8L358.0 14.2L358.6 14.9M483.4 73.4L482.8 72.2M467.2 137.3L466.8 136.9M492.1 26.1L490.5 24.9L490.8 23.0L491.1 21.1L489.7 19.9M434.9 93.9L436.3 91.6L434.8 89.3M485.9 143.0L488.0 144.3L489.8 145.9M469.7 117.1L468.6 119.3L466.2 119.6M457.3 168.2L459.3 166.9L461.5 168.0M352.3 134.5L352.2 135.9L352.1 137.4M315.4 93.5L315.0 95.6L317.1 95.7M317.1 95.7L318.8 94.8L321.1 94.9L322.8 94.2L323.2 91.5M347.9 139.2L350.4 139.2L352.1 137.4M375.7 174.6L377.8 174.4L380.2 175.4L381.3 172.6M482.2 96.7L482.4 95.0L482.4 93.2L481.1 91.8M475.1 84.5L476.8 86.6L475.9 88.2L474.1 89.7L473.8 91.4M321.4 155.5L320.2 154.2L318.4 154.2M315.4 27.0L315.7 27.1M381.6 172.7L381.3 172.6M449.7 176.1L449.0 177.1L449.0 178.2M449.0 178.2L450.0 179.8L450.9 181.4L451.1 183.3M490.7 84.7L491.8 84.5L492.6 83.7M418.2 169.8L419.5 168.3L421.3 168.3L423.1 168.3M346.1 77.6L346.8 79.8L345.5 81.3L343.9 82.6L344.0 84.6M353.3 177.4L354.9 175.9L356.0 174.2M438.9 128.9L437.6 130.1L436.7 131.6M329.3 52.0L331.3 53.7L332.9 53.0L334.3 51.5L336.0 50.9M315.5 140.0L317.6 139.6L319.6 139.0M343.4 126.1L343.3 125.0L344.0 124.0" stroke="#827eee"/><path d="M354.4 35.8L352.5 35.6L350.9 34.6M315.5 104.7L317.7 104.7L319.9 104.7M403.2 174.9L403.5 174.3M317.0 45.7L317.0 43.7L316.0 42.0L316.0 40.1M440.6 39.9L439.3 40.6L437.9 40.8M409.0 156.1L407.2 156.4L405.4 156.6L403.6 156.2M409.7 156.8L409.0 156.1M489.0 43.7L487.5 44.9L485.8 45.8M492.5 51.7L492.6 51.6M478.2 132.1L479.0 131.3M467.4 126.3L468.0 127.9L467.2 129.4M412.5 34.3L412.7 35.8L412.4 37.3M411.8 37.7L412.8 39.7L412.5 41.2L411.3 42.5L410.1 43.9M315.4 171.0L316.6 171.2L317.8 171.4M319.5 33.2L318.4 30.6L320.3 28.5M456.6 176.6L456.6 176.5M454.5 166.1L452.5 167.6L450.1 168.0M315.4 125.2L314.9 123.1L315.4 121.4L317.4 120.4M377.5 55.3L374.9 55.6L373.8 53.3M444.3 112.7L446.4 113.4L447.3 114.9L447.3 116.7L447.5 118.6M392.7 121.3L393.0 122.4L392.7 123.4M486.8 154.2L487.3 152.4L486.1 151.0M479.4 22.0L481.0 22.0L482.7 22.9L484.3 21.9M354.4 50.7L353.0 52.4L352.7 54.1L353.4 55.8L354.2 57.6M346.6 115.2L347.7 113.4L347.7 110.7L350.5 110.4M463.7 183.8L464.2 183.1L465.1 183.0M462.3 157.4L464.1 158.1L465.8 157.3L467.6 157.3M336.7 18.2L337.7 18.5L338.4 19.1M353.7 49.9L351.7 49.2L349.7 48.7L348.1 50.7M372.4 96.6L373.6 94.9L375.5 94.0M421.5 58.5L419.5 58.0L417.4 56.5L415.4 58.7M329.9 26.0L330.4 28.3L332.8 28.5M384.8 138.1L385.2 136.7M333.8 139.1L332.6 138.4L332.8 137.0M407.8 137.0L406.6 139.5L408.6 141.5M485.8 28.4L484.8 27.6M445.4 86.4L444.1 87.8L442.5 88.8L440.9 89.9M492.6 172.5L491.8 172.5M337.9 97.1L337.4 97.3M446.8 126.6L445.4 124.8L444.4 122.8L445.6 120.4M393.0 131.6L390.5 132.8L389.1 131.6L388.0 129.5L386.4 128.6M453.1 80.7L453.2 79.0L453.4 77.3L454.7 76.0M439.9 27.6L440.7 26.3L442.1 26.9M446.3 72.7L446.4 72.9M397.0 33.5L396.0 34.9L393.9 35.2L392.2 35.8L392.2 38.2M412.1 166.0L413.7 166.0L415.2 165.5M445.3 55.0L444.3 56.9L442.8 58.4M398.7 58.9L397.2 57.7L395.4 56.9L393.6 56.2M367.3 27.5L368.6 25.8L370.8 25.4M435.7 69.8L436.0 68.4M331.2 95.7L332.6 96.5L334.5 95.7L336.2 95.4L337.4 97.3M340.2 183.8L340.8 183.1M440.5 73.8L442.4 73.2L444.2 72.4L446.3 72.7M326.8 13.8L325.8 14.0L325.6 15.0M408.7 89.1L410.4 86.8L408.9 84.3M440.4 178.5L440.2 178.1M486.5 34.5L488.7 34.1L489.9 36.0M341.1 109.6L340.1 108.9M464.9 58.3L462.7 59.0L461.1 60.6M483.8 67.2L483.6 68.9L484.9 70.9L482.8 72.2M473.9 122.1L471.8 121.3L470.9 119.7L471.2 117.4M466.2 119.6L466.1 121.4L467.8 123.2L466.4 125.1M423.9 107.1L425.2 108.8L424.2 110.6M425.8 105.5L424.4 105.7L423.9 107.1M325.4 178.5L327.3 177.6L329.3 177.7L331.3 178.2L333.2 178.3M478.6 27.3L479.5 28.3M368.1 89.7L366.4 89.5L364.6 90.4L363.1 89.1M481.1 91.8L482.6 90.9L482.9 89.3M459.7 119.9L460.4 121.9L461.0 124.0M395.6 31.8L395.4 30.0L396.9 28.5L397.1 26.8M375.2 166.3L376.3 164.7L377.2 162.9M478.2 132.1L479.4 133.9L478.6 135.8L477.8 137.7L478.9 139.4M428.9 56.8L427.8 55.2L428.1 53.3L428.4 51.4L427.4 49.8M315.4 133.5L316.6 133.4L317.4 132.5M444.7 180.9L445.8 179.5L447.7 179.2L449.0 178.2M413.5 67.0L411.1 67.0L410.0 64.8M321.4 52.5L321.5 53.3" stroke="#828af8"/><path d="M442.1 26.9L443.3 28.5L445.6 28.9L447.5 29.8L447.7 32.4M447.7 32.4L447.8 32.4M476.5 34.4L474.5 33.9L472.7 33.2L471.6 31.8L471.2 29.6M457.9 84.2L457.2 81.8L455.4 80.9L453.1 80.7M382.8 164.0L384.2 163.2L385.9 163.1M417.8 162.7L419.1 164.1L421.2 163.9L423.2 163.9L424.1 166.0M436.7 131.6L435.0 130.7L433.0 130.8M430.5 173.1L431.1 171.1L429.9 168.9L430.9 166.8M315.4 158.2L317.3 156.9L317.0 154.7M462.6 92.1L461.1 91.1L460.9 88.6L458.6 88.4M363.3 54.7L362.7 55.7M315.4 47.7L315.8 47.8M366.4 36.5L366.8 38.5L369.0 39.1L369.7 40.8M397.2 50.8L395.4 49.9L393.2 50.5L391.2 50.4L390.0 48.1M387.5 32.6L388.3 31.3L389.7 30.8M478.3 125.7L476.9 124.4L474.4 124.6L473.9 122.2M486.7 131.6L487.3 132.1M416.0 133.2L418.2 133.9L418.6 136.2M340.6 181.5L341.9 180.0L343.2 178.5M445.3 55.0L446.9 54.1L448.5 53.5L450.3 54.6M490.8 111.5L489.8 109.9L488.3 108.8M487.8 92.9L489.7 93.8L490.8 91.9M447.5 118.6L449.0 119.2L450.5 118.4M372.9 85.6L374.1 85.3L375.3 85.7M344.8 17.0L344.2 19.3L345.6 20.7L346.9 22.2M448.3 157.5L449.4 159.3L451.3 159.2L453.4 159.1L454.5 160.6M475.8 150.7L475.0 152.3L475.4 154.1L475.3 155.7M466.4 125.1L464.9 122.9L463.0 123.4L461.0 124.0M457.5 127.2L457.8 128.4M416.9 20.4L418.6 19.5L420.4 18.9M465.1 183.0L465.5 181.8M472.2 49.0L474.4 49.4L476.6 49.3M468.0 149.5L466.0 150.9L464.4 148.9L462.6 148.9M339.3 28.4L337.7 27.6L336.0 28.7L334.4 29.6L332.8 28.5M324.0 98.5L322.5 99.9L320.7 99.1M355.4 103.2L356.1 104.8L357.2 106.3L357.6 108.0L356.6 109.9M443.8 162.2L445.1 161.2L446.7 160.4L447.9 159.3L448.3 157.5M447.7 154.3L445.9 154.2L444.8 152.7L443.3 152.0M479.5 28.3L477.9 29.9L478.8 32.0L478.3 33.9M422.8 89.8L421.2 89.0L418.7 89.0L418.9 86.2M349.3 30.6L350.0 32.6L350.9 34.6M352.6 27.7L351.4 28.1L350.2 28.5M385.2 136.7L386.8 134.5L388.7 135.6L390.5 136.1M320.9 136.5L319.8 137.5L319.6 139.0M426.1 82.4L427.6 83.3L428.7 84.8L430.5 85.1M444.7 80.7L445.5 81.6L446.1 82.5M392.2 38.2L390.7 36.6L388.6 36.7M434.3 20.4L432.6 22.3L434.0 23.8L435.0 25.4M468.8 91.5L468.3 90.7L467.4 90.3M466.4 85.6L464.7 86.8L462.9 87.6L460.9 87.5L458.9 86.6M355.9 130.3L357.3 129.1L359.0 128.2L360.6 127.3L361.8 125.8M375.6 121.5L376.2 123.2L376.5 125.2L377.2 126.9L379.1 128.1M427.0 132.9L427.0 131.3L425.7 129.5L425.2 127.9L427.4 126.3M366.4 27.2L367.3 27.5M379.5 180.7L377.7 179.5L375.6 179.7M452.5 14.4L453.5 16.9L456.0 16.2L457.8 17.0M393.4 124.3L392.2 126.1L391.6 127.9L392.0 129.7L393.0 131.6M444.0 129.5L445.6 131.0L446.5 132.8L445.4 135.0M492.0 56.6L492.6 57.8M421.5 58.5L421.8 56.7L420.7 54.7L422.0 52.9M482.7 97.0L483.0 98.7L483.2 100.3L483.7 101.9M392.7 123.4L391.1 124.1L389.4 124.7L387.7 125.3L386.1 126.0M316.3 55.2L315.4 54.4M389.6 93.8L389.8 92.4M374.0 135.1L372.4 133.8L373.0 132.0L373.0 130.3M326.3 183.0L326.4 180.6L325.4 178.5M482.8 72.2L481.5 70.4L479.8 69.6L477.6 70.4M430.6 114.3L430.9 114.3M459.0 30.6L456.3 30.1L455.8 27.3M365.0 72.2L364.4 71.1M412.7 70.1L411.1 70.5L409.9 72.2L408.0 71.4M352.3 134.5L350.1 134.9L349.0 133.7L348.1 132.0L346.7 131.2M463.6 52.4L465.2 54.1L466.0 56.0L464.9 58.3M417.1 173.5L418.9 172.0L418.2 169.8M346.0 145.2L344.5 144.5L343.9 142.2L341.7 142.7M355.1 163.1L355.8 160.6L353.9 158.9M393.9 23.0L391.7 23.2L390.5 25.1M485.1 140.0L484.5 138.1L485.3 136.6L486.9 135.4L487.7 133.9L487.3 132.1M430.5 173.1L431.0 175.5L433.0 175.5L434.8 175.8M394.7 89.7L393.0 90.5L391.4 91.4L389.8 92.4M315.4 85.3L315.7 85.8M406.6 130.9L405.0 130.4L403.5 130.9M322.3 126.7L322.1 124.8L322.7 123.0M454.1 124.8L455.1 127.0L457.5 127.2M400.0 73.4L400.8 72.6M461.9 136.9L461.2 136.3L460.9 135.4M333.8 76.2L335.2 74.5L337.8 75.3L339.3 73.8M327.4 34.4L329.0 33.9L330.7 34.0" stroke="#8095fd"/><path d="M443.6 21.2L444.9 23.6L443.4 25.2L442.1 26.9M455.1 92.6L457.5 92.2L457.6 89.9L458.6 88.4M432.5 157.3L432.5 157.1M433.3 145.3L435.8 146.0L437.1 143.7L439.1 143.2M354.9 36.8L354.4 35.8M403.5 174.3L401.9 173.0L402.3 170.9M361.2 170.5L362.6 169.6L364.2 169.1M382.3 118.1L382.5 115.7L380.7 114.5L378.6 113.5L378.1 111.5M318.6 78.9L320.6 79.3L321.3 81.0L321.7 82.7M319.9 75.9L319.3 77.4L318.6 78.9M375.7 38.1L376.5 36.0L376.6 34.1L374.8 32.4M491.3 120.0L492.6 119.6M390.5 25.1L388.4 24.6L387.7 22.4L386.0 21.5M485.8 45.8L484.6 46.9L485.9 48.0M479.0 131.3L480.6 129.2L479.4 127.5L478.3 125.7M491.8 172.5L489.9 171.3L489.9 169.3L490.2 167.1L489.1 165.6M481.2 173.0L481.8 174.0M417.7 40.0L418.9 39.7L419.9 39.1M344.3 171.2L344.3 173.1L342.6 173.8M416.3 45.5L418.3 44.1L417.5 41.9L417.7 40.0M315.4 147.3L316.6 147.4L317.1 146.3M466.0 30.6L465.2 30.1M450.3 54.6L450.7 54.1M385.9 163.1L387.1 164.5L388.3 166.0L388.5 167.6L387.5 169.6M395.4 168.6L394.8 167.1L393.5 166.0L392.4 164.8L392.4 162.9M321.7 82.7L320.8 84.2L319.7 85.6M323.4 90.8L325.2 89.1L327.7 88.9M486.1 151.0L485.1 149.8L482.7 150.0L482.5 147.8M475.3 155.7L475.9 156.4L476.4 157.2M476.4 157.2L478.1 158.7L480.3 158.5M342.5 114.9L344.5 116.0L346.6 115.2M347.8 105.8L346.0 106.6L344.2 107.4L342.5 108.3L341.1 109.6M319.9 120.0L321.2 118.6L321.9 116.7L323.8 115.8M336.9 131.6L337.8 133.3L339.2 134.5L340.8 135.4L342.2 136.5M488.3 108.8L488.1 106.3L490.2 104.7M475.8 150.7L474.9 148.8L473.6 147.8L471.8 147.6L469.9 147.7M376.6 87.5L376.3 86.4L375.3 85.7M375.5 94.0L377.9 92.7L377.6 91.0L376.5 89.1L376.6 87.5M423.0 59.8L422.4 58.9L421.5 58.5M478.5 62.0L479.6 60.6L480.9 59.6L482.7 59.3M454.5 150.1L456.4 148.9L456.6 146.8L456.6 144.6L458.3 143.3M412.2 83.1L413.5 81.5L415.3 80.7M482.9 82.1L484.2 80.7L485.8 79.6M440.9 89.9L441.2 90.8L441.2 91.7M339.8 104.8L341.0 103.2L343.0 102.8L344.5 101.5M454.0 139.4L454.4 137.7L456.5 136.4L455.4 134.3M410.2 150.5L409.3 152.3L408.7 154.1L409.0 156.1M397.8 139.5L397.6 137.9L396.6 136.3L395.9 134.7L396.5 132.9M467.4 90.3L466.3 88.9L467.3 87.0L466.4 85.6M317.4 132.5L319.0 133.5L320.1 134.9L320.9 136.5M351.4 125.4L353.2 125.9L354.8 126.7L355.7 128.2L355.9 130.3M484.6 13.8L484.6 13.9M351.2 121.4L348.3 121.1L347.6 119.2L347.7 116.8L346.6 115.2M465.5 80.3L465.0 82.2L466.8 83.6L466.5 85.5M486.9 61.0L489.4 59.7L489.1 56.9M321.6 60.3L323.2 61.3L324.5 62.8L326.2 63.7M326.2 63.7L328.0 63.7L329.7 63.6L331.4 62.9M369.3 117.6L368.0 117.8L366.8 118.1M390.0 58.8L390.3 60.7L390.8 62.6L391.5 64.4M365.9 19.0L364.9 19.8L363.7 20.3M385.2 61.2L385.9 58.7L388.2 59.2L390.0 58.8M315.4 70.9L315.4 71.0M397.0 33.5L396.6 32.4L395.6 31.8M334.4 87.8L332.7 89.5L330.3 90.2M322.9 69.7L323.4 71.7L324.1 73.5L326.4 73.9M460.5 79.7L460.7 81.8L460.1 83.4L457.9 84.2M492.6 55.5L492.0 56.6M319.5 33.2L320.6 34.6L321.0 36.6L323.2 36.9M472.5 183.8L472.3 182.0L471.1 180.6M361.2 134.7L360.3 136.5L359.8 138.4L359.5 140.3M374.1 121.7L375.6 121.5M460.2 46.2L462.2 46.0L462.9 44.2L463.5 42.3L465.3 41.9M405.6 33.7L407.7 33.2L409.4 31.9M490.8 91.9L491.3 93.2L492.6 93.8M385.8 111.1L384.6 110.4L383.3 109.9M328.0 49.3L327.6 47.0L329.7 46.0L330.6 44.4M385.6 183.8L386.2 181.7L386.5 179.6M437.7 162.3L435.6 161.8L434.1 160.8L433.2 159.1L432.5 157.3M358.7 71.0L357.5 71.6L356.9 72.8M407.3 72.6L408.8 74.3L408.6 76.5M360.1 149.2L359.4 147.3L359.5 145.7L360.5 144.3L362.0 143.0M418.7 80.9L419.3 81.6M363.6 114.7L365.5 116.0L366.8 118.1M349.7 159.2L348.6 160.2L348.0 161.6M318.4 154.2L317.0 154.7M355.4 103.2L354.7 102.5L353.8 102.5M485.4 183.1L487.0 182.0L488.1 180.4M426.4 30.8L426.7 31.3" stroke="#78a1ff"/><path d="M400.3 85.7L402.0 84.5L402.7 82.5M395.6 72.2L395.6 72.2M437.9 40.8L435.5 40.4L434.7 38.1L433.1 36.7M450.6 31.7L452.0 30.7L453.3 29.7L454.6 28.5L455.8 27.3M422.6 150.4L422.6 150.4M424.1 166.0L423.5 167.1L423.1 168.3M371.7 167.0L370.5 165.7L371.1 163.6L369.6 162.5M362.7 55.7L363.0 57.7L362.7 59.7L362.7 61.7L363.5 63.6M420.4 18.9L422.0 19.7L423.3 20.8L424.1 22.3M395.4 168.6L393.9 169.8L392.8 171.4M392.8 171.4L393.0 172.6L393.0 173.8M399.0 50.3L398.8 52.0L398.8 53.7L399.5 55.2L400.6 56.7M357.9 168.5L358.7 170.9L361.2 170.5M390.0 55.7L390.8 56.7M390.8 56.7L392.1 56.1L393.6 56.2M473.9 122.2L472.4 123.4L470.2 123.5L468.3 124.1L467.4 126.3M340.1 158.6L339.3 156.6L337.4 155.7M342.6 173.8L343.1 176.1L343.2 178.5M351.2 177.7L349.9 176.4L348.8 175.0L348.5 173.4L348.8 171.5M400.1 103.5L397.8 104.0L395.6 103.3M393.3 107.1L394.0 108.5L394.7 109.9M395.6 103.3L394.7 101.8L394.0 100.3L393.5 98.7M373.7 99.5L373.7 100.9L373.1 102.2M448.7 174.6L449.6 175.1L449.7 176.1M465.2 30.1L463.2 31.5L461.2 31.2L459.0 30.6M347.0 70.7L345.4 71.9L345.5 74.1L344.3 75.5M482.9 88.3L482.9 89.3M389.8 179.1L390.0 176.9L390.4 174.7L393.0 173.8M361.9 156.8L361.2 154.8L362.6 152.7L361.5 150.8M368.6 79.9L369.9 81.2L372.0 81.9L373.3 83.1L372.9 85.6M364.0 178.9L363.2 180.8L364.1 182.8M400.7 125.9L401.8 124.7L402.7 123.4M451.6 150.4L451.1 152.5L449.3 153.2L447.7 154.3M469.0 102.1L469.1 102.8M474.0 108.4L475.3 106.6L477.1 105.5L479.1 104.7M363.3 54.7L361.5 53.5L359.5 52.5L359.2 50.0M471.6 22.9L472.5 20.7L474.8 19.8M329.7 127.7L330.5 127.8M467.6 157.3L468.5 156.7L469.0 155.8M368.1 89.7L368.7 91.7L370.9 93.3L369.8 95.7M449.5 140.2L447.2 141.3L446.9 143.3L446.9 145.4M386.3 86.8L386.5 85.3L387.5 84.2M483.1 74.4L481.2 75.0L478.6 74.5L478.2 77.5M476.6 49.3L477.1 52.0L479.7 52.8M480.1 52.9L482.0 52.2L484.0 51.7L485.5 50.4L485.9 48.0M401.2 20.3L402.8 19.7L403.6 18.3M368.5 175.0L368.0 175.8L367.8 176.8M469.7 65.4L467.9 66.6L465.9 67.2L463.8 66.2M340.8 89.6L341.0 90.9M409.7 156.8L411.2 158.0L412.9 158.7L414.6 158.5L416.4 157.4M430.5 85.1L432.5 84.8L434.6 84.7L435.1 82.1M446.4 72.9L445.5 74.3L445.6 76.0L446.3 77.8L446.2 79.4L444.7 80.7M400.7 140.1L399.3 139.4L397.8 139.5M396.5 132.9L395.9 132.3M432.9 110.1L432.2 112.3L430.9 114.3M394.4 42.4L393.8 41.0L393.8 39.1L392.2 38.2M435.0 25.4L435.9 27.7L438.2 26.9L439.9 27.6M400.9 39.4L399.5 40.3L399.3 42.2L397.6 42.9M439.8 150.8L440.3 151.6L441.1 152.3M394.1 151.5L395.0 150.7L395.3 149.5M446.8 69.6L446.4 71.2L446.3 72.7M435.1 82.1L435.7 84.0L437.6 85.7L436.5 88.1M441.0 37.1L442.5 36.5L444.1 35.8L445.5 35.0L446.7 33.8L447.7 32.4M442.8 58.4L443.7 59.9L444.7 61.3L445.9 62.6M331.9 170.6L334.3 172.0L336.5 170.3M345.1 32.1L347.4 31.9L349.3 30.6M441.9 14.7L443.1 13.8L444.6 13.8M359.5 140.3L360.5 141.9L362.0 143.0M457.7 36.9L457.3 37.2M330.8 96.1L331.2 95.7M455.3 113.1L457.4 112.4L459.0 113.8L460.6 115.2L462.6 114.8M376.4 109.7L374.3 110.1L372.4 109.9L370.9 108.1M370.9 108.1L370.4 110.0L369.0 111.3M402.1 148.6L403.9 148.9L405.7 149.2L407.5 149.3L409.4 149.2M382.9 118.2L383.7 116.7L384.8 115.3L385.7 113.9L386.1 112.2M479.7 181.3L481.6 179.9L481.9 178.0L481.5 175.9L481.8 174.0M467.6 157.3L468.9 158.9L469.5 160.7L469.1 162.5L468.2 164.4M467.3 58.8L466.0 59.1L464.9 58.3M472.0 137.6L472.7 135.3L473.5 133.1M451.1 183.3L450.5 183.8M371.5 48.2L372.1 49.2L373.3 49.3M342.3 136.5L343.8 138.2L346.1 138.2L347.9 139.2M371.5 48.2L369.5 48.7L368.2 51.0L365.8 50.5M365.8 50.5L366.1 52.6L364.5 54.0M370.9 108.1L371.8 106.0L369.7 104.9M454.1 122.8L452.7 121.5L451.8 119.8L450.5 118.4M351.6 146.1L349.5 147.6L348.2 146.0L346.8 144.8M381.5 51.0L379.6 49.8L380.0 47.5M459.6 60.2L459.0 58.3L459.9 55.9L457.6 54.7M318.6 61.9L319.4 59.7L321.6 60.3M461.2 51.2L462.4 51.9L463.6 52.4M487.3 79.8L489.0 80.9L488.7 83.1L489.9 84.4M375.0 67.0L373.8 65.8L372.0 65.3L371.7 63.4M471.1 180.6L472.9 180.0L472.9 178.2M395.1 159.8L396.0 158.6L396.8 157.1M489.9 147.7L488.8 149.0L488.7 151.4L486.1 151.0M358.9 63.5L357.7 62.0L356.5 60.5L356.5 58.4M368.6 149.9L368.9 148.5M427.2 59.6L428.8 61.2L430.0 63.1M379.8 64.7L378.7 63.0L377.5 61.3L378.4 59.1M485.9 143.0L484.8 144.6L484.6 146.8L482.5 147.8M485.7 140.7L485.1 140.0M363.8 47.1L365.4 48.5L365.8 50.5M318.8 147.0L318.1 146.2L317.1 146.3M444.7 180.9L444.5 182.4L445.1 183.8" stroke="#71adf9"/><path d="M385.7 65.7L384.8 65.0M475.7 40.4L476.6 38.5L475.7 36.4L476.5 34.4M458.6 88.4L458.7 87.5L458.9 86.6M446.1 82.5L446.9 84.7L445.4 86.4M373.2 157.6L373.0 159.8L374.7 160.7L376.6 161.3L377.2 162.9M423.8 143.1L422.4 144.5L421.6 146.2M439.2 143.0L439.2 141.0L438.1 138.7L440.7 137.4M400.8 111.1L401.1 113.1L401.2 115.1M427.3 22.5L427.7 21.1L429.1 20.4M320.7 99.1L318.3 98.6L317.0 96.5M396.4 168.4L395.4 168.6M432.3 101.9L432.9 100.9L432.5 99.9M409.8 164.6L407.6 162.7L408.1 160.7L409.5 158.8L409.7 156.8M412.4 37.3L411.8 37.7M419.3 72.9L417.0 72.9L414.7 73.2M369.3 139.0L367.6 139.9L366.7 141.5L365.7 143.1M456.6 176.5L456.2 174.8L457.0 173.2L458.3 171.6L458.5 170.0L457.3 168.2M319.7 85.6L322.5 86.3L323.0 88.5L323.4 90.8M403.2 174.9L402.5 176.7L403.6 178.5L404.4 180.3L402.9 182.0M427.3 91.3L426.2 89.5L424.0 89.7M367.8 176.8L366.4 178.8L364.0 178.9M392.7 123.4L393.4 124.3M402.7 123.4L403.2 121.2L402.5 119.5L401.1 118.2L399.9 116.8M458.6 153.6L457.6 152.0L455.8 151.4L454.5 150.1M350.5 110.4L348.4 109.6L349.0 107.2L347.8 105.8M455.0 68.7L455.7 69.9M461.6 70.3L463.1 68.5L463.8 66.2M413.2 122.9L413.0 124.0M422.8 123.9L420.8 123.0L418.1 123.1L417.8 120.0M378.9 58.3L380.5 59.4L382.1 58.2M333.8 80.4L333.8 78.3L333.8 76.2M333.8 18.3L333.3 20.5L331.3 21.1L329.8 22.3M456.7 43.8L455.3 42.3L455.8 40.2M403.9 14.1L403.7 13.8M352.9 82.3L355.1 82.2L357.1 82.3L358.1 84.7M361.2 83.4L361.2 81.3L362.5 79.0L360.0 77.4M360.0 77.4L358.5 76.4L356.9 75.5M353.3 177.4L352.3 178.0L351.2 177.7M358.5 183.8L358.8 181.8L357.8 180.2M353.1 94.8L353.1 94.7M479.8 147.5L479.8 145.6L478.1 144.2L476.8 142.8L477.6 140.6M460.2 143.1L460.0 143.2M415.4 150.2L416.0 148.6L416.1 146.6L418.2 146.0M409.5 19.7L408.7 21.8L407.7 23.8L409.6 25.8M409.6 25.8L409.9 26.0M341.0 90.9L343.4 91.2L344.3 93.1L345.1 95.2L347.0 96.0M353.9 90.9L353.8 88.9L352.2 88.0L350.4 87.1L349.9 85.4M395.3 149.5L397.1 149.7L398.5 148.5L400.1 147.6L401.9 148.4M322.3 126.7L320.8 128.7L318.2 128.4M356.6 118.3L356.5 118.3M382.9 118.2L382.3 118.1M404.1 39.1L404.0 37.7L405.4 37.5M347.9 37.0L346.6 35.4L344.6 35.2M486.7 54.3L484.7 54.8L482.6 55.3M363.5 21.5L363.8 23.1L363.7 25.0L364.2 26.5L366.4 27.2M327.4 158.2L329.4 157.7L330.5 159.4M358.2 44.1L360.7 43.7L361.3 41.2M340.8 89.6L339.6 87.7L338.1 87.2L336.2 87.5L334.4 87.8M358.6 14.9L359.4 15.7L358.6 16.4M326.2 63.7L325.3 65.2L323.7 66.2L322.9 67.8M483.4 73.4L483.1 74.4M414.5 53.5L412.9 55.5L414.9 57.0L415.4 58.7M327.4 34.4L328.3 32.3L327.2 30.6L326.0 29.0M471.1 180.6L469.4 181.8L467.4 181.4L465.5 181.8M324.9 97.0L326.8 96.3L329.0 97.1L330.8 96.1M330.9 172.1L333.2 172.9L333.3 174.7L332.8 176.6L333.3 178.2M407.2 57.9L407.0 57.3M461.9 136.9L460.2 138.1L459.5 139.6L459.7 141.3L460.2 143.1M432.3 101.9L433.4 103.5L434.9 104.8M373.3 49.3L375.2 48.7L376.9 47.7L378.7 46.8M432.9 110.1L432.3 108.5L431.1 107.4L429.7 106.5L428.4 105.5M347.8 105.8L347.8 105.3M315.7 85.8L315.4 86.3M470.2 51.6L468.6 52.3L466.9 52.5L465.3 52.4L463.6 52.4M375.2 166.3L373.8 166.4L372.6 167.3M466.2 119.6L464.6 118.3L462.6 117.3M373.7 99.5L372.7 98.2L372.4 96.6M397.1 26.8L396.8 24.9L395.6 23.8L393.9 23.0M412.2 95.0L410.2 94.9L408.3 95.7M450.7 61.0L452.7 60.8L454.2 62.3L456.0 62.7M350.5 110.4L353.1 109.2L355.2 111.2M380.0 47.5L382.0 47.3L384.5 48.3L385.6 45.5M322.5 54.4L322.3 53.6L321.5 53.3M408.5 76.7L406.3 77.0L405.1 79.4L402.7 79.2M349.9 85.4L352.2 84.6L352.9 82.3M410.0 64.8L409.4 63.0L409.7 61.4L410.6 59.7M445.1 166.0L443.9 167.9L442.5 169.5M341.6 137.4L339.8 136.6L338.1 136.5L336.6 137.1L335.2 138.1L333.8 139.1M434.3 20.4L432.6 19.9L430.8 19.8L429.1 20.4M476.5 19.6L475.6 19.5L474.8 19.8M459.7 119.9L458.8 119.6L457.9 119.7M462.6 114.8L463.2 116.1L462.6 117.3M330.8 96.1L329.9 98.0L330.4 99.9L330.3 101.9M404.2 123.2L402.7 123.4M473.9 122.1L476.2 122.1L477.5 120.6L478.4 118.7M345.8 161.9L344.7 159.8L342.7 158.4M412.5 34.3L411.1 32.8L409.4 31.9M405.4 37.5L407.0 38.2L408.6 37.8L410.2 37.2L411.8 37.7M360.2 47.8L359.1 48.6L359.2 50.0" stroke="#6cb8f1"/><path d="M375.0 67.0L376.1 69.1L375.6 70.9L374.2 72.3L373.1 73.9M395.6 72.2L394.7 70.2L392.9 68.3L394.7 66.0M433.1 36.7L431.2 35.9L429.5 37.8L427.6 37.1M466.0 30.6L465.9 32.6L464.1 33.9L462.6 35.3L463.3 37.5M450.3 93.5L451.7 92.5L453.4 92.6L455.1 92.6M333.2 59.7L331.5 60.9L331.4 62.9M428.5 164.8L428.7 163.0L429.1 161.2L429.8 159.7L431.0 158.4L432.5 157.3M457.6 54.7L459.1 53.8L461.0 53.3L461.2 51.2M369.6 162.5L367.7 161.9L365.8 161.8M317.0 154.7L316.1 154.4L315.4 153.7M363.5 63.6L364.4 64.4L365.4 65.2M371.7 63.4L372.2 62.1M315.4 104.3L315.5 104.7M432.5 99.9L430.9 98.5L430.4 96.5M400.6 56.7L402.6 58.4L404.7 58.2L407.0 57.3M440.9 40.2L440.6 39.9M377.3 111.4L376.4 112.7L375.2 113.8M381.3 30.6L382.0 31.0L382.6 31.6M338.7 165.6L337.6 163.6L337.8 161.8L339.0 160.2L340.1 158.6M343.2 178.5L345.0 176.9L346.6 177.3L348.0 178.5L349.6 179.2M414.7 73.2L414.1 74.5L413.4 75.7M403.0 107.0L401.1 105.5L400.1 103.5M319.9 75.9L318.7 74.5L318.7 72.6M318.7 72.6L316.6 72.8L315.4 71.0M389.3 107.0L391.3 108.1L393.3 107.1M471.8 75.1L473.6 74.2L475.6 74.5M419.0 127.8L417.2 129.2L416.8 131.3L416.0 133.2M418.6 136.2L420.2 135.1L421.8 133.5L423.6 132.8L425.9 133.9M492.2 88.9L492.3 86.5L490.7 84.7M411.9 174.3L413.6 172.7L414.0 171.0L413.1 169.3L412.2 167.6L412.1 166.0M402.9 182.0L404.3 182.7L405.4 183.8M373.7 75.6L373.1 77.6L372.2 79.0L370.6 79.7L368.6 79.9M346.0 15.0L345.5 16.1L344.8 17.0M341.1 109.6L343.0 111.0L343.2 112.8L342.5 114.9M318.9 64.9L318.5 63.4L318.6 61.9M457.8 128.4L459.4 129.7L461.3 130.4L463.3 130.8M465.5 181.8L466.3 179.1L464.4 177.8L462.7 176.4M468.0 149.5L470.5 151.3L469.2 153.6L469.0 155.8M420.9 25.4L421.9 27.2L421.5 29.2M338.4 19.1L340.3 19.4L342.1 19.6L343.7 18.9L344.8 17.0M384.0 52.1L382.7 51.6L381.5 51.0M418.3 67.0L420.1 65.9L422.1 65.2M422.1 65.2L423.8 63.6L423.1 61.6L423.0 59.8M341.0 25.3L339.1 24.3L339.2 22.4L339.6 20.4L338.4 19.1M336.7 18.2L335.3 18.2L333.8 18.3M364.9 101.9L363.1 101.4L361.3 101.1L359.7 100.2M480.3 158.5L482.0 160.1L482.5 162.2L481.9 164.4M490.6 164.2L489.7 162.2L491.1 160.6M491.1 160.6L490.3 159.0L490.7 156.8L490.3 155.0L487.6 154.6M415.5 87.4L414.1 89.1L414.4 91.2M319.3 183.8L318.4 183.5M347.8 105.3L350.0 106.0L351.5 105.3L352.6 103.9L353.8 102.5M469.9 144.4L467.3 144.4L466.6 141.9M336.0 102.3L338.2 103.1L339.8 104.8M461.6 70.3L462.3 71.5L463.0 72.7M351.7 169.0L350.3 167.1L351.8 165.3M348.0 161.6L346.9 162.3L345.8 161.9M418.0 153.6L416.3 152.2L415.4 150.2M390.5 136.1L389.6 138.6L390.9 140.4L392.6 142.0M471.2 117.4L473.0 117.1L474.1 115.9L475.0 114.5L476.3 113.4M441.0 18.4L439.1 17.1L437.2 17.3L435.4 18.8M397.6 42.9L399.7 44.2L400.0 46.0L399.4 48.0L399.3 49.9M383.3 109.9L382.3 107.8L382.6 105.7L383.4 103.7M450.3 93.5L452.4 95.0L452.2 96.7L451.2 98.5L451.0 100.3M405.4 37.5L405.4 35.6L405.6 33.7M489.7 19.9L490.9 18.6L492.6 17.9M341.8 36.7L342.7 38.5L343.6 40.3L342.4 42.4M339.3 118.8L340.4 120.2L341.9 121.2L343.3 122.3L344.0 124.0M485.4 183.1L483.8 181.5L481.5 182.1L479.7 181.3M460.9 135.4L461.2 133.6L460.5 131.3L463.3 130.8M404.5 13.8L403.9 14.1M394.7 66.0L395.9 64.9L397.5 64.7M341.0 25.3L342.7 24.8L344.1 23.1L346.2 23.6M401.2 20.3L400.7 22.4L402.7 24.1L402.0 26.2M457.8 17.0L458.8 15.8L460.3 15.2M360.0 13.8L359.5 14.5L358.6 14.9M362.3 36.6L360.4 35.4L360.5 33.4L360.9 31.4L359.9 29.8M350.2 28.5L348.8 26.9L348.9 24.2L346.2 23.6M380.8 95.3L380.7 97.0L379.6 98.3L378.6 99.5M386.3 100.9L385.4 99.0L385.1 97.0M364.6 133.2L363.0 134.3L361.2 134.7M315.7 60.3L315.3 58.5L315.0 56.7L316.3 55.2M336.0 50.9L337.2 53.0L339.5 52.0L341.2 52.8M409.4 31.9L409.1 29.9L410.3 28.0L409.9 26.0M491.5 133.1L491.2 134.7L489.6 136.2L488.9 137.8L490.8 139.7M402.9 182.0L400.8 181.6L399.3 183.2M473.9 163.9L472.5 161.4L473.7 160.0L475.7 158.8L476.4 157.2M375.5 31.4L377.5 31.6L379.2 29.6L381.3 30.6M399.1 61.5L400.7 62.5L402.9 61.4L404.5 62.7M440.8 100.5L439.8 99.6L438.6 99.0M485.7 140.7L486.5 141.8L485.9 143.0M398.2 94.3L398.2 94.5M363.7 111.7L365.5 111.8L367.1 109.9L369.0 111.3M454.1 124.8L453.7 123.8L454.1 122.8M481.1 91.8L479.4 91.6L477.6 92.9L475.9 93.6L474.2 91.7M464.2 173.9L464.2 172.1L462.5 171.1L461.0 170.0L461.5 168.0M386.2 19.7L384.3 18.7L381.9 18.3L381.4 15.7M351.8 165.3L353.5 164.4L355.1 163.1M353.7 49.9L354.2 47.9L354.8 45.9L354.3 43.8M492.6 159.2L491.8 159.9L491.1 160.6M426.7 31.3L425.8 32.6L426.2 34.1M423.0 59.8L425.1 59.9L427.2 59.6M321.4 155.5L322.3 155.2L323.3 155.1M352.3 78.2L351.7 77.3L350.7 77.0M457.8 17.0L457.6 17.8M457.6 17.8L459.2 19.1L459.7 20.9L460.3 22.7M339.0 79.8L337.1 78.9L335.6 80.8L333.8 80.4M340.1 158.6L341.4 158.5L342.7 158.4M487.6 154.6L489.4 155.0L491.2 155.2L492.6 153.5M419.9 39.1L420.8 40.9L421.9 42.2L424.2 41.5M421.6 146.2L420.0 144.7L418.2 146.0M424.8 69.6L425.3 68.3M324.0 98.5L324.1 97.6L324.9 97.0M424.2 110.6L423.2 112.1L421.6 113.2L421.5 115.1" stroke="#67c2ec"/><path d="M391.5 64.4L389.5 64.6L387.6 65.5L385.7 65.7M373.1 73.9L372.8 74.9L373.7 75.6M455.8 27.0L454.5 25.4L455.3 23.0L453.9 21.4M445.4 86.4L445.7 88.3L446.2 90.1L447.2 91.7L448.8 92.9M343.9 62.9L343.1 61.4L341.0 61.2L340.5 59.5M333.7 69.1L335.1 70.7L337.2 70.5L338.9 71.2M388.3 153.8L386.2 153.0L385.0 151.3L383.7 149.6M440.7 137.4L438.0 137.1L437.4 135.4L437.6 133.1L436.7 131.6M450.5 47.3L451.5 49.0L451.5 50.7L451.0 52.4L450.7 54.1M424.0 99.4L424.6 101.4L425.4 103.4L425.8 105.5M376.3 120.6L378.3 121.4L379.9 120.8L381.1 119.4L382.3 118.1M326.0 81.7L325.6 79.9L326.0 78.0L325.1 76.3M440.0 64.8L439.2 63.2L439.0 61.5L439.5 59.7M331.9 164.4L333.7 164.1L335.6 163.5L337.3 163.8L338.7 165.6M412.4 37.3L414.7 37.2L416.7 37.6L417.7 40.0M419.9 39.1L420.3 37.2L421.0 35.3M415.3 80.7L417.1 79.8L418.7 80.9M492.1 132.8L492.6 132.0M477.6 70.4L476.1 69.1L476.6 67.1M317.4 120.4L316.1 120.1L315.4 119.0M392.4 162.9L390.2 162.9L388.1 161.4L386.0 163.0M375.3 85.7L376.6 84.5L377.9 83.3L378.5 81.8L378.0 79.8M393.4 124.3L395.8 123.9L397.7 124.9L399.5 126.2M317.4 120.4L318.6 119.9L319.9 120.0M330.5 127.8L331.9 126.8L332.7 124.6L334.0 123.2L336.6 124.1M463.8 66.2L462.5 64.5L460.3 63.2L461.1 60.6M333.4 141.3L331.7 141.9L330.7 143.5M468.2 164.4L467.4 165.1M467.4 165.1L469.1 166.8L469.5 168.6L468.9 170.6L468.4 172.5M415.2 58.9L414.8 60.7L414.0 62.5L413.9 64.2L415.2 66.0M381.3 140.7L383.7 140.3L384.8 138.1M449.0 40.2L448.1 41.9L449.7 43.8L448.6 45.5M489.1 165.6L489.9 164.9L490.6 164.2M410.5 83.1L411.3 82.7L412.2 83.1M408.5 135.7L407.8 137.0M480.6 42.8L480.4 42.9M354.4 35.8L354.8 33.7L355.0 31.6L357.3 30.5M473.8 91.4L472.1 91.5L470.4 90.9L468.8 91.5M477.2 113.9L479.8 115.0L478.5 117.0L478.4 118.7M375.7 174.6L374.6 174.1L373.7 173.3M445.6 120.4L443.7 121.8L442.0 121.4L440.5 120.1L438.9 119.2M438.9 128.9L440.5 130.2L442.3 129.8L444.0 129.5M318.4 183.5L318.8 181.6L318.9 179.6M318.9 179.6L316.4 180.2L315.4 177.8M455.2 133.9L453.2 133.2L451.4 132.2M440.1 109.7L438.4 110.9L436.6 110.0L434.8 109.0L433.1 110.0M388.6 36.7L386.7 37.4L386.5 39.9L384.6 40.6M349.9 60.0L349.3 62.7L347.6 62.9L345.4 62.3L343.9 62.9M326.3 135.9L326.7 134.1L328.4 132.6L329.3 131.0L327.9 128.8M384.4 119.4L383.7 118.7L382.9 118.2M363.7 20.3L361.3 20.8L360.4 19.3L359.9 17.3L358.6 16.4M358.6 16.4L357.1 17.8L355.5 19.0L353.5 19.8M366.8 118.1L366.6 119.8L366.6 121.7L364.9 122.9M445.9 62.6L447.7 62.1L449.5 62.5M397.5 64.7L398.7 63.3L399.1 61.5M346.2 23.6L346.6 23.0L346.9 22.2M331.0 165.4L330.8 167.2L332.4 168.7L331.9 170.6M396.6 179.4L394.9 179.7L394.0 182.0L391.9 181.3M367.3 13.8L366.9 14.0M427.7 67.4L428.5 68.9L429.8 69.9L431.4 70.7L432.8 71.6M334.2 156.0L333.4 154.4L332.5 153.0L331.1 151.9M326.4 156.5L326.4 157.6L327.4 158.2M322.9 67.8L321.5 67.0L319.3 67.2L318.9 64.9M359.9 29.8L358.3 29.2L357.3 30.5M339.8 28.1L340.7 29.6L342.4 30.1L344.2 30.6L345.1 32.1M341.6 166.5L340.4 165.7L339.0 165.9M323.3 155.1L325.0 155.3L326.4 156.5M371.1 114.5L370.1 116.0L369.3 117.6M381.2 89.3L382.2 91.3L381.7 93.2L381.1 95.1M389.8 92.4L388.2 91.4L387.8 89.7L387.6 87.9L386.3 86.8M336.0 50.9L336.0 50.9M323.2 91.5L325.6 92.7L325.1 94.9L324.9 97.0M457.1 105.8L455.6 106.8L454.8 108.3L454.4 110.0M462.6 114.8L464.2 113.3L466.0 112.0M402.4 26.6L402.1 28.7L402.1 30.8M492.6 132.9L492.1 132.8M359.8 174.4L361.4 175.6L361.4 177.7M445.1 166.0L446.0 168.8L448.3 167.8L450.1 168.0M454.9 161.5L454.5 160.6M358.9 63.5L358.4 65.2L356.8 66.0M408.6 141.5L406.8 143.2L404.8 143.9L402.4 142.9M440.2 178.1L441.6 177.2L442.4 175.5L443.4 174.1L445.4 174.0M400.6 56.7L398.4 56.8L398.7 58.9M404.5 62.7L405.0 60.8L406.2 59.4L407.2 57.9M396.5 132.9L398.0 134.8L399.8 134.1L401.5 133.3M433.9 14.6L434.6 16.7L435.4 18.8M436.1 165.9L436.7 164.0L437.7 162.3M406.6 130.9L408.4 132.0L407.8 134.1L408.5 135.7M350.6 14.8L351.1 13.8M414.7 73.2L414.9 70.9L412.7 70.1M405.7 99.3L407.1 97.6L408.3 95.7M366.3 97.2L367.8 95.8L369.8 95.7M336.0 50.9L334.3 52.3L334.0 54.1L334.7 56.1L334.7 58.0L333.7 59.5M462.7 176.4L464.4 175.7L464.2 173.9M343.2 150.6L344.6 151.9L345.6 153.5M321.5 53.3L319.5 53.2L317.7 53.6L316.3 55.2M365.0 72.2L367.0 70.7L368.6 70.8L370.0 72.3L371.5 73.6L373.1 73.9M468.4 172.5L466.1 172.7L464.2 173.9M449.2 16.3L448.8 14.3L446.9 13.8M418.1 116.4L415.9 116.7L414.7 114.8L412.9 114.3M315.4 125.4L318.0 125.8L318.2 128.4M347.5 55.7L345.5 57.3L343.9 55.7L342.1 55.1M408.7 89.1L410.5 89.5L412.4 89.9L413.5 91.6M425.3 68.3L424.8 65.6L422.1 65.2M388.9 18.2L387.7 19.3L386.2 19.7M470.9 77.6L470.3 76.0L471.8 75.1M418.8 103.8L419.8 106.0L421.4 107.2L423.9 107.1M487.8 50.6L485.9 52.1L486.7 54.3" stroke="#5ecae3"/><path d="M319.7 20.3L318.6 22.2L316.8 24.0L318.3 26.5M427.4 49.8L429.0 49.7L430.7 49.9M471.2 29.6L469.6 30.6L468.1 32.1L466.0 30.6M448.8 92.9L449.6 93.2L450.3 93.5M340.5 59.5L338.8 58.8L337.1 57.9L335.4 57.9L333.7 59.5M377.2 162.9L378.9 164.0L381.1 162.8L382.8 164.0M433.3 145.3L433.3 145.3M412.9 114.3L411.6 112.5L411.7 110.5L412.1 108.5L411.5 106.6M426.2 174.9L428.2 173.6L430.5 173.1M319.9 104.7L320.4 102.9L321.5 101.1L320.7 99.1M358.0 164.1L356.5 166.3L357.9 168.5M402.3 157.3L401.6 158.9L400.4 160.3L401.6 162.1M323.4 110.8L325.1 110.7L326.8 111.3L328.5 112.1L330.2 111.9L331.9 110.5M332.8 103.9L331.4 103.0L330.3 101.9M375.2 113.8L373.4 115.8L374.1 117.5L375.9 118.9L376.3 120.6M434.3 33.5L434.0 35.2L433.1 36.7M323.9 165.0L321.1 164.6L320.4 161.9M378.6 99.5L377.0 99.7L375.3 99.3L373.7 99.5M342.6 173.8L340.6 175.7L339.2 173.9L337.6 173.0M317.1 146.3L316.5 144.8L314.7 143.5L313.8 142.1L315.5 140.0M346.1 77.6L348.3 76.8L350.7 77.0M490.2 104.7L491.4 105.0L492.6 105.4M383.0 177.4L384.2 179.4L386.5 179.6M412.5 181.8L411.9 180.0L410.5 178.4L409.9 176.6L411.6 174.6M399.5 126.2L400.7 125.9M447.7 154.3L447.4 156.0L448.3 157.5M479.1 104.7L478.3 102.9L477.8 101.0L477.0 99.2M466.8 129.8L467.2 129.4M412.3 17.1L414.0 18.0L415.1 19.6L416.9 20.4M332.5 115.8L330.8 116.8L329.5 118.4L327.3 118.5M476.6 49.3L478.4 48.2L478.9 46.3L479.2 44.3L480.4 42.9M417.8 120.0L415.3 119.4L414.7 121.9L413.2 122.9M412.5 181.8L412.7 183.0L414.0 182.7M333.8 76.2L332.4 74.6L331.1 73.1M322.3 143.1L321.4 144.4L321.7 146.0M482.6 55.3L481.8 53.7L480.1 52.9M480.1 52.9L479.7 52.8M373.0 155.4L370.6 155.7L369.9 153.4M379.0 140.4L380.1 140.7L381.3 140.7M326.3 135.9L326.0 136.2M326.0 136.2L325.1 138.4L326.0 140.6M333.4 141.3L333.6 140.2L333.8 139.1M432.6 78.7L433.6 80.3L435.3 81.3M356.6 109.9L358.1 110.8L359.8 110.7L361.4 110.4L363.0 110.7M408.6 141.5L410.3 141.8L410.6 143.5M403.6 18.3L404.3 16.2L403.9 14.1M441.2 91.7L443.2 92.8L444.5 94.7M356.9 75.5L355.0 75.7L353.9 77.4L352.3 78.2M473.8 140.4L472.3 141.6L470.5 142.5L469.9 144.4M478.4 118.7L480.3 118.8L481.4 120.0L482.5 121.3M445.4 135.0L445.2 135.4M435.1 82.1L435.3 81.3M402.4 142.9L401.6 141.4L400.7 140.1M408.0 71.4L407.1 69.7L406.6 67.9L406.2 66.1M406.2 66.1L405.5 65.8M361.8 125.8L361.7 124.9L362.2 124.2M359.4 98.2L361.6 97.2L362.8 95.0M404.2 123.2L405.6 124.2L407.1 125.1L408.6 126.1L409.9 127.2M482.5 121.5L482.2 124.0L480.6 125.2L478.3 125.7M455.0 68.7L453.2 66.6L450.6 67.2M397.1 33.6L398.0 35.1L398.5 36.8L399.4 38.3L400.9 39.4M394.4 42.4L396.0 43.0L397.6 42.9M485.5 183.8L485.4 183.1M423.0 123.9L422.8 123.9M427.4 126.3L426.9 123.8L424.9 124.0L423.0 123.9M370.8 21.1L371.4 23.3L370.8 25.4M398.7 163.1L397.5 161.9L396.2 161.0L395.1 159.8M450.7 61.0L450.9 59.4L451.1 57.8L450.9 56.1L450.3 54.6M336.5 170.3L338.7 169.7L338.5 167.6L339.0 165.9M321.4 52.5L324.0 52.3L323.5 49.9L324.2 48.4M451.4 132.2L451.1 130.5L448.9 129.3L450.1 127.3M394.7 89.7L395.5 91.5L398.1 92.0L398.2 94.3M443.8 65.4L441.9 65.1L440.0 64.8M324.8 148.1L324.8 150.0L323.2 151.4L322.1 153.0L323.3 155.1M434.8 175.8L433.5 177.3L431.1 177.8L429.5 179.0L429.9 181.9M457.3 37.2L455.1 38.0L455.8 40.2M366.4 27.2L364.9 28.1L363.3 28.9L361.7 29.6L359.9 29.8M345.9 49.1L344.8 47.4L343.8 45.7L345.4 43.8M361.4 177.7L362.4 179.0L364.0 178.9M369.0 111.3L369.2 113.5L371.1 114.5M443.8 162.2L443.5 164.4L445.1 166.0M324.0 177.3L322.4 177.2L320.9 177.8M323.7 43.7L323.1 44.8M481.2 173.0L479.1 173.3L477.3 172.1M434.8 89.3L432.5 90.1L430.5 88.7M467.2 137.3L468.9 135.4L470.4 136.7L472.0 137.6M461.1 160.6L459.0 160.9L457.3 162.9L454.9 161.5M440.1 59.0L441.4 58.4L442.8 58.4M356.9 72.8L357.3 74.2L356.9 75.5M390.3 114.8L389.1 113.7L388.3 111.8L386.1 112.2M430.7 49.9L432.9 50.4L433.5 52.2L434.1 54.0M425.6 82.7L426.1 82.4M339.2 150.5L341.2 150.8L343.2 150.6M342.1 55.1L341.7 53.9L341.2 52.8M340.5 59.5L341.4 57.3L342.1 55.1M380.1 16.0L379.2 17.5L378.5 19.2L378.0 20.9L377.8 22.7M419.8 71.9L419.3 72.9M345.9 49.1L346.9 50.1L348.1 50.7M443.6 98.8L442.8 96.5L444.5 94.7M460.3 22.7L460.4 25.8L457.7 25.9L455.8 27.0M380.3 169.5L382.8 168.4L382.2 165.9L382.8 164.0M342.7 158.4L343.1 156.4L343.2 154.3L345.6 153.5M480.5 104.9L479.1 104.7M492.6 149.1L491.6 147.7L489.9 147.7M426.2 34.1L424.8 35.8L422.6 34.5L421.0 35.3M492.5 51.7L492.6 52.3M347.9 154.1L347.9 156.0L349.2 157.5L349.7 159.2M444.3 112.7L443.1 112.8L442.0 112.4M401.5 68.1L400.8 66.1L399.4 65.1L397.5 64.7M450.6 67.2L450.8 65.5L451.1 63.7L449.5 62.5M440.4 178.5L442.1 178.9L443.0 180.6L444.7 180.9M358.0 164.1L356.5 163.7L355.1 163.1M328.6 53.5L329.1 52.8L329.3 52.0M434.1 54.0L432.7 54.7L433.0 56.3M401.6 162.1L400.4 163.4L398.7 163.1" stroke="#53d0d6"/><path d="M394.7 66.0L392.9 65.6L391.5 64.4M385.7 65.7L385.7 65.7M373.7 75.6L376.3 75.7L376.8 78.1L378.0 79.8M387.5 84.2L389.1 84.5L390.3 85.8L391.3 87.5L392.8 88.3L394.8 87.8M402.7 79.2L401.7 77.9L399.9 77.0L398.9 75.7L400.0 73.4M318.3 26.5L319.0 27.8L320.3 28.5M427.1 49.7L427.4 49.8M430.7 49.9L432.3 48.6L434.9 49.3L436.2 47.3M461.2 51.2L461.0 49.5L460.9 47.7L460.2 46.2M363.3 164.6L363.7 166.9L364.2 169.1M455.1 92.6L454.8 94.8L456.9 95.4L457.9 96.8M348.7 41.8L350.8 41.5L352.9 42.2M407.0 57.3L407.6 55.2L408.2 53.0M375.4 14.2L376.9 15.0L378.3 16.0L380.1 16.0M492.6 111.0L491.6 111.1L490.8 111.5M487.7 176.5L487.6 173.6L490.0 173.4L491.8 172.5M410.1 43.9L412.0 42.8L413.4 43.7L414.7 45.2L416.3 45.5M393.5 98.7L392.2 101.0L390.3 101.3L388.2 100.7L386.3 100.9M461.1 104.8L462.8 103.8L462.7 101.9M450.5 47.3L449.8 46.1L448.6 45.5M489.9 84.4L488.9 86.4L487.2 86.6L485.3 86.2L483.7 86.8M455.3 113.1L454.7 111.6L454.4 110.0M355.1 157.3L356.8 157.3L358.5 158.5L360.3 157.7M428.9 95.7L429.3 93.1L427.3 91.3M480.3 158.5L481.4 156.6L483.6 156.4L485.7 156.2L486.8 154.2M318.6 61.9L317.9 59.7L315.7 60.3M483.7 101.9L481.1 102.4L480.5 104.9M463.3 130.8L464.8 129.5L466.8 129.8M455.5 183.6L456.0 183.8M467.3 14.0L466.2 14.9L465.3 16.0M474.8 19.8L475.0 17.6L474.3 16.0L472.8 14.8L471.1 13.8M470.7 43.9L469.3 46.2L471.4 47.4L472.2 49.0M348.1 50.7L348.7 52.5L349.6 54.2L347.5 55.7M326.0 140.6L323.3 140.6L322.3 143.1M415.4 58.7L415.2 58.9M435.3 81.3L436.8 80.2L438.9 80.6L440.3 79.3M363.0 110.7L363.8 109.1L365.1 107.7L366.0 106.1L366.1 104.1M334.2 38.2L331.7 38.1L330.6 39.8L329.9 41.8M408.5 76.7L410.7 77.8L411.0 79.4L410.5 81.4L410.5 83.1M394.2 13.8L395.9 15.5L395.2 17.8L395.7 19.8M318.4 183.5L318.2 183.8M360.8 84.2L361.2 83.4M466.6 141.9L465.1 142.8L463.6 143.7L462.0 143.8L460.2 143.1M436.4 120.4L436.3 121.4L435.9 122.3M449.2 101.5L446.9 101.4L444.7 101.4L443.6 98.8M440.8 100.5L440.5 102.3L440.4 104.0M417.1 46.6L416.9 48.5L417.1 50.5M351.8 165.3L351.3 163.2L349.7 162.5L348.0 161.6M454.7 76.0L454.6 75.0L454.1 74.2M384.6 40.6L383.9 42.4L384.5 44.0L385.6 45.5M406.2 49.5L406.7 47.7L407.8 46.1L408.6 44.5M376.4 109.7L376.9 110.5L377.3 111.4M327.9 128.8L326.4 127.2L324.3 127.0L322.3 126.7M351.2 121.4L350.9 122.0M396.4 168.4L396.1 166.2L396.4 164.2L398.7 163.1M370.8 21.1L369.2 20.3L367.6 19.5L365.9 19.0M399.3 183.2L396.6 182.2L396.6 179.4M366.9 14.0L368.3 16.0L367.2 17.5L365.9 19.0M382.6 31.6L382.1 33.2L381.0 34.6L379.6 35.8L379.2 37.4L379.9 39.4M361.5 37.5L362.3 36.6M333.3 178.2L333.2 178.3M340.8 183.1L341.4 182.2L340.6 181.5M485.8 79.6L487.3 79.8M356.6 118.3L358.2 117.0L359.6 115.6L361.4 114.7L363.6 114.7M325.6 15.0L325.4 16.9L325.2 18.8M465.6 108.2L464.8 106.0L462.3 106.3L461.1 104.8M454.5 166.1L454.3 163.8L454.9 161.5M386.1 112.2L385.8 111.1M470.0 63.1L470.1 64.3L469.7 65.4M381.1 25.0L379.1 24.4L377.8 22.8M466.8 136.9L465.2 137.7L463.5 137.6L461.9 136.9M491.9 26.4L492.1 26.1M430.4 96.5L432.1 95.9L433.8 95.5L434.9 93.9M403.5 130.9L402.3 129.3L402.9 126.8L400.7 125.9M434.1 13.8L433.9 14.6M473.9 122.2L473.9 122.1M450.6 31.7L452.5 32.1L453.7 33.4L454.2 35.4L455.4 36.8L457.3 37.2M409.9 127.2L408.8 128.4L408.2 130.1L406.6 130.9M319.7 85.6L317.7 84.3L315.7 85.8M393.4 113.8L394.2 111.9L394.7 109.9M351.6 146.1L353.0 147.9L353.5 150.1M477.0 99.2L478.9 98.8L480.6 97.9L482.2 96.7M386.0 21.5L385.8 20.6L386.2 19.7M380.0 47.5L378.7 46.8M454.1 122.8L456.3 122.9L457.2 121.4L457.9 119.7M320.8 13.9L322.2 14.9L323.7 15.7L325.6 15.0M427.2 59.6L427.4 57.9L428.9 56.8M318.8 147.0L317.8 148.8L317.0 150.5L317.2 152.4L318.4 154.2M344.0 84.6L342.2 83.9L341.7 81.9L341.1 80.1L339.0 79.8M317.0 96.5L317.1 95.7M448.9 18.4L449.3 17.3L449.2 16.3M482.5 121.3L482.5 121.5M339.3 73.8L340.3 74.9M340.3 74.9L342.3 75.1L344.3 75.5M393.9 23.0L394.5 22.1L394.4 20.9M350.9 71.0L352.8 72.0L355.1 71.6L356.9 72.8M413.5 67.0L413.2 68.6L412.7 70.1M489.9 147.7L490.4 146.7L489.8 145.9M431.8 125.9L430.9 127.9L431.6 129.4L433.0 130.8M475.0 84.1L475.1 84.5M477.9 80.5L476.8 81.9L475.3 82.8M430.5 88.7L429.7 86.9L430.5 85.1" stroke="#6ad5c8"/><path d="M447.8 32.4L449.3 32.5L450.6 31.7M388.5 156.3L388.5 155.0L388.3 153.8M377.9 150.2L377.2 152.1L376.3 153.7L374.9 154.8L373.0 155.4M425.9 133.9L426.8 135.8L426.9 137.8L426.6 139.8L426.3 141.8M421.6 146.2L423.4 148.0L422.6 150.4M431.1 153.8L433.5 152.7L433.4 150.0M409.9 117.6L410.8 115.4L412.9 114.3M423.1 168.3L422.5 170.5L424.3 171.9L424.7 173.8M456.7 43.8L454.6 43.7L452.9 44.2L451.6 45.5L450.5 47.3M450.7 54.1L452.5 53.7L454.3 52.8L456.0 52.9L457.6 54.7M461.8 96.6L461.5 94.2L462.6 92.1M347.9 37.0L348.6 38.5L348.5 40.1L348.7 41.8M393.0 173.8L394.6 174.8L395.7 176.2L396.9 177.5M381.4 15.7L382.2 14.8L382.9 13.8M375.1 13.8L375.4 14.2M405.2 165.7L407.4 165.0L409.8 164.6M440.6 39.9L440.2 38.4L441.0 37.1M473.5 133.1L475.2 133.2L476.7 132.9L478.2 132.1M318.3 26.5L317.0 26.7L315.7 27.1M469.2 72.2L470.5 73.5L471.8 75.1M334.0 178.1L336.3 177.8L337.5 179.5L338.7 181.3L340.6 181.5M350.9 71.0L350.8 70.9M372.2 62.1L374.1 61.9L375.6 61.2L377.0 60.1L378.4 59.1M482.9 89.3L484.6 90.4L487.1 90.4L487.8 92.9M492.6 97.6L491.3 98.9L489.5 99.2M411.6 174.6L411.9 174.3M454.4 110.0L452.8 108.4L450.3 109.2L448.7 107.7M381.6 172.7L382.0 174.3L382.3 175.9L383.0 177.4M409.1 183.8L410.9 182.9L412.5 181.8M361.5 150.8L361.1 149.7L360.1 149.2M353.5 150.1L353.4 151.0L352.8 151.7M350.6 14.8L348.3 16.5L346.0 15.0M353.5 19.9L353.5 19.8M422.0 99.2L423.0 99.9L424.0 99.4M364.1 182.8L365.3 182.7L366.0 183.8M396.5 117.0L396.6 119.7L394.7 120.5L392.7 121.3M454.5 150.1L453.1 150.5L451.6 150.4M479.8 147.5L478.9 149.1L476.5 148.9L475.8 150.7M476.5 19.6L477.6 21.3L479.4 22.0M318.0 17.7L318.2 14.9L320.8 13.9M339.0 127.0L337.6 128.2L335.8 129.2L336.9 131.6M346.6 129.6L344.9 128.0L343.4 126.1M467.4 126.3L466.7 125.8L466.4 125.1M465.3 16.0L466.1 17.7L466.7 19.4L466.1 21.2M462.6 148.9L460.1 149.4L460.1 152.1L458.6 153.6M339.0 127.0L338.3 125.1L336.6 124.1M372.9 85.6L371.3 86.9L369.5 88.1L368.1 89.7M475.5 59.0L475.6 59.3M363.3 157.2L365.2 158.2L364.5 160.5L365.8 161.8M377.4 135.6L378.4 137.0L378.8 138.7L379.0 140.4M366.1 104.1L365.8 102.8L364.9 101.9M335.4 46.6L337.4 45.6L337.9 43.4M414.3 132.9L412.2 132.3L410.8 133.1L409.7 134.6L408.5 135.7M478.2 77.5L479.3 79.1L477.9 80.5M477.9 80.5L479.5 81.0L481.7 79.9L482.9 82.1M485.8 79.6L485.1 77.7L484.5 75.9L483.1 74.4M482.5 36.1L484.5 35.3L486.5 34.5M414.4 91.2L416.4 90.8L417.7 92.6L419.4 92.9M467.2 96.6L468.3 98.7L469.5 100.8M487.7 176.5L487.9 178.4L488.1 180.4M344.5 101.5L345.5 102.9L346.8 104.0L347.8 105.3M393.2 131.8L393.0 131.6M451.4 132.2L450.2 133.6L448.8 134.4L447.1 134.7L445.4 135.0M454.1 74.2L451.8 75.6L450.1 74.7L448.4 73.0L446.4 72.9M466.0 112.0L466.7 114.1L466.8 116.6L469.7 117.1M430.9 114.3L432.1 115.4L432.7 117.1L433.1 118.9L434.3 120.0L436.4 120.4M435.4 18.8L434.8 19.5L434.3 20.4M350.9 122.0L349.5 123.9L351.4 125.4M363.5 21.5L363.7 20.3M486.9 125.1L485.6 123.7L484.2 122.4L482.5 121.5M479.7 181.3L479.2 181.5M370.8 25.4L373.0 24.6L374.1 26.8M475.3 82.8L474.7 81.1L474.3 79.1L473.3 77.8L470.9 77.6M394.1 160.1L393.6 161.7L392.4 162.9M449.5 62.5L450.4 62.0L450.7 61.0M402.0 26.2L402.4 26.6M331.9 164.4L331.0 165.4M373.4 19.8L374.7 18.2L375.6 16.4L375.4 14.2M318.7 72.6L319.7 71.0L321.2 70.2L322.9 69.7M395.9 132.3L397.1 130.9L397.7 129.3L398.4 127.6L399.5 126.2M393.4 113.8L391.9 114.4L390.3 114.8M389.5 118.2L391.1 119.8L392.7 121.3M491.8 74.4L490.9 74.0L490.6 73.0M490.6 73.0L488.7 72.0L487.0 73.0L485.2 74.2L483.4 73.4M439.8 150.8L438.5 148.5L436.8 148.8L435.1 150.1L433.4 150.0M336.5 170.3L337.6 171.5L337.6 173.0M434.9 104.8L433.9 106.4L432.7 107.9L433.1 110.0M363.6 114.7L363.4 113.2L363.7 111.7M323.2 36.9L324.4 35.1L326.3 35.9M437.0 175.7L436.0 176.4L434.8 175.8M335.4 46.6L334.4 48.9L336.0 50.9M341.2 52.8L342.1 50.7L343.5 49.3L345.9 49.1M330.3 90.2L329.2 89.1L327.7 88.9M371.1 138.8L372.9 137.2L374.0 135.1M490.1 65.2L491.2 64.8L492.2 64.2M476.6 67.1L477.8 66.0L478.6 64.5M439.4 170.1L438.4 171.8L436.5 173.2L437.0 175.7M379.1 128.1L378.6 129.0M378.6 129.0L380.0 130.7L379.8 132.9M484.3 21.9L484.5 23.8L484.5 25.7L484.8 27.6M466.8 129.8L468.9 131.6L468.4 133.3L466.9 135.1L466.8 136.9M378.7 46.8L377.7 45.0L378.8 43.3L379.8 41.6L378.9 39.8M355.8 130.8L355.6 132.9L354.5 134.3L352.3 134.5M381.3 172.6L380.9 171.0L380.3 169.5M470.6 55.5L471.7 57.5L472.8 59.3L475.5 59.0M450.1 127.3L452.0 126.0L454.1 124.8M447.5 118.6L447.0 119.9L445.6 120.4M482.9 88.3L481.3 87.5L479.4 87.6L477.3 87.9L475.8 87.0L475.1 84.5M346.8 144.8L346.0 145.2M462.6 117.3L461.5 119.1L459.7 119.9M366.3 97.2L365.4 98.6L365.8 100.4L364.9 101.9M320.4 161.9L320.1 160.2L321.6 158.8L322.6 157.3L321.4 155.5M446.4 145.6L446.9 145.4M415.4 98.2L414.7 95.7L412.2 95.0M465.6 108.2L466.3 106.8L467.9 105.9L469.2 104.8L469.1 102.8M491.3 120.0L492.0 121.0L491.1 121.9M407.2 57.9L409.6 57.4L410.6 59.7M466.1 21.2L465.1 22.1L464.2 23.1M404.5 62.7L404.6 64.3L405.5 65.8M366.9 79.6L364.8 79.6L363.5 80.7L362.5 82.3L361.2 83.4M338.9 71.2L340.2 72.3L339.3 73.8M358.2 44.1L359.3 45.9L360.2 47.8M393.6 98.3L393.5 98.7M428.2 24.7L429.4 26.1L431.0 26.8L432.9 26.5M329.9 41.8L330.7 39.3L329.5 38.1L327.5 37.2L326.3 35.9M321.9 39.3L321.5 41.2L322.2 42.6L323.7 43.7M448.8 40.0L449.0 40.2M399.9 116.8L401.1 116.3L401.2 115.1M341.6 137.4L342.2 136.5M396.9 177.5L397.3 178.6L396.6 179.4" stroke="#77dab8"/><path d="M424.2 41.5L424.0 43.4L424.3 45.3M458.9 86.6L458.5 85.3L457.9 84.2M386.0 163.0L385.2 160.8L386.3 159.3L388.0 158.0L388.5 156.3M433.0 130.8L431.1 131.7L428.8 131.6L427.0 132.9M422.6 150.4L420.2 150.3L418.7 151.4L418.0 153.6M460.2 46.2L458.9 44.3L456.7 43.8M422.1 182.4L421.9 183.8M350.9 34.6L349.1 35.3L347.9 37.0M396.9 177.5L398.3 176.3L400.0 176.0L401.7 175.8L403.2 174.9M428.4 105.5L429.4 103.9L429.6 101.5L432.3 101.9M332.7 109.4L332.8 107.6L332.2 105.7L332.8 103.9M369.7 40.8L370.5 38.6L372.3 38.6L374.3 39.1L375.7 38.1M437.5 32.7L436.0 33.7L434.3 33.5M393.6 56.2L394.1 54.6L394.5 52.9L395.4 51.6L397.2 50.8M492.6 44.1L490.9 43.2L489.0 43.7M330.5 159.4L331.1 161.0L329.9 163.2L331.9 164.4M390.0 48.1L389.9 48.0M395.6 103.3L394.5 105.3L393.3 107.1M365.7 143.1L367.1 144.8L369.6 145.7L368.9 148.5M371.1 138.8L370.2 139.1L369.3 139.0M476.6 67.1L474.4 68.5L472.5 66.9L470.5 66.5M380.6 103.1L379.8 101.2L378.6 99.5M448.6 45.5L447.0 46.9L445.0 45.4L443.3 46.0M487.7 116.9L487.9 116.9M378.4 59.1L378.9 58.3M378.9 58.3L378.8 56.5L377.5 55.3M327.7 88.9L326.9 87.4L327.8 85.6L328.4 83.9L327.0 82.4M424.0 89.7L422.8 89.8M372.6 181.4L371.6 180.0L369.8 179.4L368.3 178.6L367.8 176.8M356.5 58.4L357.7 57.0L359.2 56.0L360.8 55.6L362.7 55.7M323.8 115.8L324.9 114.0L325.0 112.3L323.4 110.8M346.7 131.2L346.6 130.4L346.6 129.6M327.3 118.5L327.0 120.2L326.8 121.9M421.5 29.2L423.6 28.5L424.9 30.0L426.4 30.8M424.1 22.3L423.0 24.3L420.9 25.4M473.9 163.9L472.0 164.1L470.0 162.8L468.2 164.4M382.1 58.2L383.3 56.1L384.9 54.3M326.4 73.9L325.2 74.8L325.1 76.3M327.0 82.4L329.1 82.7L331.0 82.3L332.8 81.5M332.8 81.5L333.8 80.4M324.8 148.1L327.1 147.0L329.6 147.5M332.8 28.5L331.3 30.0L329.9 31.6L330.7 34.0M334.2 38.2L334.9 38.3M385.2 136.7L384.8 135.2L384.0 134.0M455.8 40.2L454.1 41.6L452.4 41.8L450.7 41.0L449.0 40.2M331.1 183.8L331.1 183.8M395.7 19.8L397.6 19.5L399.4 19.9L401.2 20.3M444.5 94.7L446.2 92.6L448.8 92.9M475.0 98.3L475.2 96.6L475.2 94.9L474.9 93.3L474.2 91.7M488.1 180.4L490.1 179.8L491.0 182.0L492.6 182.3M353.8 102.5L353.8 100.5L352.2 98.7L351.4 96.8L353.1 94.8M347.0 96.0L346.2 97.7L344.9 99.1L344.4 101.0M435.9 122.3L437.2 123.7L438.8 124.9L439.6 126.6L438.9 128.9M390.5 136.1L390.5 134.1L392.9 133.6L393.2 131.8M448.1 106.4L447.1 104.4L447.5 102.8L449.2 101.5M414.5 26.7L416.4 26.0L417.0 24.1M422.0 52.9L423.7 51.9L425.1 50.3L427.1 49.7M401.5 68.1L400.3 70.2L400.8 72.6M466.4 110.9L466.0 112.0M438.9 119.2L437.7 116.7L439.0 115.2L441.1 114.0L442.0 112.4M385.6 45.5L387.3 46.2L388.5 47.8M343.4 67.6L344.8 69.6L347.0 70.7M344.6 35.2L343.2 35.9L341.8 36.7M374.1 26.8L375.1 25.2L376.6 24.1L377.8 22.8M373.4 19.8L372.4 21.0L370.8 21.1M457.8 128.4L455.1 129.3L455.5 131.8L455.2 133.9M415.2 165.5L415.9 163.6L417.8 162.7M399.0 183.8L399.3 183.2M379.9 39.4L381.7 38.9L383.0 40.1L384.6 40.6M430.0 63.1L428.4 64.1L427.5 65.4L427.7 67.4M352.9 42.2L353.1 43.5L354.3 43.8M354.3 43.8L356.2 43.9L358.2 44.1M361.5 37.5L359.9 37.2L358.2 37.0L356.6 36.9L354.9 36.8M395.6 31.8L393.8 30.4L391.7 31.1L389.7 30.8M381.2 183.8L379.9 182.6L379.5 180.7M452.5 13.8L452.5 14.4M315.8 47.7L316.0 50.4L317.6 51.3L319.8 51.6L321.4 52.5M333.2 178.3L332.5 180.1L332.2 182.1L331.1 183.8M487.3 79.8L489.0 78.5L491.8 78.3L491.8 75.3M318.9 179.6L319.5 178.3L320.9 177.8M320.9 177.8L318.9 176.8L317.9 175.3L317.8 173.4L317.8 171.4M326.3 35.9L327.2 35.4L327.4 34.4M385.1 97.0L382.8 96.7L381.1 95.1M323.4 90.8L323.2 91.5M492.6 89.0L492.2 88.9M492.0 56.6L490.5 56.5L489.1 56.9M325.4 178.5L324.6 177.9L324.0 177.3M478.6 64.5L479.1 63.2L478.5 62.0M331.9 170.6L331.4 171.3L330.9 172.1M438.6 99.0L436.7 100.4L434.5 99.7L432.5 99.9M490.1 65.2L489.7 67.2L488.8 69.2L488.8 71.1L490.6 73.0M430.5 88.7L428.9 89.9L427.3 91.3M490.8 139.7L489.1 139.6L487.0 138.3L485.7 140.7M378.9 39.8L377.0 39.4L375.7 38.1M369.7 40.8L369.1 42.0L369.0 43.3M410.1 43.9L409.3 43.9L408.6 44.5M424.2 110.6L425.0 112.8L427.1 113.0L429.2 112.9L430.6 114.3M360.0 77.4L361.9 77.1L363.5 76.5L364.5 74.8M364.1 182.8L363.5 183.4L362.8 183.8M470.6 55.5L469.5 53.6L470.2 51.6M467.3 58.8L467.8 56.0L470.6 55.5M373.8 53.3L372.7 51.4L373.3 49.3M325.9 172.7L327.8 174.7L329.3 172.8L330.9 172.1M323.0 168.3L324.6 169.4L324.4 171.6L325.9 172.7M418.2 169.8L418.5 167.5L417.1 166.3L415.2 165.5M359.9 29.8L359.5 27.6L359.1 25.5M464.2 23.1L462.3 22.6L460.3 22.7M492.6 76.4L491.8 75.3M420.9 25.4L418.9 24.8L417.0 24.1M332.8 81.5L333.0 83.1L333.0 84.8L333.4 86.4L334.4 87.8M472.0 137.6L472.6 139.1L473.8 140.4M445.4 174.0L447.1 174.2L448.7 174.6M394.4 20.9L391.9 21.4L390.8 19.0L388.9 18.2M432.9 26.5L434.1 26.2L435.0 25.4M332.8 137.0L333.7 135.5L335.2 134.2L334.4 132.1M445.9 62.6L443.6 63.0L443.8 65.4M431.8 30.8L431.2 28.4L432.9 26.5M454.7 76.0L456.4 76.0L457.5 78.0L459.4 77.3M359.0 163.5L358.2 161.3L358.4 159.3L360.3 157.7M395.7 19.8L395.0 20.3L394.4 20.9M424.6 117.7L426.8 118.1L428.3 117.2L429.3 115.5L430.6 114.3" stroke="#8ddca5"/><path d="M378.0 79.8L380.0 79.3L382.0 79.0L384.0 79.1L386.0 79.6M394.8 87.8L396.8 87.4L398.2 85.8L400.3 85.7M329.9 26.0L330.5 24.1L329.8 22.3M431.1 153.8L429.1 153.6L426.8 153.9L425.0 153.2L423.8 150.9M433.4 150.0L431.8 147.7L433.3 145.3M430.9 166.8L428.9 166.7L428.5 164.8M461.3 97.1L461.8 96.6M353.9 90.9L354.0 92.2M426.0 180.3L423.7 180.6L422.1 182.4M359.0 163.5L358.0 164.1M401.6 162.1L402.6 163.5L402.9 165.5L405.2 165.7M325.1 76.3L323.3 76.7L321.5 77.6L319.9 75.9M374.8 32.4L373.0 32.6L371.2 31.5L369.4 32.3M460.5 79.7L462.2 79.7L464.0 78.7L465.5 80.3M487.9 116.9L489.6 118.4L491.3 120.0M386.0 21.5L384.3 22.6L382.4 23.3L381.1 25.0M485.9 48.0L486.6 49.5L487.8 50.6M439.5 59.7L437.8 59.8L436.2 59.8L434.6 59.5M436.0 68.4L437.6 67.5L440.1 67.6L440.0 64.8M348.8 171.5L346.6 170.1L344.3 171.2M420.7 75.4L421.0 73.6L419.3 72.9M373.1 102.2L374.8 103.0L377.2 102.8L377.0 105.7M373.8 53.3L373.0 55.2L371.1 55.7M403.5 174.3L405.1 176.1L406.7 176.2L408.3 175.1L410.0 174.3L411.6 174.6M455.0 113.9L455.3 113.1M353.5 19.8L351.7 18.6L350.0 17.3L350.6 14.8M346.9 22.2L348.9 22.6L350.7 22.6L352.3 21.7L353.5 19.9M454.5 160.6L455.1 159.1L455.2 157.2L455.3 155.4L456.4 154.2L458.6 153.6M469.1 102.8L470.6 104.0L471.3 105.8L472.1 107.5L473.9 108.4M487.0 19.4L486.2 17.6L485.8 15.5L484.6 13.9M484.6 13.9L483.4 14.2L482.2 13.8M342.2 136.5L342.3 136.5M470.9 13.8L469.1 13.3L467.3 14.0M346.0 15.0L345.6 13.8M381.5 51.0L380.6 52.8L378.0 53.1L377.5 55.3M330.5 127.8L330.5 130.4L332.3 131.4L334.4 132.1M350.3 59.2L352.6 59.3L354.2 57.6M415.2 66.0L416.7 66.8L418.3 67.0M482.7 59.3L482.3 57.3L482.6 55.3M384.0 134.0L382.0 133.1L379.8 132.9M376.6 87.5L378.2 88.0L379.4 89.3L381.2 89.3M486.5 34.5L486.3 32.5L487.5 30.3L485.8 28.4M478.3 33.9L480.2 35.3L482.5 36.1M474.2 91.7L473.8 91.4M349.6 179.2L348.7 181.5L349.2 183.8M353.1 94.7L351.2 95.6L348.9 94.7L347.0 96.0M460.0 143.2L460.3 145.4L461.0 147.3L462.6 148.9M372.6 181.4L373.7 179.8L375.6 179.7M444.0 129.5L445.6 128.2L446.8 126.6M386.4 128.6L385.0 130.1L383.4 131.6L384.0 134.0M427.2 79.9L426.4 81.1L426.1 82.4M405.5 65.8L403.3 66.7L401.5 68.1M473.9 108.4L471.6 107.8L469.8 108.7L468.2 110.2L466.4 110.9M413.0 124.0L411.6 125.8L409.9 127.2M409.9 127.2L410.3 129.2L412.2 130.0L414.0 130.8L414.3 132.9M461.8 96.6L463.6 95.7L465.4 96.5L467.2 96.6M350.8 70.9L351.4 69.2L352.9 68.0L353.2 66.2M439.1 143.2L440.1 145.0L439.3 147.0L438.5 149.0L439.8 150.8M443.3 152.0L442.3 149.5L443.6 148.2L445.6 147.2L446.4 145.6M362.2 124.2L361.3 122.8L360.4 121.4L359.4 120.1L358.2 119.1L356.6 118.3M402.1 30.8L401.2 33.0L399.4 33.8L397.1 33.6M479.2 181.5L478.2 182.5L477.7 183.8M377.8 22.7L376.4 21.6L375.4 19.9L373.4 19.8M475.0 84.1L475.3 82.8M395.1 159.8L394.1 160.1M391.9 181.3L392.2 182.5L391.9 183.8M334.0 178.1L333.3 178.2M466.4 85.6L466.5 85.5M491.8 75.3L491.8 74.4M402.1 90.7L401.3 89.1L402.0 86.9L400.3 85.7M417.1 50.5L416.1 52.3L414.5 53.5M441.2 13.8L441.9 14.7M331.1 151.9L330.7 151.0L331.3 150.1M363.7 111.7L363.0 110.7M356.6 109.9L356.1 110.7L355.2 111.2M486.8 96.3L484.9 97.7L482.7 97.0M385.8 126.8L386.6 127.5L386.4 128.6M440.2 178.1L438.8 176.6L437.0 175.7M337.4 155.7L338.2 154.0L340.4 152.9L339.2 150.5M342.4 42.4L340.4 43.7L337.9 43.4M336.0 102.3L333.9 102.2L332.8 103.9M492.6 28.3L492.2 27.4L491.9 26.4M356.8 66.0L358.6 67.2L359.5 68.8L358.7 71.0M486.9 61.0L487.3 63.1L488.7 64.7M466.6 141.9L468.3 139.8L467.2 137.3M492.6 64.3L492.2 64.2M453.7 183.8L452.5 183.1L451.1 183.3M441.0 18.4L441.9 16.7L441.9 14.7M315.4 48.9L315.8 47.8M448.8 40.0L448.6 38.1L446.9 36.4L446.1 34.5L447.8 32.4M439.5 50.2L438.5 51.6L437.8 53.1M361.2 134.7L360.5 132.8L359.3 131.6L357.7 131.1L355.8 130.8M325.9 172.7L325.7 174.4L325.5 176.2L324.0 177.3M364.9 44.4L366.7 43.0L369.0 43.3M389.3 107.0L387.7 108.0L386.2 109.1L385.8 111.1M354.8 140.2L355.0 142.2L354.6 144.0L353.5 145.2L351.6 146.1M425.5 75.7L423.9 76.0L422.3 75.9L420.7 75.4M362.8 95.0L365.3 95.0L366.3 97.2M472.2 49.0L470.5 49.8L470.2 51.6M369.7 104.9L372.3 104.7L373.1 102.2M411.5 106.6L412.5 105.3L414.7 105.5L415.4 103.7M321.7 146.0L320.0 146.0L318.8 147.0M418.9 31.3L420.5 30.7L421.5 29.2M390.1 14.5L391.8 14.7L393.2 13.8M476.3 113.4L477.2 113.9M356.0 174.2L355.4 172.2L354.9 170.2M417.8 120.0L417.5 118.2L418.1 116.4M360.2 47.8L361.8 46.7L363.8 47.1M477.6 140.6L478.4 140.2L478.9 139.4M413.5 91.6L414.4 91.2M472.3 27.6L474.4 28.1L476.6 28.3L478.6 27.3M415.2 66.0L414.4 66.5L413.5 67.0M425.3 68.3L426.3 67.5L427.7 67.4M354.9 170.2L355.9 168.4L357.9 168.5M374.0 135.1L375.6 135.8L377.4 135.6M418.8 103.8L419.8 102.2L420.2 100.2L422.0 99.2M431.8 125.9L429.7 126.2L427.4 126.3" stroke="#a9dc8e"/><path d="M386.0 79.6L386.0 79.6M400.0 73.4L397.6 73.7L395.6 72.2M325.2 18.8L323.2 18.6L321.8 20.7L319.7 20.3M436.2 47.3L437.5 45.9L438.6 44.4L438.7 42.8L437.9 40.8M453.9 21.4L451.5 21.6L450.7 19.1L448.9 18.4M448.9 18.4L447.7 20.4L445.1 19.8L443.6 21.2M385.9 163.1L386.0 163.0M427.0 132.9L425.9 133.9M424.7 173.8L425.6 174.1L426.2 174.9M364.2 169.1L365.4 169.9L366.8 170.1M365.4 65.2L366.9 64.6L368.2 63.3L369.7 62.5L371.7 63.4M429.9 181.9L427.9 181.2L426.0 180.3M424.1 22.3L425.7 22.9L427.3 22.5M429.1 20.4L429.1 18.0L429.4 15.7M425.8 105.5L427.1 105.2L428.4 105.5M428.9 95.7L427.2 97.0L425.8 98.5L424.0 99.4M380.1 16.0L381.4 15.7M330.3 101.9L328.2 100.5L326.1 101.9M326.1 101.9L325.6 104.2L322.9 104.8L322.2 106.9M378.1 111.5L377.3 111.4M321.7 82.7L323.7 81.3L326.0 81.7M466.4 78.9L466.7 76.8L465.6 75.1L464.6 73.4M390.0 48.1L389.9 50.0L388.4 51.9L387.9 53.8L390.0 55.7M434.6 59.5L432.7 60.0L432.4 62.0L431.2 63.1M431.2 63.1L431.8 65.0L433.8 65.6L435.7 66.3L436.0 68.4M337.4 155.7L335.8 156.5L334.2 156.0M483.9 166.1L482.2 167.4L482.1 169.4L482.2 171.4L481.2 173.0M416.2 30.8L415.5 32.5L414.2 33.6L412.5 34.3M384.0 52.1L383.9 53.4L384.9 54.3M368.9 148.5L370.3 146.5L373.0 147.3L374.8 146.0M487.3 132.1L489.6 131.7L491.5 133.1M492.6 123.2L491.8 122.7L491.1 121.9M420.7 127.1L419.6 126.9L419.0 127.8M457.9 96.8L456.1 97.6L455.1 99.3L454.0 100.8M454.0 100.8L453.3 103.5L455.8 104.3L457.1 105.8M350.7 77.0L349.1 74.9L350.5 73.0L350.9 71.0M412.1 166.0L411.2 164.8L409.8 164.6M387.5 169.6L388.9 171.2L390.5 172.4L392.8 171.4M360.1 149.2L358.5 149.6L356.7 148.5L355.0 148.1L353.5 150.1M352.8 151.7L353.6 153.6L354.9 155.2L355.1 157.3M371.5 183.8L372.0 182.6L372.6 181.4M477.0 99.2L476.3 98.1L475.0 98.3M469.5 100.8L469.0 102.1M322.7 110.0L320.8 109.8L319.0 110.0L317.2 110.3L315.4 110.7M456.6 176.6L455.3 178.2L454.4 179.8L454.5 181.6L455.5 183.6M336.6 124.1L337.6 122.6L337.8 120.9L338.0 119.2M329.6 147.5L329.7 149.3L331.3 150.1M458.6 153.6L459.6 155.1L460.7 156.5L462.3 157.4M337.1 13.8L336.3 15.9L336.7 18.2M354.4 50.7L353.7 49.9M347.5 55.7L349.1 57.3L350.3 59.2M369.8 95.7L371.3 95.6L372.4 96.6M321.7 146.0L323.1 147.3L324.8 148.1M339.3 28.4L339.8 28.1M369.6 162.5L369.9 160.2L371.8 159.1L373.2 157.6M332.8 137.0L330.9 138.1L329.4 137.0L328.0 135.6L326.3 135.9M432.0 72.9L433.8 74.7L433.6 76.7L432.6 78.7M319.9 104.7L321.7 105.2L322.2 106.9M408.6 76.5L408.5 76.7M418.6 137.4L418.6 136.2M492.6 32.8L491.4 34.5L489.9 36.0M485.8 45.8L484.8 43.5L483.0 42.7L480.6 42.8M469.9 144.4L469.0 146.1L469.9 147.7M483.2 111.1L482.1 112.7L480.9 114.0L479.3 114.4L477.2 113.9M373.7 173.3L372.2 174.6L370.8 176.1L368.5 175.0M344.4 101.0L342.3 100.8L341.2 98.9L340.1 97.1L337.9 97.1M464.6 73.4L467.1 73.4L469.2 72.2M470.5 66.5L469.7 65.4M326.0 136.2L324.2 135.6L322.5 134.3L320.9 136.5M440.4 104.0L440.9 104.6L441.1 105.4M341.6 166.5L343.3 167.6L344.8 168.8L344.3 171.2M348.8 171.5L350.8 170.9L351.7 169.0M432.6 78.7L431.0 80.2L429.3 80.8L427.2 79.9M397.8 139.5L396.1 140.2L393.6 139.5L392.6 142.0M392.6 142.0L392.8 144.0L394.2 145.6L395.5 147.3L395.3 149.5M400.8 72.6L402.5 71.7L404.1 71.0L405.7 71.2L407.3 72.6M389.9 48.0L390.6 46.3L390.9 44.2L392.0 42.8L394.4 42.4M356.5 118.3L355.0 119.9L352.9 120.4L351.2 121.4M385.8 126.8L386.1 126.0M386.1 126.0L385.3 124.4L385.3 122.7L385.2 121.0L384.4 119.4M353.1 94.8L354.9 95.3L356.9 95.2L358.6 95.8L359.4 98.2M353.5 19.9L354.2 21.6L354.8 23.4M354.8 23.4L357.0 24.4L359.1 25.5M359.1 25.5L359.9 23.4L362.5 23.4L363.5 21.5M388.6 142.4L386.9 143.2L385.2 144.1L384.4 146.0M454.1 74.2L454.1 71.8L455.7 69.9M405.6 33.7L404.1 31.9L402.1 30.8M470.9 77.6L468.9 79.0L466.4 78.9M439.9 27.6L439.3 29.4L438.3 31.0L437.5 32.7M328.6 53.5L326.6 54.0L324.3 52.6L322.5 54.4M333.2 59.7L330.8 59.1L330.3 57.1L330.1 54.8L328.6 53.5M403.6 156.2L401.8 154.6L401.3 152.7L401.7 150.7L402.1 148.6M382.1 58.2L383.4 59.9L385.2 61.2M324.2 48.4L324.0 46.5L323.1 44.8M366.9 14.0L366.5 13.8M331.1 73.1L331.8 70.7L333.7 69.1M450.1 127.3L448.6 126.3L446.8 126.6M432.5 157.1L434.2 155.9L435.7 154.3L437.5 153.5L440.0 154.4M440.1 109.7L441.2 107.7L441.1 105.4M465.1 183.0L465.4 183.8M489.5 99.2L488.6 97.3L486.8 96.3M408.9 84.3L407.0 85.0L405.4 84.6L404.1 83.5L402.7 82.5M381.1 95.1L380.8 95.3M362.0 143.0L363.9 143.0L365.7 143.1M358.7 71.0L360.6 72.7L362.5 71.0L364.4 71.1M488.7 64.7L490.1 65.2M324.2 48.4L326.2 48.3L328.0 49.3M338.0 119.2L339.3 118.8M478.6 64.5L479.7 66.7L482.2 66.0L483.8 67.2M483.8 67.2L485.4 66.3L487.4 66.2L488.7 64.7M340.8 183.1L341.6 183.8M430.9 166.8L432.8 167.4L434.7 168.0L436.1 165.9M440.9 40.2L442.8 39.8L444.8 39.7L446.8 39.9L448.8 40.0M384.4 119.4L386.0 118.6L387.7 118.1L389.5 118.2M323.9 165.0L323.9 165.0M424.0 89.7L424.8 88.0L426.4 86.6L427.0 84.9L425.6 82.7M343.2 150.6L343.9 148.7L344.3 146.6L346.0 145.2M445.2 135.4L444.2 137.0L442.4 137.1L440.7 137.4M405.7 99.3L405.9 101.0L407.6 102.1L408.8 103.4L407.8 105.4M465.2 30.1L464.3 28.4L464.7 26.6L465.1 24.7L464.2 23.1M448.1 106.4L448.7 107.7M426.2 34.1L427.1 35.4L427.6 37.1M455.1 183.8L455.5 183.6M316.0 40.1L317.8 38.6L319.8 38.9L321.9 39.3M400.7 140.1L402.3 139.0L402.8 137.1M347.9 139.2L347.4 141.0L347.2 142.9L346.8 144.8M408.9 84.3L409.7 83.7L410.5 83.1M344.0 84.6L344.0 84.8M406.2 66.1L408.6 67.0L410.0 64.8M341.7 142.7L341.9 140.9L341.7 139.1L341.6 137.4M328.0 49.3L328.5 50.7L329.3 52.0M353.2 66.2L355.0 66.6L356.8 66.0M462.3 157.4L460.6 158.6L461.1 160.6M355.9 130.3L355.8 130.8M433.0 56.3L431.0 56.9L428.9 56.8M449.2 16.3L450.9 15.4L452.5 14.4M397.2 50.8L398.1 50.5L399.0 50.3M435.9 122.3L433.9 122.8L432.3 123.8L431.8 125.9M388.9 18.2L388.9 16.2L390.1 14.5M440.1 59.0L439.5 59.7M374.8 32.4L375.5 31.4M434.9 93.9L436.0 94.9L437.5 94.8M391.9 181.3L390.5 180.5L389.8 179.1M341.8 36.7L341.2 35.0L339.5 35.6M359.4 98.2L359.3 99.2L359.7 100.2M344.6 35.2L344.7 33.6L345.1 32.1" stroke="#c6d978"/><path d="M424.3 45.3L425.2 46.8L424.9 49.0L427.1 49.7M372.2 62.1L372.9 60.3L372.4 58.8L371.4 57.3L371.1 55.7M362.0 91.3L362.5 90.2L363.1 89.1M358.1 84.7L357.2 86.3L355.5 87.5L354.1 88.8L353.9 90.9M315.8 47.8L315.8 47.7M403.6 156.2L402.7 156.6L402.3 157.3M369.4 32.3L367.8 33.3L366.5 34.5L366.4 36.5M487.8 50.6L489.1 51.9L490.5 52.9L492.5 51.7M334.2 156.0L331.5 155.6L331.3 157.8L330.5 159.4M388.5 47.8L386.6 48.9L385.9 51.1L384.0 52.1M320.4 161.9L318.7 162.5L317.1 160.7L315.4 161.7M374.8 146.0L374.6 144.2L375.4 142.5M440.3 50.1L440.1 52.9L441.7 53.7L444.0 53.9L445.3 55.0M483.2 111.1L484.3 112.7L484.2 115.0L484.9 116.8L487.7 116.9M490.7 84.7L489.9 84.4M387.5 169.6L385.2 168.8L384.0 170.1L383.2 172.1L381.6 172.7M354.2 57.6L355.6 57.2L356.5 58.4M343.4 126.1L341.3 127.2L339.0 127.0M466.1 21.2L468.3 20.6L469.9 21.9L471.6 22.9M338.0 119.2L337.0 117.8L335.1 117.9L333.2 117.8L332.5 115.8M469.0 155.8L471.1 157.0L473.2 157.1L475.3 155.7M339.1 150.3L339.2 148.4L338.6 146.6L338.7 144.7M468.4 172.5L469.8 173.3L471.7 173.4L472.8 175.0M369.9 153.4L368.0 154.0L367.0 156.0L365.7 157.6L363.3 157.2M435.7 69.8L433.8 69.9L432.8 71.6M381.2 89.3L382.1 86.8L384.4 87.2L386.3 86.8M415.5 143.1L415.8 141.4L417.6 140.6L419.1 139.5L418.6 137.4M326.3 183.0L325.6 183.8M357.3 30.5L356.0 29.0L353.9 29.1L352.6 27.7M344.4 101.0L344.5 101.5M477.6 140.6L475.7 141.2L473.8 140.4M375.6 179.7L375.1 178.0L375.7 176.3L375.7 174.6M438.9 119.2L437.6 119.6L436.4 120.4M409.4 149.2L409.7 149.9L410.2 150.5M319.6 139.0L320.6 140.3L321.7 141.5L322.3 143.1M417.0 24.1L418.0 22.2L416.9 20.4M401.9 148.4L402.7 146.6L404.2 144.9L402.4 142.9M476.3 113.4L473.9 112.5L473.8 110.5L474.0 108.4M433.1 110.0L432.9 110.1M443.6 21.2L443.1 19.0L441.0 18.4M383.4 103.7L382.0 103.4L380.6 103.1M318.2 128.4L317.8 130.4L317.4 132.5M408.0 117.9L408.4 120.2L407.0 121.2L405.0 121.8L404.2 123.2M345.4 43.8L347.1 42.9L348.7 41.8M342.5 114.9L340.7 115.7L338.9 116.3L339.3 118.8M344.0 124.0L345.9 124.3L347.9 124.5L349.6 123.8L350.9 122.0M489.1 56.9L488.7 55.0L486.7 54.3M403.6 18.3L405.5 19.3L407.0 21.4L409.5 19.7M370.4 126.3L370.1 123.5L372.5 123.0L374.1 121.7M374.1 121.7L373.4 119.3L370.7 119.3L369.3 117.6M390.8 56.7L391.2 58.0L390.0 58.8M399.1 61.5L399.2 60.2L398.7 58.9M339.0 165.9L338.7 165.6M431.2 63.1L430.0 63.1M331.1 151.9L329.5 152.7L327.8 153.2L326.6 154.4L326.4 156.5M440.4 104.0L438.4 103.0L436.5 103.0L434.9 104.8M364.9 122.9L363.9 124.3L362.2 124.2M492.6 164.9L491.7 164.3L490.6 164.2M373.0 130.3L372.5 128.3L370.5 128.5M364.4 71.1L365.2 69.2L367.3 67.5L365.4 65.2M329.7 42.7L327.6 42.7L325.6 43.0L323.7 43.7M383.0 177.4L380.5 177.1L380.4 179.3L379.5 180.7M489.8 145.9L491.1 144.5L492.6 143.3M354.8 140.2L357.2 139.9L359.5 140.3M323.8 115.8L325.9 116.7L327.3 118.5M361.3 41.2L363.6 42.2L364.9 44.4M427.2 79.9L424.9 78.4L425.5 75.7M415.4 103.7L415.3 101.9L414.6 100.1L415.4 98.2M424.7 173.8L422.6 174.0L420.6 174.6L418.5 174.6M431.8 30.8L430.0 30.0L428.3 29.6L426.7 31.3M439.4 170.1L438.9 168.2L437.3 167.2L436.1 165.9M414.5 26.7L415.6 28.6L416.2 30.8M393.6 98.3L396.0 98.2L397.0 96.2L398.2 94.5M412.2 83.1L412.8 84.9L414.3 86.0L415.5 87.4M363.8 47.1L363.5 45.4L364.9 44.4M418.3 67.0L418.0 68.9L417.5 70.8L419.8 71.9M351.4 125.4L349.5 126.4L347.1 127.0L346.6 129.6M366.9 79.6L365.1 78.4L365.3 76.4L364.5 74.8M441.2 161.2L439.3 161.5L437.7 162.3M460.0 143.2L459.2 143.5L458.3 143.3M423.0 123.9L424.9 122.7L425.3 121.2L424.9 119.4L424.6 117.7M483.7 86.8L483.6 84.4L482.9 82.1M487.8 92.9L486.6 94.4L486.8 96.3M482.2 96.7L482.7 97.0" stroke="#e0d46c"/><path d="M427.6 37.1L424.7 37.2L424.9 39.7L424.2 41.5M426.3 141.8L425.1 142.6L423.8 143.1M424.1 166.0L426.3 165.3L428.5 164.8M411.5 106.6L410.1 104.5L407.8 105.4M401.2 115.1L402.7 116.3L404.9 116.0L406.9 115.9L408.0 117.9M365.8 161.8L364.6 163.3L363.3 164.6M457.9 96.8L459.6 97.3L461.3 97.1M363.1 89.1L360.6 88.3L360.8 86.2L360.8 84.2M421.0 13.8L421.4 15.6L421.7 17.3L420.4 18.9M408.2 53.0L406.4 51.7L406.2 49.5M406.2 49.5L404.5 50.3L402.8 50.4L401.1 50.0L399.3 49.9M443.3 46.0L443.7 43.6L443.0 41.6L440.9 40.2M363.3 164.6L361.4 163.0L359.0 163.5M465.5 80.3L466.5 79.9L466.4 78.9M389.7 30.8L391.5 29.1L391.1 27.1L390.5 25.1M481.8 174.0L482.8 175.7L484.1 176.7L485.8 176.9L487.7 176.5M421.0 35.3L420.2 33.2L418.9 31.3M413.4 75.7L413.9 77.4L415.6 78.7L415.3 80.7M384.9 54.3L387.0 53.1L388.5 54.2L390.0 55.7M394.7 109.9L396.7 110.2L398.6 111.4L400.8 111.1M385.6 102.5L386.8 104.0L389.4 104.4L389.3 107.0M475.6 74.5L475.9 72.1L477.6 70.4M315.5 140.0L315.4 139.9M350.8 70.9L348.9 71.1L347.0 70.7M483.7 86.8L482.5 87.1L482.9 88.3M450.5 118.4L451.5 116.4L453.9 115.8L455.0 113.9M448.7 107.7L447.6 108.9L446.6 110.2L445.5 111.5L444.3 112.7M419.4 92.9L419.1 94.7L419.4 96.4M315.4 17.0L316.8 17.2L318.0 17.7M488.8 102.0L487.1 101.7L485.4 101.6L483.7 101.9M326.8 121.9L327.3 123.5L329.2 124.3L330.6 125.5L329.7 127.7M455.7 69.9L457.6 70.0L459.5 71.9L461.6 70.3M338.7 144.7L338.0 141.9L335.3 142.3L333.4 141.3M428.2 24.7L428.8 23.1L427.3 22.5M472.8 175.0L473.4 172.6L475.8 173.2L477.3 172.1M339.8 28.1L340.2 26.6L341.0 25.3M479.7 52.8L478.5 54.3L477.5 55.8L476.5 57.4L475.5 59.0M329.9 41.8L329.7 42.7M416.0 133.2L415.0 133.5L414.3 132.9M489.9 36.0L490.2 36.8M441.2 161.2L442.9 160.6L443.8 162.2M350.2 28.5L349.6 29.6L349.3 30.6M409.9 26.0L412.3 25.4L414.5 26.7M445.2 135.4L446.6 137.1L448.6 138.2L449.5 140.2M408.6 44.5L408.0 42.7L406.0 42.0L404.2 41.2L404.1 39.1M404.1 39.1L402.5 39.1L400.9 39.4M446.4 145.6L444.8 144.3L442.7 144.6L440.6 144.7L439.2 143.0M376.3 120.6L375.6 121.5M362.8 95.0L363.1 93.0L362.0 91.3M394.1 151.5L395.8 153.0L396.6 154.9L396.8 157.1M330.3 90.2L330.6 92.0L330.7 93.9L331.2 95.7M390.3 114.8L390.5 116.7L389.5 118.2M398.2 94.3L400.0 93.6L400.2 91.2L402.1 90.7M402.1 90.7L404.4 90.1L406.4 91.2M406.4 91.2L408.4 91.1L408.7 89.1M383.4 103.7L384.3 102.8L385.6 102.5M370.5 128.5L370.9 127.4L370.4 126.3M369.9 153.4L369.7 151.5L368.6 149.9M369.4 32.3L369.7 30.2L369.5 28.4L367.3 27.5M490.8 139.7L492.0 140.7L492.6 142.0M365.4 131.3L364.7 132.1L364.6 133.2M475.6 59.3L474.5 60.7L473.4 62.1L471.9 62.9L470.0 63.1M472.9 178.2L473.8 180.2L475.8 180.3L477.9 180.2L479.2 181.5M445.4 174.0L444.2 172.6L444.2 170.5L442.5 169.5M374.1 26.8L374.0 28.5L374.1 30.2L375.5 31.4M482.5 36.1L482.9 38.0L482.5 39.7L481.6 41.3L480.6 42.8M475.6 74.5L477.2 75.8L478.2 77.5M491.8 74.4L492.6 74.3M401.5 133.3L402.9 132.4L403.5 130.9M464.2 165.5L463.5 163.6L463.0 161.7L461.1 160.6M352.1 137.4L353.6 138.6L354.8 140.2M479.4 22.0L479.1 23.7L478.3 25.4L478.6 27.3M426.6 73.8L425.2 71.9L424.8 69.6M437.5 94.8L438.1 96.9L438.6 99.0M449.2 101.5L450.3 101.1L451.0 100.3M420.1 181.3L421.1 181.9L422.1 182.4M361.4 177.7L358.7 177.6L357.8 180.2M402.8 137.1L401.1 135.6L401.5 133.3M389.6 93.8L391.7 94.7L393.6 95.6L393.6 98.3M389.5 13.8L390.1 14.5M354.9 170.2L353.4 169.3L351.7 169.0M402.8 137.1L404.5 136.8L406.1 137.4L407.8 137.0M349.9 60.0L350.3 59.2M421.5 115.1L419.5 115.0L418.1 116.4" stroke="#f4d076"/><path d="M326.0 29.0L327.7 28.5L329.3 27.9L329.9 26.0M455.8 27.3L455.8 27.0M453.1 80.7L451.3 81.1L449.5 81.1L447.7 81.4L446.1 82.5M333.7 59.5L333.2 59.7M331.4 62.9L332.5 64.3L332.9 65.9L333.0 67.6L333.7 69.1M366.8 170.1L369.2 170.2L370.8 169.2L371.7 167.0M440.3 50.1L441.8 49.1L442.6 47.6L443.3 46.0M322.7 110.0L323.4 110.8M459.4 77.3L460.1 78.4L460.5 79.7M441.0 37.1L439.7 35.7L439.9 33.2L437.5 32.7M489.1 165.6L487.4 166.0L485.5 164.6L483.9 166.1M317.8 171.4L319.8 170.9L321.1 169.1L323.0 168.3M315.4 80.0L316.9 79.1L318.6 78.9M315.7 27.1L315.4 27.5M486.9 125.1L488.0 126.8L487.4 128.4L486.4 129.9L486.7 131.6M425.9 133.9L425.6 131.9L424.3 130.8L422.3 130.2L421.0 129.1L420.7 127.1M377.0 105.7L379.5 105.4L380.6 103.1M344.3 75.5L345.5 76.3L346.1 77.6M488.8 102.0L489.7 103.2L490.2 104.7M360.3 157.7L361.2 157.4L361.9 156.8M422.8 89.8L421.8 92.1L419.4 92.9M399.9 116.8L398.1 115.9L396.5 117.0M482.5 147.8L481.1 148.3L479.8 147.5M475.0 98.3L472.8 98.4L470.5 98.2L469.5 100.8M359.2 50.0L356.9 51.2L354.4 50.7M342.3 136.5L344.1 135.7L344.4 133.7L344.8 131.8L346.7 131.2M315.7 60.3L315.4 60.4M315.4 68.8L316.4 67.4L317.5 65.9L318.9 64.9M480.5 104.9L483.1 105.8L483.4 108.0L483.5 110.2M412.4 15.7L412.3 17.1M456.0 62.7L455.7 64.7L454.7 66.6L455.0 68.7M469.9 147.7L469.1 148.8L468.0 149.5M420.7 127.1L421.5 125.4L422.8 123.9M426.4 30.8L426.6 29.2L426.4 27.5L426.8 25.9L428.2 24.7M476.4 165.8L474.5 165.6L473.9 163.9M440.3 79.3L440.5 77.5L440.8 75.7L440.5 73.8M359.7 100.2L358.3 101.3L356.7 102.1L355.4 103.2M329.7 42.7L329.9 43.7L330.6 44.4M443.3 152.0L442.3 152.6L441.1 152.3M331.1 183.8L329.7 182.6L328.0 183.0L326.3 183.0M337.4 97.3L337.5 99.1L336.5 100.7L336.0 102.3M418.2 146.0L417.8 143.7L415.5 143.1M412.3 17.1L411.5 19.0L409.5 19.7M345.8 161.9L343.2 162.3L343.1 165.0L341.6 166.5M344.0 84.8L342.4 86.0L341.7 87.9L340.8 89.6M353.1 94.7L353.2 93.3L354.0 92.2M467.4 90.3L466.1 91.8L464.6 92.5L462.6 92.1M377.0 105.7L375.7 107.5L376.4 109.7M413.2 122.9L413.3 120.4L412.2 118.6L409.9 117.6M384.4 146.0L384.5 147.9L383.7 149.6M451.0 100.3L452.3 101.5L454.0 100.8M479.0 131.3L480.9 131.2L482.8 132.6L484.7 133.3L486.7 131.6M436.5 88.1L438.5 87.3L439.4 89.5L440.9 89.9M396.8 157.1L398.6 156.7L400.4 156.8L402.3 157.3M323.1 44.8L321.2 45.6L319.2 46.4L317.0 45.7M359.9 29.8L359.9 29.8M492.2 64.2L492.6 63.0M364.5 74.8L366.3 73.7L365.0 72.2M331.0 165.4L329.4 163.2L327.6 163.6L325.7 164.9L323.9 165.0M380.3 169.5L377.7 170.0L376.4 168.2L375.2 166.3M469.0 102.1L466.8 104.2L464.8 102.4L462.7 101.9M426.0 180.3L425.6 178.5L424.1 176.6L426.2 174.9M388.5 156.3L390.5 156.3L391.6 157.7L392.5 159.4L394.1 160.1M353.9 158.9L354.5 158.1L355.1 157.3" stroke="#fed678"/><path d="M329.8 22.3L329.2 19.9L327.2 19.4L325.2 18.8M425.9 133.9L425.9 133.9M416.4 157.4L416.7 159.2L417.5 160.9L417.8 162.7M432.5 157.1L432.3 155.3L431.1 153.8M403.0 107.0L401.7 109.0L400.8 111.1M360.8 84.2L359.6 85.4L358.1 84.7M430.4 96.5L429.5 96.5L428.9 95.7M315.8 47.7L316.2 46.5L317.0 45.7M322.2 106.9L322.4 108.4L322.7 110.0M490.8 111.5L490.5 113.6L489.3 115.3L487.9 116.9M382.6 31.6L384.1 32.3L385.9 32.3L387.5 32.6M323.0 168.3L323.3 166.6L323.9 165.0M375.4 142.5L374.4 140.7L372.6 139.9L371.1 138.8M470.5 66.5L468.8 68.1L468.3 69.9L469.2 72.2M490.8 91.9L491.6 90.4L492.2 88.9M416.3 13.8L414.4 14.8L412.4 15.7M459.6 60.2L457.2 60.6L456.0 62.7M420.1 181.3L420.3 179.5L420.1 177.8L419.4 176.2L418.5 174.6M330.7 34.0L330.6 36.4L332.8 37.0L334.2 38.2M379.8 132.9L378.4 134.1L377.4 135.6M487.6 154.6L486.8 154.2M481.9 164.4L482.3 166.0L483.9 166.1M440.0 154.4L441.6 155.8L442.2 157.5L441.8 159.3L441.2 161.2M392.6 142.0L392.6 142.0M469.7 117.1L470.5 117.0L471.2 117.4M487.0 19.4L488.2 20.5L489.7 19.9M402.1 148.6L401.9 148.4M315.4 104.8L315.5 104.7M341.0 90.9L339.7 92.2L338.0 93.3L337.2 94.8L337.9 97.1M375.2 113.8L373.3 114.8L371.1 114.5M362.3 36.6L364.3 35.0L366.4 36.5M368.5 175.0L369.1 172.9L367.6 171.6L366.8 170.1M363.5 63.6L361.2 65.2L358.9 63.5M470.0 63.1L469.8 61.2L469.8 59.2L467.3 58.8M417.1 46.6L416.3 45.5M373.0 130.3L374.7 129.3L376.7 129.3L378.6 129.0M372.6 167.3L372.6 169.4L374.2 171.2L373.7 173.3M434.1 54.0L435.5 52.0L437.8 53.1M352.6 27.7L354.0 26.6L354.3 25.0L354.8 23.4M353.9 158.9L351.8 159.4L349.7 159.2M347.9 154.1L349.7 153.6L351.7 153.6L352.8 151.7M345.6 153.5L346.7 154.1L347.9 154.1M424.8 69.6L423.0 70.1L421.7 71.6L419.8 71.9M319.7 20.3L318.4 19.4L318.0 17.7M478.3 33.9L477.5 34.5L476.5 34.4M371.7 167.0L372.6 167.3M478.9 139.4L480.9 140.1L483.0 139.8L485.1 140.0M471.2 29.6L471.9 28.7L472.3 27.6M415.4 98.2L417.2 96.9L419.4 96.4M434.6 59.5L433.9 57.8L433.0 56.3M432.0 72.9L430.4 74.5L428.6 74.5L426.6 73.8M340.3 74.9L339.7 76.5L340.9 78.6L339.0 79.8M424.6 117.7L424.0 115.3L421.5 115.1M423.8 143.1L423.8 140.5L422.4 139.2L420.2 138.5L418.6 137.4M415.4 103.7L417.1 103.1L418.8 103.8M453.9 21.4L456.0 21.1L456.7 19.4L457.6 17.8" stroke="#fbe370"/><path d="M320.3 28.5L322.2 29.2L324.1 28.9L326.0 29.0M463.3 37.5L464.7 38.6L465.2 40.2L465.3 41.9M407.8 105.4L406.3 106.2L404.4 106.0L403.0 107.0M399.3 49.9L399.0 50.3M464.6 73.4L463.7 73.3L463.0 72.7M418.9 31.3L417.6 30.8L416.2 30.8M315.4 35.2L317.1 33.4L319.5 33.2M491.1 121.9L489.4 122.6L487.0 122.3L486.9 125.1M386.3 100.9L385.9 101.7L385.6 102.5M450.1 168.0L448.5 169.4L447.8 171.0L448.1 172.8L448.7 174.6M449.7 176.1L451.3 176.9L453.1 177.2L454.8 177.0L456.6 176.6M337.6 173.0L336.3 174.6L334.2 175.7L334.0 178.1M457.1 105.8L459.3 106.4L461.1 104.8M489.5 99.2L489.8 100.8L488.8 102.0M458.6 153.6L458.6 153.6M461.0 124.0L459.1 125.4L457.5 127.2M326.1 101.9L325.8 99.8L324.0 98.5M458.3 143.3L456.8 142.0L454.7 141.4L454.0 139.4M441.1 152.3L441.2 153.7L440.0 154.4M418.9 86.2L417.3 87.2L415.5 87.4M468.8 91.5L467.5 93.0L468.2 95.1L467.2 96.6M410.6 143.5L410.7 145.5L411.9 147.8L409.4 149.2M349.9 85.4L348.0 84.4L346.1 84.4L344.0 84.8M407.3 72.6L408.0 71.4M379.0 140.4L377.4 141.8L375.4 142.5M446.8 69.6L444.0 69.4L444.5 67.0L443.8 65.4M355.2 111.2L355.6 112.9L357.4 114.4L358.2 116.1L356.5 118.3M365.4 131.3L367.1 130.3L368.9 129.6L370.5 128.5M361.8 125.8L363.0 127.0L362.8 129.1L363.1 130.8L365.4 131.3M361.9 156.8L363.3 157.2M340.1 108.9L338.7 107.0L339.8 104.8M491.9 26.4L490.5 27.2L489.1 28.2L487.6 28.8L485.8 28.4M472.8 175.0L473.1 176.6L472.9 178.2M442.5 169.5L440.8 169.1L439.4 170.1M489.0 43.7L489.4 42.0L491.2 40.5L492.0 38.9L490.2 36.8M331.9 110.5L332.4 112.2L332.0 114.1L332.5 115.8M369.0 43.3L369.3 45.2L371.1 46.3L371.5 48.2M492.1 26.1L492.6 26.1M402.2 99.4L404.0 99.2L405.7 99.3M369.7 104.9L368.2 103.3L366.1 104.1M341.7 142.7L340.2 143.7L338.7 144.7M379.9 39.4L378.9 39.8M457.9 119.7L457.5 118.1L457.9 116.1L457.5 114.5L455.0 113.9M380.8 95.3L379.2 94.5L377.3 94.5L375.5 94.0M410.6 59.7L412.8 58.8L415.2 58.9M472.3 27.6L471.2 25.4L471.6 22.9M414.0 182.7L414.1 183.8M384.8 65.0L384.5 63.1L385.2 61.2" stroke="#f8f06a"/><path d="M463.0 72.7L461.2 73.7L460.1 75.4L459.4 77.3M315.4 71.0L315.4 71.0M488.3 108.8L486.6 108.8L485.1 109.7L483.5 110.2M413.0 124.0L415.3 123.7L416.8 124.6L417.9 126.2L419.0 127.8M339.5 35.6L339.8 33.8L340.7 32.0L340.8 30.2L339.3 28.4M475.6 59.3L477.1 60.5L478.5 62.0M440.5 73.8L439.7 71.6L437.5 70.9L435.7 69.8M337.9 43.4L338.1 41.0L336.1 39.9L334.9 38.3M413.4 75.7L411.9 76.8L410.5 78.2L408.6 76.5M484.8 27.6L483.0 27.9L481.5 29.6L479.5 28.3M444.7 80.7L443.0 78.5L440.3 79.3M466.5 85.5L468.2 85.2L470.0 85.8L471.9 86.7L473.6 86.2L475.0 84.1M460.3 15.2L460.4 13.8M368.6 149.9L366.8 150.1L364.9 149.1L363.1 148.9L361.5 150.8M439.4 183.8L439.5 182.0L438.1 179.9L440.4 178.5M425.6 82.7L424.0 82.9L422.3 83.4L420.7 83.1L419.3 81.6M441.2 91.7L439.9 92.6L437.5 92.3L437.5 94.8M326.8 121.9L324.8 122.7L322.7 123.0" stroke="#fbfc60"/></g><rect x="315.4" y="155" width="47.6" height="28.8" fill="#fff"/></g>
<rect x="315.40" y="13.80" width="177.20" height="170.00" fill="none" stroke="#b4b4b4" stroke-width="1"/>
<text x="318.60" y="169.40" font-family="Liberation Serif" font-weight="bold" font-size="14" fill="#000" textLength="42.00" lengthAdjust="spacingAndGlyphs">30 μm</text>
<rect x="322.00" y="174.00" width="36.40" height="4.70" fill="#000"/>
<rect x="495.20" y="13.80" width="3.80" height="170.00" fill="url(#par)"/>
<text x="502.30" y="171.65" font-family="Liberation Sans" font-size="10.4" text-rendering="geometricPrecision" fill="#262626" textLength="10.5" lengthAdjust="spacingAndGlyphs">20</text>
<text x="502.30" y="153.20" font-family="Liberation Sans" font-size="10.4" text-rendering="geometricPrecision" fill="#262626" textLength="10.5" lengthAdjust="spacingAndGlyphs">25</text>
<text x="502.30" y="134.75" font-family="Liberation Sans" font-size="10.4" text-rendering="geometricPrecision" fill="#262626" textLength="10.5" lengthAdjust="spacingAndGlyphs">30</text>
<text x="502.30" y="116.30" font-family="Liberation Sans" font-size="10.4" text-rendering="geometricPrecision" fill="#262626" textLength="10.5" lengthAdjust="spacingAndGlyphs">35</text>
<text x="502.30" y="97.85" font-family="Liberation Sans" font-size="10.4" text-rendering="geometricPrecision" fill="#262626" textLength="10.5" lengthAdjust="spacingAndGlyphs">40</text>
<text x="502.30" y="79.40" font-family="Liberation Sans" font-size="10.4" text-rendering="geometricPrecision" fill="#262626" textLength="10.5" lengthAdjust="spacingAndGlyphs">45</text>
<text x="502.30" y="60.95" font-family="Liberation Sans" font-size="10.4" text-rendering="geometricPrecision" fill="#262626" textLength="10.5" lengthAdjust="spacingAndGlyphs">50</text>
<text x="502.30" y="42.50" font-family="Liberation Sans" font-size="10.4" text-rendering="geometricPrecision" fill="#262626" textLength="10.5" lengthAdjust="spacingAndGlyphs">55</text>
<text x="502.30" y="24.05" font-family="Liberation Sans" font-size="10.4" text-rendering="geometricPrecision" fill="#262626" textLength="10.5" lengthAdjust="spacingAndGlyphs">60</text>
<text transform="translate(531.00,163.20) rotate(-90)" font-family="Liberation Serif" font-size="14" fill="#1a1a1a" stroke="#1a1a1a" stroke-width="0.12" textLength="137.80" lengthAdjust="spacingAndGlyphs">Misorientation Angle (°)</text>
<rect x="358.00" y="310.20" width="10.70" height="30.60" fill="#0072be"/>
<rect x="371.37" y="279.00" width="10.70" height="61.80" fill="#0072be"/>
<rect x="384.74" y="270.20" width="10.70" height="70.60" fill="#0072be"/>
<rect x="398.11" y="259.00" width="10.70" height="81.80" fill="#0072be"/>
<rect x="411.48" y="248.50" width="10.70" height="92.30" fill="#0072be"/>
<rect x="424.85" y="241.80" width="10.70" height="99.00" fill="#0072be"/>
<rect x="438.22" y="232.10" width="10.70" height="108.70" fill="#0072be"/>
<rect x="451.59" y="245.60" width="10.70" height="95.20" fill="#0072be"/>
<rect x="464.96" y="268.30" width="10.70" height="72.50" fill="#0072be"/>
<rect x="478.33" y="293.40" width="10.70" height="47.40" fill="#0072be"/>
<rect x="491.70" y="328.80" width="10.70" height="12.00" fill="#0072be"/>
<rect x="316.40" y="202.60" width="186.80" height="138.20" fill="none" stroke="#bdbdbd" stroke-width="1"/>
<path d="M316.40 340.80h1.8M503.20 340.80h-1.8" stroke="#808080" stroke-width="0.5"/>
<text x="312.40" y="344.40" text-anchor="end" font-family="Liberation Sans" font-size="10.1" text-rendering="geometricPrecision" fill="#262626" textLength="5.2" lengthAdjust="spacingAndGlyphs">0</text>
<path d="M316.40 325.44h1.8M503.20 325.44h-1.8" stroke="#808080" stroke-width="0.5"/>
<text x="312.40" y="329.04" text-anchor="end" font-family="Liberation Sans" font-size="10.1" text-rendering="geometricPrecision" fill="#262626" textLength="5.2" lengthAdjust="spacingAndGlyphs">2</text>
<path d="M316.40 310.09h1.8M503.20 310.09h-1.8" stroke="#808080" stroke-width="0.5"/>
<text x="312.40" y="313.69" text-anchor="end" font-family="Liberation Sans" font-size="10.1" text-rendering="geometricPrecision" fill="#262626" textLength="5.2" lengthAdjust="spacingAndGlyphs">4</text>
<path d="M316.40 294.73h1.8M503.20 294.73h-1.8" stroke="#808080" stroke-width="0.5"/>
<text x="312.40" y="298.33" text-anchor="end" font-family="Liberation Sans" font-size="10.1" text-rendering="geometricPrecision" fill="#262626" textLength="5.2" lengthAdjust="spacingAndGlyphs">6</text>
<path d="M316.40 279.38h1.8M503.20 279.38h-1.8" stroke="#808080" stroke-width="0.5"/>
<text x="312.40" y="282.98" text-anchor="end" font-family="Liberation Sans" font-size="10.1" text-rendering="geometricPrecision" fill="#262626" textLength="5.2" lengthAdjust="spacingAndGlyphs">8</text>
<path d="M316.40 264.02h1.8M503.20 264.02h-1.8" stroke="#808080" stroke-width="0.5"/>
<text x="312.40" y="267.62" text-anchor="end" font-family="Liberation Sans" font-size="10.1" text-rendering="geometricPrecision" fill="#262626" textLength="10.0" lengthAdjust="spacingAndGlyphs">10</text>
<path d="M316.40 248.67h1.8M503.20 248.67h-1.8" stroke="#808080" stroke-width="0.5"/>
<text x="312.40" y="252.27" text-anchor="end" font-family="Liberation Sans" font-size="10.1" text-rendering="geometricPrecision" fill="#262626" textLength="10.0" lengthAdjust="spacingAndGlyphs">12</text>
<path d="M316.40 233.31h1.8M503.20 233.31h-1.8" stroke="#808080" stroke-width="0.5"/>
<text x="312.40" y="236.91" text-anchor="end" font-family="Liberation Sans" font-size="10.1" text-rendering="geometricPrecision" fill="#262626" textLength="10.0" lengthAdjust="spacingAndGlyphs">14</text>
<path d="M316.40 217.96h1.8M503.20 217.96h-1.8" stroke="#808080" stroke-width="0.5"/>
<text x="312.40" y="221.56" text-anchor="end" font-family="Liberation Sans" font-size="10.1" text-rendering="geometricPrecision" fill="#262626" textLength="10.0" lengthAdjust="spacingAndGlyphs">16</text>
<path d="M316.40 202.60h1.8M503.20 202.60h-1.8" stroke="#808080" stroke-width="0.5"/>
<text x="312.40" y="206.20" text-anchor="end" font-family="Liberation Sans" font-size="10.1" text-rendering="geometricPrecision" fill="#262626" textLength="10.0" lengthAdjust="spacingAndGlyphs">18</text>
<path d="M316.40 340.80v-1.8M316.40 202.60v1.8" stroke="#808080" stroke-width="0.5"/>
<text x="315.90" y="352.20" text-anchor="middle" font-family="Liberation Sans" font-size="10.1" text-rendering="geometricPrecision" fill="#262626" textLength="5.2" lengthAdjust="spacingAndGlyphs">0</text>
<path d="M345.92 340.80v-1.8M345.92 202.60v1.8" stroke="#808080" stroke-width="0.5"/>
<text x="342.40" y="352.20" text-anchor="middle" font-family="Liberation Sans" font-size="10.1" text-rendering="geometricPrecision" fill="#262626" textLength="10.0" lengthAdjust="spacingAndGlyphs">10</text>
<path d="M375.45 340.80v-1.8M375.45 202.60v1.8" stroke="#808080" stroke-width="0.5"/>
<text x="374.80" y="352.20" text-anchor="middle" font-family="Liberation Sans" font-size="10.1" text-rendering="geometricPrecision" fill="#262626" textLength="10.0" lengthAdjust="spacingAndGlyphs">20</text>
<path d="M404.97 340.80v-1.8M404.97 202.60v1.8" stroke="#808080" stroke-width="0.5"/>
<text x="404.30" y="352.20" text-anchor="middle" font-family="Liberation Sans" font-size="10.1" text-rendering="geometricPrecision" fill="#262626" textLength="10.0" lengthAdjust="spacingAndGlyphs">30</text>
<path d="M434.50 340.80v-1.8M434.50 202.60v1.8" stroke="#808080" stroke-width="0.5"/>
<text x="434.40" y="352.20" text-anchor="middle" font-family="Liberation Sans" font-size="10.1" text-rendering="geometricPrecision" fill="#262626" textLength="10.0" lengthAdjust="spacingAndGlyphs">40</text>
<path d="M464.02 340.80v-1.8M464.02 202.60v1.8" stroke="#808080" stroke-width="0.5"/>
<text x="464.30" y="352.20" text-anchor="middle" font-family="Liberation Sans" font-size="10.1" text-rendering="geometricPrecision" fill="#262626" textLength="10.0" lengthAdjust="spacingAndGlyphs">50</text>
<path d="M493.55 340.80v-1.8M493.55 202.60v1.8" stroke="#808080" stroke-width="0.5"/>
<text x="493.70" y="352.20" text-anchor="middle" font-family="Liberation Sans" font-size="10.1" text-rendering="geometricPrecision" fill="#262626" textLength="10.0" lengthAdjust="spacingAndGlyphs">60</text>
<polyline points="316.40,340.80 317.14,340.80 317.88,340.78 318.61,340.76 319.35,340.73 320.09,340.69 320.83,340.64 321.57,340.59 322.30,340.52 323.04,340.45 323.78,340.36 324.52,340.27 325.26,340.17 326.00,340.06 326.73,339.94 327.47,339.82 328.21,339.68 328.95,339.54 329.69,339.38 330.42,339.22 331.16,339.05 331.90,338.87 332.64,338.69 333.38,338.49 334.11,338.28 334.85,338.07 335.59,337.85 336.33,337.62 337.07,337.38 337.81,337.13 338.54,336.87 339.28,336.61 340.02,336.33 340.76,336.05 341.50,335.76 342.23,335.46 342.97,335.15 343.71,334.83 344.45,334.50 345.19,334.17 345.92,333.82 346.66,333.47 347.40,333.11 348.14,332.74 348.88,332.36 349.61,331.98 350.35,331.58 351.09,331.18 351.83,330.76 352.57,330.34 353.31,329.91 354.04,329.48 354.78,329.03 355.52,328.57 356.26,328.11 357.00,327.64 357.73,327.16 358.47,326.67 359.21,326.17 359.95,325.67 360.69,325.15 361.42,324.63 362.16,324.10 362.90,323.56 363.64,323.01 364.38,322.45 365.12,321.89 365.85,321.32 366.59,320.73 367.33,320.14 368.07,319.55 368.81,318.94 369.54,318.32 370.28,317.70 371.02,317.07 371.76,316.43 372.50,315.78 373.23,315.12 373.97,314.46 374.71,313.79 375.45,313.10 376.19,312.42 376.92,311.72 377.66,311.01 378.40,310.30 379.14,309.58 379.88,308.85 380.62,308.11 381.35,307.36 382.09,306.61 382.83,305.84 383.57,305.07 384.31,304.29 385.04,303.51 385.78,302.71 386.52,301.91 387.26,301.10 388.00,300.28 388.73,299.45 389.47,298.62 390.21,297.77 390.95,296.92 391.69,296.06 392.42,295.20 393.16,294.32 393.90,293.44 394.64,292.55 395.38,291.65 396.12,290.75 396.85,289.83 397.59,288.91 398.33,287.98 399.07,287.05 399.81,286.10 400.54,285.15 401.28,284.19 402.02,283.22 402.76,282.25 403.50,281.26 404.23,280.27 404.97,279.27 405.71,278.27 406.45,277.26 407.19,276.23 407.93,275.21 408.66,274.17 409.40,273.13 410.14,272.08 410.88,271.02 411.62,269.95 412.35,268.88 413.09,267.80 413.83,266.71 414.57,265.62 415.31,264.51 416.04,263.41 416.78,262.29 417.52,261.16 418.26,260.03 419.00,258.89 419.73,257.75 420.47,256.60 421.21,255.44 421.95,254.27 422.69,253.09 423.43,251.91 424.16,250.72 424.90,249.53 425.64,248.33 426.38,247.12 427.12,245.90 427.85,244.68 428.59,243.45 429.33,242.21 430.07,240.97 430.81,239.72 431.54,238.46 432.28,237.19 433.02,235.92 433.76,234.64 434.50,233.36 435.24,232.07 435.97,230.77 436.71,229.47 437.45,228.15 438.19,226.84 438.93,225.51 439.66,224.18 440.40,222.84 441.14,221.50 441.88,220.15 442.62,218.79 443.35,217.43 444.09,216.06 444.83,214.68 445.57,213.30 446.31,211.91 447.04,210.52 447.78,209.12 448.52,207.71 449.26,206.29 450.00,207.38 450.74,208.48 451.47,209.60 452.21,210.75 452.95,211.91 453.69,213.09 454.43,214.30 455.16,215.52 455.90,216.76 456.64,218.02 457.38,219.31 458.12,220.61 458.85,221.93 459.59,223.27 460.33,224.63 461.07,226.01 461.81,227.41 462.55,228.84 463.28,230.28 464.02,231.74 464.76,233.21 465.50,234.71 466.24,236.23 466.97,237.77 467.71,239.33 468.45,240.90 469.19,242.50 469.93,244.11 470.66,245.75 471.40,247.40 472.14,249.08 472.88,250.77 473.62,252.48 474.35,254.21 475.09,255.96 475.83,257.73 476.57,259.52 477.31,261.33 478.05,263.15 478.78,265.00 479.52,266.86 480.26,268.74 481.00,270.65 481.74,272.57 482.47,274.51 483.21,276.46 483.95,278.44 484.69,280.44 485.43,282.45 486.16,284.48 486.90,286.53 487.64,288.60 488.38,290.69 489.12,292.80 489.86,294.92 490.59,297.07 491.33,299.23 492.07,301.41 492.81,303.61 493.55,305.83 494.28,312.71 495.02,319.64 495.76,325.97 496.50,331.46 497.24,334.00 497.97,336.66 498.71,337.97 499.45,339.40 500.19,340.04 500.93,340.61 501.66,340.76" fill="none" stroke="#e06a2e" stroke-width="1.1"/>
<rect x="321.80" y="207.80" width="21.70" height="11.90" fill="#0072be"/>
<path d="M322.20 232.10H342.40" stroke="#e2300c" stroke-width="2.1"/>
<text x="347.60" y="218.70" font-family="Liberation Serif" font-size="14" fill="#1a1a1a" stroke="#1a1a1a" stroke-width="0.12" textLength="72.00" lengthAdjust="spacingAndGlyphs">sample MDF</text>
<text x="347.60" y="234.20" font-family="Liberation Serif" font-size="14" fill="#1a1a1a" stroke="#1a1a1a" stroke-width="0.12" textLength="76.70" lengthAdjust="spacingAndGlyphs">uniform MDF</text>
<text x="350.00" y="371.20" font-family="Liberation Serif" font-size="14" fill="#1a1a1a" stroke="#1a1a1a" stroke-width="0.12" textLength="138.00" lengthAdjust="spacingAndGlyphs">Misorientation Angle (°)</text>
<text transform="translate(297.60,316.70) rotate(-90)" font-family="Liberation Serif" font-size="14" fill="#1a1a1a" stroke="#1a1a1a" stroke-width="0.12" textLength="81.60" lengthAdjust="spacingAndGlyphs">Frequency (%)</text>
    </svg></body></html>
